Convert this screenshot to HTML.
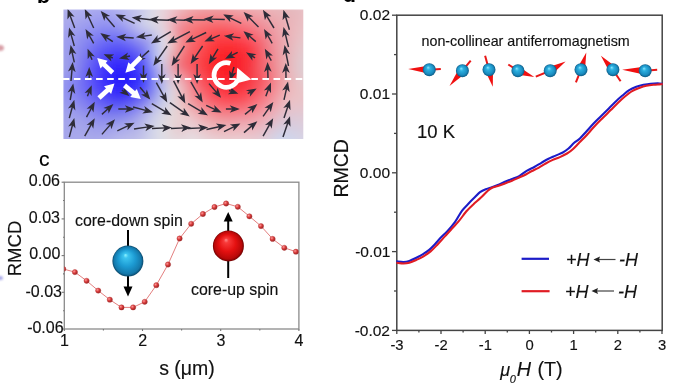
<!DOCTYPE html>
<html><head><meta charset="utf-8"><style>
html,body{margin:0;padding:0;background:#fff;width:675px;height:386px;overflow:hidden}
svg{display:block;filter:blur(0.3px)}
svg text{stroke:#111;stroke-width:0.15px}
</style></head><body>
<svg width="675" height="386" viewBox="0 0 675 386">
<defs>
<clipPath id="clipc"><rect x="64.3" y="182.2" width="234.6" height="146.8"/></clipPath>
<clipPath id="clipb"><rect x="63.4" y="9.6" width="239.9" height="129.4"/></clipPath>
<filter id="blur1" x="-100%" y="-100%" width="300%" height="300%"><feGaussianBlur stdDeviation="1"/></filter>
<filter id="blur2" x="-5%" y="-5%" width="110%" height="110%"><feGaussianBlur stdDeviation="2.2"/></filter>
<radialGradient id="gdot" cx="0.35" cy="0.35" r="0.7"><stop offset="0" stop-color="#ff9a9a"/><stop offset="0.5" stop-color="#d83a3a"/><stop offset="1" stop-color="#902020"/></radialGradient>
<radialGradient id="gcyan" cx="0.5" cy="0.5" r="0.5" fx="0.4" fy="0.32"><stop offset="0" stop-color="#8ae6ff"/><stop offset="0.3" stop-color="#2cb0e0"/><stop offset="0.75" stop-color="#1a8cc0"/><stop offset="1" stop-color="#0c5a84"/></radialGradient>
<radialGradient id="gblue" cx="0.5" cy="0.5" r="0.5" fx="0.42" fy="0.3"><stop offset="0" stop-color="#8ff4ff"/><stop offset="0.15" stop-color="#3cc4f0"/><stop offset="0.55" stop-color="#1c9ad2"/><stop offset="0.88" stop-color="#1478aa"/><stop offset="1" stop-color="#0a4668"/></radialGradient>
<radialGradient id="gred" cx="0.5" cy="0.5" r="0.5" fx="0.42" fy="0.3"><stop offset="0" stop-color="#ff8a8a"/><stop offset="0.15" stop-color="#f83a3a"/><stop offset="0.55" stop-color="#e41010"/><stop offset="0.88" stop-color="#b80808"/><stop offset="1" stop-color="#700000"/></radialGradient>
</defs>
<rect width="675" height="386" fill="#fff"/>
<ellipse cx="0" cy="48" rx="4" ry="3" fill="#d9a0a8" filter="url(#blur1)"/><ellipse cx="0" cy="278" rx="3" ry="2" fill="#a8a8e8" filter="url(#blur1)"/>
<!-- panel b -->
<g clip-path="url(#clipb)"><g filter="url(#blur2)"><rect x="60.4" y="6.6" width="4.5" height="4.5" fill="#afafeb"/><rect x="64.4" y="6.6" width="4.5" height="4.5" fill="#b0b0eb"/><rect x="68.4" y="6.6" width="4.5" height="4.5" fill="#afb0eb"/><rect x="72.4" y="6.6" width="4.5" height="4.5" fill="#afafec"/><rect x="76.4" y="6.6" width="4.5" height="4.5" fill="#aeaeed"/><rect x="80.4" y="6.6" width="4.5" height="4.5" fill="#adaded"/><rect x="84.4" y="6.6" width="4.5" height="4.5" fill="#abacee"/><rect x="88.4" y="6.6" width="4.5" height="4.5" fill="#aaabee"/><rect x="92.4" y="6.6" width="4.5" height="4.5" fill="#a9aaef"/><rect x="96.4" y="6.6" width="4.5" height="4.5" fill="#a8a9ef"/><rect x="100.4" y="6.6" width="4.5" height="4.5" fill="#a9a9f0"/><rect x="104.4" y="6.6" width="4.5" height="4.5" fill="#aaaaf0"/><rect x="108.4" y="6.6" width="4.5" height="4.5" fill="#acacf0"/><rect x="112.4" y="6.6" width="4.5" height="4.5" fill="#aeaff0"/><rect x="116.4" y="6.6" width="4.5" height="4.5" fill="#b1b2ef"/><rect x="120.4" y="6.6" width="4.5" height="4.5" fill="#b5b6ef"/><rect x="124.4" y="6.6" width="4.5" height="4.5" fill="#b9baee"/><rect x="128.4" y="6.6" width="4.5" height="4.5" fill="#bdbeed"/><rect x="132.4" y="6.6" width="4.5" height="4.5" fill="#c2c2ec"/><rect x="136.4" y="6.6" width="4.5" height="4.5" fill="#c6c7ec"/><rect x="140.4" y="6.6" width="4.5" height="4.5" fill="#ccccea"/><rect x="144.4" y="6.6" width="4.5" height="4.5" fill="#d2d1e9"/><rect x="148.4" y="6.6" width="4.5" height="4.5" fill="#d8d5e6"/><rect x="152.4" y="6.6" width="4.5" height="4.5" fill="#ddd7e4"/><rect x="156.4" y="6.6" width="4.5" height="4.5" fill="#e1d6e0"/><rect x="160.4" y="6.6" width="4.5" height="4.5" fill="#e5d3dc"/><rect x="164.4" y="6.6" width="4.5" height="4.5" fill="#e7ced6"/><rect x="168.4" y="6.6" width="4.5" height="4.5" fill="#eac8d0"/><rect x="172.4" y="6.6" width="4.5" height="4.5" fill="#ecc2c8"/><rect x="176.4" y="6.6" width="4.5" height="4.5" fill="#edbbc1"/><rect x="180.4" y="6.6" width="4.5" height="4.5" fill="#eeb5ba"/><rect x="184.4" y="6.6" width="4.5" height="4.5" fill="#efb0b4"/><rect x="188.4" y="6.6" width="4.5" height="4.5" fill="#efabaf"/><rect x="192.4" y="6.6" width="4.5" height="4.5" fill="#efa7ab"/><rect x="196.4" y="6.6" width="4.5" height="4.5" fill="#efa4a8"/><rect x="200.4" y="6.6" width="4.5" height="4.5" fill="#efa2a6"/><rect x="204.4" y="6.6" width="4.5" height="4.5" fill="#eea0a5"/><rect x="208.4" y="6.6" width="4.5" height="4.5" fill="#ee9fa4"/><rect x="212.4" y="6.6" width="4.5" height="4.5" fill="#ee9fa3"/><rect x="216.4" y="6.6" width="4.5" height="4.5" fill="#ee9fa3"/><rect x="220.4" y="6.6" width="4.5" height="4.5" fill="#ef9fa4"/><rect x="224.4" y="6.6" width="4.5" height="4.5" fill="#efa1a5"/><rect x="228.4" y="6.6" width="4.5" height="4.5" fill="#efa3a7"/><rect x="232.4" y="6.6" width="4.5" height="4.5" fill="#eea5a9"/><rect x="236.4" y="6.6" width="4.5" height="4.5" fill="#eea7ac"/><rect x="240.4" y="6.6" width="4.5" height="4.5" fill="#eea9ae"/><rect x="244.4" y="6.6" width="4.5" height="4.5" fill="#edabaf"/><rect x="248.4" y="6.6" width="4.5" height="4.5" fill="#edacb0"/><rect x="252.4" y="6.6" width="4.5" height="4.5" fill="#ecadb2"/><rect x="256.4" y="6.6" width="4.5" height="4.5" fill="#ecafb3"/><rect x="260.4" y="6.6" width="4.5" height="4.5" fill="#ebb0b5"/><rect x="264.4" y="6.6" width="4.5" height="4.5" fill="#eab2b6"/><rect x="268.4" y="6.6" width="4.5" height="4.5" fill="#eab3b8"/><rect x="272.4" y="6.6" width="4.5" height="4.5" fill="#e9b5b9"/><rect x="276.4" y="6.6" width="4.5" height="4.5" fill="#e8b6ba"/><rect x="280.4" y="6.6" width="4.5" height="4.5" fill="#e7b7bb"/><rect x="284.4" y="6.6" width="4.5" height="4.5" fill="#e6b8bc"/><rect x="288.4" y="6.6" width="4.5" height="4.5" fill="#e5b9bd"/><rect x="292.4" y="6.6" width="4.5" height="4.5" fill="#e5babf"/><rect x="296.4" y="6.6" width="4.5" height="4.5" fill="#e6bcc1"/><rect x="300.4" y="6.6" width="4.5" height="4.5" fill="#e7bec3"/><rect x="304.4" y="6.6" width="4.5" height="4.5" fill="#e7c1c6"/><rect x="60.4" y="10.6" width="4.5" height="4.5" fill="#aeaeea"/><rect x="64.4" y="10.6" width="4.5" height="4.5" fill="#aeaeeb"/><rect x="68.4" y="10.6" width="4.5" height="4.5" fill="#aeaeeb"/><rect x="72.4" y="10.6" width="4.5" height="4.5" fill="#adadec"/><rect x="76.4" y="10.6" width="4.5" height="4.5" fill="#ababed"/><rect x="80.4" y="10.6" width="4.5" height="4.5" fill="#aaaaed"/><rect x="84.4" y="10.6" width="4.5" height="4.5" fill="#a8a9ee"/><rect x="88.4" y="10.6" width="4.5" height="4.5" fill="#a7a7ef"/><rect x="92.4" y="10.6" width="4.5" height="4.5" fill="#a5a5ef"/><rect x="96.4" y="10.6" width="4.5" height="4.5" fill="#a4a4ef"/><rect x="100.4" y="10.6" width="4.5" height="4.5" fill="#a4a4f0"/><rect x="104.4" y="10.6" width="4.5" height="4.5" fill="#a5a5f0"/><rect x="108.4" y="10.6" width="4.5" height="4.5" fill="#a7a7f0"/><rect x="112.4" y="10.6" width="4.5" height="4.5" fill="#aaaaf0"/><rect x="116.4" y="10.6" width="4.5" height="4.5" fill="#adadef"/><rect x="120.4" y="10.6" width="4.5" height="4.5" fill="#b1b2ee"/><rect x="124.4" y="10.6" width="4.5" height="4.5" fill="#b6b6ed"/><rect x="128.4" y="10.6" width="4.5" height="4.5" fill="#bbbbec"/><rect x="132.4" y="10.6" width="4.5" height="4.5" fill="#c0c0eb"/><rect x="136.4" y="10.6" width="4.5" height="4.5" fill="#c5c5eb"/><rect x="140.4" y="10.6" width="4.5" height="4.5" fill="#cbcbea"/><rect x="144.4" y="10.6" width="4.5" height="4.5" fill="#d2d2e8"/><rect x="148.4" y="10.6" width="4.5" height="4.5" fill="#d8d6e6"/><rect x="152.4" y="10.6" width="4.5" height="4.5" fill="#ddd7e3"/><rect x="156.4" y="10.6" width="4.5" height="4.5" fill="#e2d6df"/><rect x="160.4" y="10.6" width="4.5" height="4.5" fill="#e5d2da"/><rect x="164.4" y="10.6" width="4.5" height="4.5" fill="#e8ccd4"/><rect x="168.4" y="10.6" width="4.5" height="4.5" fill="#eac4cc"/><rect x="172.4" y="10.6" width="4.5" height="4.5" fill="#ecbbc3"/><rect x="176.4" y="10.6" width="4.5" height="4.5" fill="#eeb3ba"/><rect x="180.4" y="10.6" width="4.5" height="4.5" fill="#efacb2"/><rect x="184.4" y="10.6" width="4.5" height="4.5" fill="#f0a6ab"/><rect x="188.4" y="10.6" width="4.5" height="4.5" fill="#f0a0a5"/><rect x="192.4" y="10.6" width="4.5" height="4.5" fill="#f19ca0"/><rect x="196.4" y="10.6" width="4.5" height="4.5" fill="#f0999d"/><rect x="200.4" y="10.6" width="4.5" height="4.5" fill="#f0969b"/><rect x="204.4" y="10.6" width="4.5" height="4.5" fill="#f09599"/><rect x="208.4" y="10.6" width="4.5" height="4.5" fill="#f09499"/><rect x="212.4" y="10.6" width="4.5" height="4.5" fill="#f09398"/><rect x="216.4" y="10.6" width="4.5" height="4.5" fill="#f09298"/><rect x="220.4" y="10.6" width="4.5" height="4.5" fill="#f19398"/><rect x="224.4" y="10.6" width="4.5" height="4.5" fill="#f1959a"/><rect x="228.4" y="10.6" width="4.5" height="4.5" fill="#f1979c"/><rect x="232.4" y="10.6" width="4.5" height="4.5" fill="#f09a9f"/><rect x="236.4" y="10.6" width="4.5" height="4.5" fill="#f09da2"/><rect x="240.4" y="10.6" width="4.5" height="4.5" fill="#f09fa4"/><rect x="244.4" y="10.6" width="4.5" height="4.5" fill="#efa1a6"/><rect x="248.4" y="10.6" width="4.5" height="4.5" fill="#efa3a8"/><rect x="252.4" y="10.6" width="4.5" height="4.5" fill="#eea5aa"/><rect x="256.4" y="10.6" width="4.5" height="4.5" fill="#eda7ad"/><rect x="260.4" y="10.6" width="4.5" height="4.5" fill="#eca9af"/><rect x="264.4" y="10.6" width="4.5" height="4.5" fill="#ebacb1"/><rect x="268.4" y="10.6" width="4.5" height="4.5" fill="#ebaeb3"/><rect x="272.4" y="10.6" width="4.5" height="4.5" fill="#eab0b5"/><rect x="276.4" y="10.6" width="4.5" height="4.5" fill="#e9b2b7"/><rect x="280.4" y="10.6" width="4.5" height="4.5" fill="#e8b3b8"/><rect x="284.4" y="10.6" width="4.5" height="4.5" fill="#e7b5ba"/><rect x="288.4" y="10.6" width="4.5" height="4.5" fill="#e6b6bb"/><rect x="292.4" y="10.6" width="4.5" height="4.5" fill="#e6b8bd"/><rect x="296.4" y="10.6" width="4.5" height="4.5" fill="#e6babf"/><rect x="300.4" y="10.6" width="4.5" height="4.5" fill="#e7bdc2"/><rect x="304.4" y="10.6" width="4.5" height="4.5" fill="#e8c0c5"/><rect x="60.4" y="14.6" width="4.5" height="4.5" fill="#acaceb"/><rect x="64.4" y="14.6" width="4.5" height="4.5" fill="#acaceb"/><rect x="68.4" y="14.6" width="4.5" height="4.5" fill="#ababeb"/><rect x="72.4" y="14.6" width="4.5" height="4.5" fill="#aaaaec"/><rect x="76.4" y="14.6" width="4.5" height="4.5" fill="#a8a8ed"/><rect x="80.4" y="14.6" width="4.5" height="4.5" fill="#a7a7ee"/><rect x="84.4" y="14.6" width="4.5" height="4.5" fill="#a5a5ef"/><rect x="88.4" y="14.6" width="4.5" height="4.5" fill="#a3a3ef"/><rect x="92.4" y="14.6" width="4.5" height="4.5" fill="#a1a1f0"/><rect x="96.4" y="14.6" width="4.5" height="4.5" fill="#9f9ff0"/><rect x="100.4" y="14.6" width="4.5" height="4.5" fill="#9f9ff0"/><rect x="104.4" y="14.6" width="4.5" height="4.5" fill="#9f9ff0"/><rect x="108.4" y="14.6" width="4.5" height="4.5" fill="#a1a1f0"/><rect x="112.4" y="14.6" width="4.5" height="4.5" fill="#a4a4f0"/><rect x="116.4" y="14.6" width="4.5" height="4.5" fill="#a8a8ef"/><rect x="120.4" y="14.6" width="4.5" height="4.5" fill="#adadee"/><rect x="124.4" y="14.6" width="4.5" height="4.5" fill="#b2b2ed"/><rect x="128.4" y="14.6" width="4.5" height="4.5" fill="#b8b8ec"/><rect x="132.4" y="14.6" width="4.5" height="4.5" fill="#bfbeeb"/><rect x="136.4" y="14.6" width="4.5" height="4.5" fill="#c5c5ea"/><rect x="140.4" y="14.6" width="4.5" height="4.5" fill="#cbcce9"/><rect x="144.4" y="14.6" width="4.5" height="4.5" fill="#d2d3e7"/><rect x="148.4" y="14.6" width="4.5" height="4.5" fill="#d8d7e5"/><rect x="152.4" y="14.6" width="4.5" height="4.5" fill="#ddd8e2"/><rect x="156.4" y="14.6" width="4.5" height="4.5" fill="#e1d5de"/><rect x="160.4" y="14.6" width="4.5" height="4.5" fill="#e5d1d9"/><rect x="164.4" y="14.6" width="4.5" height="4.5" fill="#e8c9d2"/><rect x="168.4" y="14.6" width="4.5" height="4.5" fill="#ebc0c9"/><rect x="172.4" y="14.6" width="4.5" height="4.5" fill="#edb5be"/><rect x="176.4" y="14.6" width="4.5" height="4.5" fill="#eeabb3"/><rect x="180.4" y="14.6" width="4.5" height="4.5" fill="#f0a2a9"/><rect x="184.4" y="14.6" width="4.5" height="4.5" fill="#f19ba1"/><rect x="188.4" y="14.6" width="4.5" height="4.5" fill="#f1959a"/><rect x="192.4" y="14.6" width="4.5" height="4.5" fill="#f29195"/><rect x="196.4" y="14.6" width="4.5" height="4.5" fill="#f28d92"/><rect x="200.4" y="14.6" width="4.5" height="4.5" fill="#f28b8f"/><rect x="204.4" y="14.6" width="4.5" height="4.5" fill="#f2888d"/><rect x="208.4" y="14.6" width="4.5" height="4.5" fill="#f2878c"/><rect x="212.4" y="14.6" width="4.5" height="4.5" fill="#f2868b"/><rect x="216.4" y="14.6" width="4.5" height="4.5" fill="#f3858b"/><rect x="220.4" y="14.6" width="4.5" height="4.5" fill="#f3868c"/><rect x="224.4" y="14.6" width="4.5" height="4.5" fill="#f3888d"/><rect x="228.4" y="14.6" width="4.5" height="4.5" fill="#f38a90"/><rect x="232.4" y="14.6" width="4.5" height="4.5" fill="#f38d93"/><rect x="236.4" y="14.6" width="4.5" height="4.5" fill="#f29096"/><rect x="240.4" y="14.6" width="4.5" height="4.5" fill="#f2939a"/><rect x="244.4" y="14.6" width="4.5" height="4.5" fill="#f1969c"/><rect x="248.4" y="14.6" width="4.5" height="4.5" fill="#f0989f"/><rect x="252.4" y="14.6" width="4.5" height="4.5" fill="#ef9ba2"/><rect x="256.4" y="14.6" width="4.5" height="4.5" fill="#ee9ea5"/><rect x="260.4" y="14.6" width="4.5" height="4.5" fill="#eda2a8"/><rect x="264.4" y="14.6" width="4.5" height="4.5" fill="#eca5ab"/><rect x="268.4" y="14.6" width="4.5" height="4.5" fill="#eba8ae"/><rect x="272.4" y="14.6" width="4.5" height="4.5" fill="#eaabb1"/><rect x="276.4" y="14.6" width="4.5" height="4.5" fill="#e9aeb4"/><rect x="280.4" y="14.6" width="4.5" height="4.5" fill="#e9b1b6"/><rect x="284.4" y="14.6" width="4.5" height="4.5" fill="#e8b3b8"/><rect x="288.4" y="14.6" width="4.5" height="4.5" fill="#e7b5ba"/><rect x="292.4" y="14.6" width="4.5" height="4.5" fill="#e7b7bc"/><rect x="296.4" y="14.6" width="4.5" height="4.5" fill="#e7babf"/><rect x="300.4" y="14.6" width="4.5" height="4.5" fill="#e8bdc2"/><rect x="304.4" y="14.6" width="4.5" height="4.5" fill="#e8c0c5"/><rect x="60.4" y="18.6" width="4.5" height="4.5" fill="#aaaaeb"/><rect x="64.4" y="18.6" width="4.5" height="4.5" fill="#a9a9ec"/><rect x="68.4" y="18.6" width="4.5" height="4.5" fill="#a8a8ec"/><rect x="72.4" y="18.6" width="4.5" height="4.5" fill="#a7a6ed"/><rect x="76.4" y="18.6" width="4.5" height="4.5" fill="#a5a5ed"/><rect x="80.4" y="18.6" width="4.5" height="4.5" fill="#a3a3ee"/><rect x="84.4" y="18.6" width="4.5" height="4.5" fill="#a1a1ef"/><rect x="88.4" y="18.6" width="4.5" height="4.5" fill="#9f9ef0"/><rect x="92.4" y="18.6" width="4.5" height="4.5" fill="#9c9cf0"/><rect x="96.4" y="18.6" width="4.5" height="4.5" fill="#9a9af0"/><rect x="100.4" y="18.6" width="4.5" height="4.5" fill="#9999f1"/><rect x="104.4" y="18.6" width="4.5" height="4.5" fill="#9999f1"/><rect x="108.4" y="18.6" width="4.5" height="4.5" fill="#9a9af1"/><rect x="112.4" y="18.6" width="4.5" height="4.5" fill="#9d9df0"/><rect x="116.4" y="18.6" width="4.5" height="4.5" fill="#a1a1f0"/><rect x="120.4" y="18.6" width="4.5" height="4.5" fill="#a7a7ef"/><rect x="124.4" y="18.6" width="4.5" height="4.5" fill="#adadee"/><rect x="128.4" y="18.6" width="4.5" height="4.5" fill="#b4b4ec"/><rect x="132.4" y="18.6" width="4.5" height="4.5" fill="#bcbceb"/><rect x="136.4" y="18.6" width="4.5" height="4.5" fill="#c3c4ea"/><rect x="140.4" y="18.6" width="4.5" height="4.5" fill="#cacbe9"/><rect x="144.4" y="18.6" width="4.5" height="4.5" fill="#d1d2e8"/><rect x="148.4" y="18.6" width="4.5" height="4.5" fill="#d7d6e5"/><rect x="152.4" y="18.6" width="4.5" height="4.5" fill="#dcd7e3"/><rect x="156.4" y="18.6" width="4.5" height="4.5" fill="#e0d5df"/><rect x="160.4" y="18.6" width="4.5" height="4.5" fill="#e4cfd9"/><rect x="164.4" y="18.6" width="4.5" height="4.5" fill="#e8c7d1"/><rect x="168.4" y="18.6" width="4.5" height="4.5" fill="#ebbcc6"/><rect x="172.4" y="18.6" width="4.5" height="4.5" fill="#edafb8"/><rect x="176.4" y="18.6" width="4.5" height="4.5" fill="#efa2ab"/><rect x="180.4" y="18.6" width="4.5" height="4.5" fill="#f098a0"/><rect x="184.4" y="18.6" width="4.5" height="4.5" fill="#f19097"/><rect x="188.4" y="18.6" width="4.5" height="4.5" fill="#f28b90"/><rect x="192.4" y="18.6" width="4.5" height="4.5" fill="#f3868a"/><rect x="196.4" y="18.6" width="4.5" height="4.5" fill="#f48286"/><rect x="200.4" y="18.6" width="4.5" height="4.5" fill="#f47f83"/><rect x="204.4" y="18.6" width="4.5" height="4.5" fill="#f47c80"/><rect x="208.4" y="18.6" width="4.5" height="4.5" fill="#f47a7f"/><rect x="212.4" y="18.6" width="4.5" height="4.5" fill="#f5787d"/><rect x="216.4" y="18.6" width="4.5" height="4.5" fill="#f5787d"/><rect x="220.4" y="18.6" width="4.5" height="4.5" fill="#f5787e"/><rect x="224.4" y="18.6" width="4.5" height="4.5" fill="#f57a80"/><rect x="228.4" y="18.6" width="4.5" height="4.5" fill="#f57c83"/><rect x="232.4" y="18.6" width="4.5" height="4.5" fill="#f57f87"/><rect x="236.4" y="18.6" width="4.5" height="4.5" fill="#f5838a"/><rect x="240.4" y="18.6" width="4.5" height="4.5" fill="#f4868e"/><rect x="244.4" y="18.6" width="4.5" height="4.5" fill="#f38991"/><rect x="248.4" y="18.6" width="4.5" height="4.5" fill="#f28d95"/><rect x="252.4" y="18.6" width="4.5" height="4.5" fill="#f19199"/><rect x="256.4" y="18.6" width="4.5" height="4.5" fill="#f0959d"/><rect x="260.4" y="18.6" width="4.5" height="4.5" fill="#ee9aa2"/><rect x="264.4" y="18.6" width="4.5" height="4.5" fill="#ed9ea6"/><rect x="268.4" y="18.6" width="4.5" height="4.5" fill="#eca3aa"/><rect x="272.4" y="18.6" width="4.5" height="4.5" fill="#eba7ad"/><rect x="276.4" y="18.6" width="4.5" height="4.5" fill="#eaabb1"/><rect x="280.4" y="18.6" width="4.5" height="4.5" fill="#eaaeb4"/><rect x="284.4" y="18.6" width="4.5" height="4.5" fill="#e9b1b7"/><rect x="288.4" y="18.6" width="4.5" height="4.5" fill="#e8b4b9"/><rect x="292.4" y="18.6" width="4.5" height="4.5" fill="#e8b7bc"/><rect x="296.4" y="18.6" width="4.5" height="4.5" fill="#e8babf"/><rect x="300.4" y="18.6" width="4.5" height="4.5" fill="#e8bdc2"/><rect x="304.4" y="18.6" width="4.5" height="4.5" fill="#e8c0c5"/><rect x="60.4" y="22.6" width="4.5" height="4.5" fill="#a8a8ec"/><rect x="64.4" y="22.6" width="4.5" height="4.5" fill="#a7a6ec"/><rect x="68.4" y="22.6" width="4.5" height="4.5" fill="#a5a5ed"/><rect x="72.4" y="22.6" width="4.5" height="4.5" fill="#a3a3ed"/><rect x="76.4" y="22.6" width="4.5" height="4.5" fill="#a1a1ee"/><rect x="80.4" y="22.6" width="4.5" height="4.5" fill="#9e9eef"/><rect x="84.4" y="22.6" width="4.5" height="4.5" fill="#9c9cef"/><rect x="88.4" y="22.6" width="4.5" height="4.5" fill="#9999f0"/><rect x="92.4" y="22.6" width="4.5" height="4.5" fill="#9696f1"/><rect x="96.4" y="22.6" width="4.5" height="4.5" fill="#9494f1"/><rect x="100.4" y="22.6" width="4.5" height="4.5" fill="#9292f1"/><rect x="104.4" y="22.6" width="4.5" height="4.5" fill="#9292f1"/><rect x="108.4" y="22.6" width="4.5" height="4.5" fill="#9393f1"/><rect x="112.4" y="22.6" width="4.5" height="4.5" fill="#9595f1"/><rect x="116.4" y="22.6" width="4.5" height="4.5" fill="#9999f1"/><rect x="120.4" y="22.6" width="4.5" height="4.5" fill="#9f9ff0"/><rect x="124.4" y="22.6" width="4.5" height="4.5" fill="#a6a6ef"/><rect x="128.4" y="22.6" width="4.5" height="4.5" fill="#aeaeed"/><rect x="132.4" y="22.6" width="4.5" height="4.5" fill="#b7b7ec"/><rect x="136.4" y="22.6" width="4.5" height="4.5" fill="#bfc0ec"/><rect x="140.4" y="22.6" width="4.5" height="4.5" fill="#c7c7ea"/><rect x="144.4" y="22.6" width="4.5" height="4.5" fill="#cdcee9"/><rect x="148.4" y="22.6" width="4.5" height="4.5" fill="#d2d2e7"/><rect x="152.4" y="22.6" width="4.5" height="4.5" fill="#d8d4e4"/><rect x="156.4" y="22.6" width="4.5" height="4.5" fill="#ddd3e0"/><rect x="160.4" y="22.6" width="4.5" height="4.5" fill="#e3cfd9"/><rect x="164.4" y="22.6" width="4.5" height="4.5" fill="#e7c6d0"/><rect x="168.4" y="22.6" width="4.5" height="4.5" fill="#ebb9c3"/><rect x="172.4" y="22.6" width="4.5" height="4.5" fill="#eda9b3"/><rect x="176.4" y="22.6" width="4.5" height="4.5" fill="#ef9aa4"/><rect x="180.4" y="22.6" width="4.5" height="4.5" fill="#f08e97"/><rect x="184.4" y="22.6" width="4.5" height="4.5" fill="#f2868d"/><rect x="188.4" y="22.6" width="4.5" height="4.5" fill="#f38186"/><rect x="192.4" y="22.6" width="4.5" height="4.5" fill="#f47c80"/><rect x="196.4" y="22.6" width="4.5" height="4.5" fill="#f5787c"/><rect x="200.4" y="22.6" width="4.5" height="4.5" fill="#f67478"/><rect x="204.4" y="22.6" width="4.5" height="4.5" fill="#f67074"/><rect x="208.4" y="22.6" width="4.5" height="4.5" fill="#f76d72"/><rect x="212.4" y="22.6" width="4.5" height="4.5" fill="#f76b70"/><rect x="216.4" y="22.6" width="4.5" height="4.5" fill="#f76a6f"/><rect x="220.4" y="22.6" width="4.5" height="4.5" fill="#f76a70"/><rect x="224.4" y="22.6" width="4.5" height="4.5" fill="#f76c73"/><rect x="228.4" y="22.6" width="4.5" height="4.5" fill="#f76e76"/><rect x="232.4" y="22.6" width="4.5" height="4.5" fill="#f77179"/><rect x="236.4" y="22.6" width="4.5" height="4.5" fill="#f7757d"/><rect x="240.4" y="22.6" width="4.5" height="4.5" fill="#f67982"/><rect x="244.4" y="22.6" width="4.5" height="4.5" fill="#f57d86"/><rect x="248.4" y="22.6" width="4.5" height="4.5" fill="#f4818a"/><rect x="252.4" y="22.6" width="4.5" height="4.5" fill="#f2868f"/><rect x="256.4" y="22.6" width="4.5" height="4.5" fill="#f18c95"/><rect x="260.4" y="22.6" width="4.5" height="4.5" fill="#ef919b"/><rect x="264.4" y="22.6" width="4.5" height="4.5" fill="#ee97a0"/><rect x="268.4" y="22.6" width="4.5" height="4.5" fill="#ed9da5"/><rect x="272.4" y="22.6" width="4.5" height="4.5" fill="#eca2aa"/><rect x="276.4" y="22.6" width="4.5" height="4.5" fill="#eba7ae"/><rect x="280.4" y="22.6" width="4.5" height="4.5" fill="#ebacb2"/><rect x="284.4" y="22.6" width="4.5" height="4.5" fill="#eab0b6"/><rect x="288.4" y="22.6" width="4.5" height="4.5" fill="#e9b4b9"/><rect x="292.4" y="22.6" width="4.5" height="4.5" fill="#e9b7bc"/><rect x="296.4" y="22.6" width="4.5" height="4.5" fill="#e8bbc0"/><rect x="300.4" y="22.6" width="4.5" height="4.5" fill="#e8bec3"/><rect x="304.4" y="22.6" width="4.5" height="4.5" fill="#e8c1c6"/><rect x="60.4" y="26.6" width="4.5" height="4.5" fill="#a6a6ec"/><rect x="64.4" y="26.6" width="4.5" height="4.5" fill="#a4a4ed"/><rect x="68.4" y="26.6" width="4.5" height="4.5" fill="#a2a2ed"/><rect x="72.4" y="26.6" width="4.5" height="4.5" fill="#9f9fee"/><rect x="76.4" y="26.6" width="4.5" height="4.5" fill="#9d9def"/><rect x="80.4" y="26.6" width="4.5" height="4.5" fill="#9a9aef"/><rect x="84.4" y="26.6" width="4.5" height="4.5" fill="#9696f0"/><rect x="88.4" y="26.6" width="4.5" height="4.5" fill="#9393f1"/><rect x="92.4" y="26.6" width="4.5" height="4.5" fill="#9090f1"/><rect x="96.4" y="26.6" width="4.5" height="4.5" fill="#8d8df2"/><rect x="100.4" y="26.6" width="4.5" height="4.5" fill="#8a8af2"/><rect x="104.4" y="26.6" width="4.5" height="4.5" fill="#8989f2"/><rect x="108.4" y="26.6" width="4.5" height="4.5" fill="#898af2"/><rect x="112.4" y="26.6" width="4.5" height="4.5" fill="#8b8cf2"/><rect x="116.4" y="26.6" width="4.5" height="4.5" fill="#8f8ff2"/><rect x="120.4" y="26.6" width="4.5" height="4.5" fill="#9595f1"/><rect x="124.4" y="26.6" width="4.5" height="4.5" fill="#9c9cf0"/><rect x="128.4" y="26.6" width="4.5" height="4.5" fill="#a5a5ef"/><rect x="132.4" y="26.6" width="4.5" height="4.5" fill="#afafee"/><rect x="136.4" y="26.6" width="4.5" height="4.5" fill="#b8b9ed"/><rect x="140.4" y="26.6" width="4.5" height="4.5" fill="#c0c0ec"/><rect x="144.4" y="26.6" width="4.5" height="4.5" fill="#c5c5ea"/><rect x="148.4" y="26.6" width="4.5" height="4.5" fill="#cbcbe8"/><rect x="152.4" y="26.6" width="4.5" height="4.5" fill="#d2cfe6"/><rect x="156.4" y="26.6" width="4.5" height="4.5" fill="#d9d1e2"/><rect x="160.4" y="26.6" width="4.5" height="4.5" fill="#e0cfdb"/><rect x="164.4" y="26.6" width="4.5" height="4.5" fill="#e6c7d1"/><rect x="168.4" y="26.6" width="4.5" height="4.5" fill="#eab9c2"/><rect x="172.4" y="26.6" width="4.5" height="4.5" fill="#eda6b0"/><rect x="176.4" y="26.6" width="4.5" height="4.5" fill="#ef939e"/><rect x="180.4" y="26.6" width="4.5" height="4.5" fill="#f1868f"/><rect x="184.4" y="26.6" width="4.5" height="4.5" fill="#f37f86"/><rect x="188.4" y="26.6" width="4.5" height="4.5" fill="#f4797e"/><rect x="192.4" y="26.6" width="4.5" height="4.5" fill="#f67478"/><rect x="196.4" y="26.6" width="4.5" height="4.5" fill="#f76e72"/><rect x="200.4" y="26.6" width="4.5" height="4.5" fill="#f76a6d"/><rect x="204.4" y="26.6" width="4.5" height="4.5" fill="#f86569"/><rect x="208.4" y="26.6" width="4.5" height="4.5" fill="#f86166"/><rect x="212.4" y="26.6" width="4.5" height="4.5" fill="#f95e63"/><rect x="216.4" y="26.6" width="4.5" height="4.5" fill="#f95d62"/><rect x="220.4" y="26.6" width="4.5" height="4.5" fill="#f95d63"/><rect x="224.4" y="26.6" width="4.5" height="4.5" fill="#f95e65"/><rect x="228.4" y="26.6" width="4.5" height="4.5" fill="#f96068"/><rect x="232.4" y="26.6" width="4.5" height="4.5" fill="#f9636c"/><rect x="236.4" y="26.6" width="4.5" height="4.5" fill="#f96770"/><rect x="240.4" y="26.6" width="4.5" height="4.5" fill="#f86b75"/><rect x="244.4" y="26.6" width="4.5" height="4.5" fill="#f76f7a"/><rect x="248.4" y="26.6" width="4.5" height="4.5" fill="#f6757f"/><rect x="252.4" y="26.6" width="4.5" height="4.5" fill="#f47b85"/><rect x="256.4" y="26.6" width="4.5" height="4.5" fill="#f2828c"/><rect x="260.4" y="26.6" width="4.5" height="4.5" fill="#f08993"/><rect x="264.4" y="26.6" width="4.5" height="4.5" fill="#ef919a"/><rect x="268.4" y="26.6" width="4.5" height="4.5" fill="#ee98a0"/><rect x="272.4" y="26.6" width="4.5" height="4.5" fill="#ed9ea6"/><rect x="276.4" y="26.6" width="4.5" height="4.5" fill="#eca4ac"/><rect x="280.4" y="26.6" width="4.5" height="4.5" fill="#ebaab0"/><rect x="284.4" y="26.6" width="4.5" height="4.5" fill="#ebafb5"/><rect x="288.4" y="26.6" width="4.5" height="4.5" fill="#eab4b9"/><rect x="292.4" y="26.6" width="4.5" height="4.5" fill="#e9b8bd"/><rect x="296.4" y="26.6" width="4.5" height="4.5" fill="#e9bcc0"/><rect x="300.4" y="26.6" width="4.5" height="4.5" fill="#e8bfc4"/><rect x="304.4" y="26.6" width="4.5" height="4.5" fill="#e7c3c7"/><rect x="60.4" y="30.6" width="4.5" height="4.5" fill="#a4a4ed"/><rect x="64.4" y="30.6" width="4.5" height="4.5" fill="#a1a1ed"/><rect x="68.4" y="30.6" width="4.5" height="4.5" fill="#9f9fee"/><rect x="72.4" y="30.6" width="4.5" height="4.5" fill="#9c9cee"/><rect x="76.4" y="30.6" width="4.5" height="4.5" fill="#9999ef"/><rect x="80.4" y="30.6" width="4.5" height="4.5" fill="#9595f0"/><rect x="84.4" y="30.6" width="4.5" height="4.5" fill="#9191f0"/><rect x="88.4" y="30.6" width="4.5" height="4.5" fill="#8d8df1"/><rect x="92.4" y="30.6" width="4.5" height="4.5" fill="#8989f2"/><rect x="96.4" y="30.6" width="4.5" height="4.5" fill="#8585f2"/><rect x="100.4" y="30.6" width="4.5" height="4.5" fill="#8282f3"/><rect x="104.4" y="30.6" width="4.5" height="4.5" fill="#8080f3"/><rect x="108.4" y="30.6" width="4.5" height="4.5" fill="#8080f3"/><rect x="112.4" y="30.6" width="4.5" height="4.5" fill="#8081f3"/><rect x="116.4" y="30.6" width="4.5" height="4.5" fill="#8384f3"/><rect x="120.4" y="30.6" width="4.5" height="4.5" fill="#8989f2"/><rect x="124.4" y="30.6" width="4.5" height="4.5" fill="#9090f1"/><rect x="128.4" y="30.6" width="4.5" height="4.5" fill="#9999f0"/><rect x="132.4" y="30.6" width="4.5" height="4.5" fill="#a3a3ef"/><rect x="136.4" y="30.6" width="4.5" height="4.5" fill="#acacef"/><rect x="140.4" y="30.6" width="4.5" height="4.5" fill="#b4b4ed"/><rect x="144.4" y="30.6" width="4.5" height="4.5" fill="#babaeb"/><rect x="148.4" y="30.6" width="4.5" height="4.5" fill="#c1c1e9"/><rect x="152.4" y="30.6" width="4.5" height="4.5" fill="#cac9e7"/><rect x="156.4" y="30.6" width="4.5" height="4.5" fill="#d4cfe5"/><rect x="160.4" y="30.6" width="4.5" height="4.5" fill="#ded1df"/><rect x="164.4" y="30.6" width="4.5" height="4.5" fill="#e5cad4"/><rect x="168.4" y="30.6" width="4.5" height="4.5" fill="#eabcc3"/><rect x="172.4" y="30.6" width="4.5" height="4.5" fill="#eda8b0"/><rect x="176.4" y="30.6" width="4.5" height="4.5" fill="#ef949c"/><rect x="180.4" y="30.6" width="4.5" height="4.5" fill="#f1848d"/><rect x="184.4" y="30.6" width="4.5" height="4.5" fill="#f37b81"/><rect x="188.4" y="30.6" width="4.5" height="4.5" fill="#f57478"/><rect x="192.4" y="30.6" width="4.5" height="4.5" fill="#f66d71"/><rect x="196.4" y="30.6" width="4.5" height="4.5" fill="#f8676b"/><rect x="200.4" y="30.6" width="4.5" height="4.5" fill="#f86165"/><rect x="204.4" y="30.6" width="4.5" height="4.5" fill="#f95c60"/><rect x="208.4" y="30.6" width="4.5" height="4.5" fill="#fa575b"/><rect x="212.4" y="30.6" width="4.5" height="4.5" fill="#fa5358"/><rect x="216.4" y="30.6" width="4.5" height="4.5" fill="#fa5156"/><rect x="220.4" y="30.6" width="4.5" height="4.5" fill="#fa5056"/><rect x="224.4" y="30.6" width="4.5" height="4.5" fill="#fa5158"/><rect x="228.4" y="30.6" width="4.5" height="4.5" fill="#fa535b"/><rect x="232.4" y="30.6" width="4.5" height="4.5" fill="#fa555e"/><rect x="236.4" y="30.6" width="4.5" height="4.5" fill="#fa5963"/><rect x="240.4" y="30.6" width="4.5" height="4.5" fill="#fa5d68"/><rect x="244.4" y="30.6" width="4.5" height="4.5" fill="#f8626d"/><rect x="248.4" y="30.6" width="4.5" height="4.5" fill="#f76973"/><rect x="252.4" y="30.6" width="4.5" height="4.5" fill="#f5707b"/><rect x="256.4" y="30.6" width="4.5" height="4.5" fill="#f37883"/><rect x="260.4" y="30.6" width="4.5" height="4.5" fill="#f1818c"/><rect x="264.4" y="30.6" width="4.5" height="4.5" fill="#f08a94"/><rect x="268.4" y="30.6" width="4.5" height="4.5" fill="#ee929c"/><rect x="272.4" y="30.6" width="4.5" height="4.5" fill="#ed9aa3"/><rect x="276.4" y="30.6" width="4.5" height="4.5" fill="#eca2a9"/><rect x="280.4" y="30.6" width="4.5" height="4.5" fill="#eca8af"/><rect x="284.4" y="30.6" width="4.5" height="4.5" fill="#ebafb4"/><rect x="288.4" y="30.6" width="4.5" height="4.5" fill="#eab4b9"/><rect x="292.4" y="30.6" width="4.5" height="4.5" fill="#e9b9bd"/><rect x="296.4" y="30.6" width="4.5" height="4.5" fill="#e8bdc1"/><rect x="300.4" y="30.6" width="4.5" height="4.5" fill="#e8c1c5"/><rect x="304.4" y="30.6" width="4.5" height="4.5" fill="#e7c4c9"/><rect x="60.4" y="34.6" width="4.5" height="4.5" fill="#a2a2ed"/><rect x="64.4" y="34.6" width="4.5" height="4.5" fill="#9f9fee"/><rect x="68.4" y="34.6" width="4.5" height="4.5" fill="#9c9cee"/><rect x="72.4" y="34.6" width="4.5" height="4.5" fill="#9999ef"/><rect x="76.4" y="34.6" width="4.5" height="4.5" fill="#9595ef"/><rect x="80.4" y="34.6" width="4.5" height="4.5" fill="#9090f0"/><rect x="84.4" y="34.6" width="4.5" height="4.5" fill="#8c8cf1"/><rect x="88.4" y="34.6" width="4.5" height="4.5" fill="#8786f1"/><rect x="92.4" y="34.6" width="4.5" height="4.5" fill="#8281f2"/><rect x="96.4" y="34.6" width="4.5" height="4.5" fill="#7e7df3"/><rect x="100.4" y="34.6" width="4.5" height="4.5" fill="#7a79f3"/><rect x="104.4" y="34.6" width="4.5" height="4.5" fill="#7776f4"/><rect x="108.4" y="34.6" width="4.5" height="4.5" fill="#7575f4"/><rect x="112.4" y="34.6" width="4.5" height="4.5" fill="#7575f4"/><rect x="116.4" y="34.6" width="4.5" height="4.5" fill="#7777f4"/><rect x="120.4" y="34.6" width="4.5" height="4.5" fill="#7c7cf3"/><rect x="124.4" y="34.6" width="4.5" height="4.5" fill="#8383f2"/><rect x="128.4" y="34.6" width="4.5" height="4.5" fill="#8b8bf2"/><rect x="132.4" y="34.6" width="4.5" height="4.5" fill="#9494f0"/><rect x="136.4" y="34.6" width="4.5" height="4.5" fill="#9d9cef"/><rect x="140.4" y="34.6" width="4.5" height="4.5" fill="#a5a4ed"/><rect x="144.4" y="34.6" width="4.5" height="4.5" fill="#acabeb"/><rect x="148.4" y="34.6" width="4.5" height="4.5" fill="#b5b5ea"/><rect x="152.4" y="34.6" width="4.5" height="4.5" fill="#c1c1e9"/><rect x="156.4" y="34.6" width="4.5" height="4.5" fill="#cfcde8"/><rect x="160.4" y="34.6" width="4.5" height="4.5" fill="#dbd4e3"/><rect x="164.4" y="34.6" width="4.5" height="4.5" fill="#e4d0d8"/><rect x="168.4" y="34.6" width="4.5" height="4.5" fill="#eac1c7"/><rect x="172.4" y="34.6" width="4.5" height="4.5" fill="#edadb3"/><rect x="176.4" y="34.6" width="4.5" height="4.5" fill="#ef989e"/><rect x="180.4" y="34.6" width="4.5" height="4.5" fill="#f2868d"/><rect x="184.4" y="34.6" width="4.5" height="4.5" fill="#f47a7f"/><rect x="188.4" y="34.6" width="4.5" height="4.5" fill="#f67075"/><rect x="192.4" y="34.6" width="4.5" height="4.5" fill="#f7686c"/><rect x="196.4" y="34.6" width="4.5" height="4.5" fill="#f86165"/><rect x="200.4" y="34.6" width="4.5" height="4.5" fill="#f95a5e"/><rect x="204.4" y="34.6" width="4.5" height="4.5" fill="#fa5458"/><rect x="208.4" y="34.6" width="4.5" height="4.5" fill="#fa4e52"/><rect x="212.4" y="34.6" width="4.5" height="4.5" fill="#fb4a4e"/><rect x="216.4" y="34.6" width="4.5" height="4.5" fill="#fb474c"/><rect x="220.4" y="34.6" width="4.5" height="4.5" fill="#fb454b"/><rect x="224.4" y="34.6" width="4.5" height="4.5" fill="#fb454c"/><rect x="228.4" y="34.6" width="4.5" height="4.5" fill="#fb464e"/><rect x="232.4" y="34.6" width="4.5" height="4.5" fill="#fb4851"/><rect x="236.4" y="34.6" width="4.5" height="4.5" fill="#fb4c55"/><rect x="240.4" y="34.6" width="4.5" height="4.5" fill="#fa505a"/><rect x="244.4" y="34.6" width="4.5" height="4.5" fill="#f95660"/><rect x="248.4" y="34.6" width="4.5" height="4.5" fill="#f85d68"/><rect x="252.4" y="34.6" width="4.5" height="4.5" fill="#f66570"/><rect x="256.4" y="34.6" width="4.5" height="4.5" fill="#f46f7a"/><rect x="260.4" y="34.6" width="4.5" height="4.5" fill="#f27984"/><rect x="264.4" y="34.6" width="4.5" height="4.5" fill="#f0848e"/><rect x="268.4" y="34.6" width="4.5" height="4.5" fill="#ef8e97"/><rect x="272.4" y="34.6" width="4.5" height="4.5" fill="#ee97a0"/><rect x="276.4" y="34.6" width="4.5" height="4.5" fill="#ed9fa7"/><rect x="280.4" y="34.6" width="4.5" height="4.5" fill="#eca7ae"/><rect x="284.4" y="34.6" width="4.5" height="4.5" fill="#ebaeb4"/><rect x="288.4" y="34.6" width="4.5" height="4.5" fill="#eab4b9"/><rect x="292.4" y="34.6" width="4.5" height="4.5" fill="#e9b9be"/><rect x="296.4" y="34.6" width="4.5" height="4.5" fill="#e8bec3"/><rect x="300.4" y="34.6" width="4.5" height="4.5" fill="#e7c2c7"/><rect x="304.4" y="34.6" width="4.5" height="4.5" fill="#e6c6ca"/><rect x="60.4" y="38.6" width="4.5" height="4.5" fill="#a1a1ed"/><rect x="64.4" y="38.6" width="4.5" height="4.5" fill="#9d9dee"/><rect x="68.4" y="38.6" width="4.5" height="4.5" fill="#9a9aee"/><rect x="72.4" y="38.6" width="4.5" height="4.5" fill="#9696ef"/><rect x="76.4" y="38.6" width="4.5" height="4.5" fill="#9191ef"/><rect x="80.4" y="38.6" width="4.5" height="4.5" fill="#8c8cf0"/><rect x="84.4" y="38.6" width="4.5" height="4.5" fill="#8786f1"/><rect x="88.4" y="38.6" width="4.5" height="4.5" fill="#8180f2"/><rect x="92.4" y="38.6" width="4.5" height="4.5" fill="#7b7af3"/><rect x="96.4" y="38.6" width="4.5" height="4.5" fill="#7675f4"/><rect x="100.4" y="38.6" width="4.5" height="4.5" fill="#7170f4"/><rect x="104.4" y="38.6" width="4.5" height="4.5" fill="#6d6cf5"/><rect x="108.4" y="38.6" width="4.5" height="4.5" fill="#6b6af5"/><rect x="112.4" y="38.6" width="4.5" height="4.5" fill="#6a69f5"/><rect x="116.4" y="38.6" width="4.5" height="4.5" fill="#6b6af5"/><rect x="120.4" y="38.6" width="4.5" height="4.5" fill="#6e6ef4"/><rect x="124.4" y="38.6" width="4.5" height="4.5" fill="#7574f4"/><rect x="128.4" y="38.6" width="4.5" height="4.5" fill="#7c7bf3"/><rect x="132.4" y="38.6" width="4.5" height="4.5" fill="#8584f1"/><rect x="136.4" y="38.6" width="4.5" height="4.5" fill="#8e8df0"/><rect x="140.4" y="38.6" width="4.5" height="4.5" fill="#9695ee"/><rect x="144.4" y="38.6" width="4.5" height="4.5" fill="#9f9eec"/><rect x="148.4" y="38.6" width="4.5" height="4.5" fill="#aaaaeb"/><rect x="152.4" y="38.6" width="4.5" height="4.5" fill="#b9bbeb"/><rect x="156.4" y="38.6" width="4.5" height="4.5" fill="#cacbea"/><rect x="160.4" y="38.6" width="4.5" height="4.5" fill="#d8d5e6"/><rect x="164.4" y="38.6" width="4.5" height="4.5" fill="#e3d4dc"/><rect x="168.4" y="38.6" width="4.5" height="4.5" fill="#e9c5ca"/><rect x="172.4" y="38.6" width="4.5" height="4.5" fill="#edb0b5"/><rect x="176.4" y="38.6" width="4.5" height="4.5" fill="#ef9ba0"/><rect x="180.4" y="38.6" width="4.5" height="4.5" fill="#f2888e"/><rect x="184.4" y="38.6" width="4.5" height="4.5" fill="#f4797e"/><rect x="188.4" y="38.6" width="4.5" height="4.5" fill="#f66e72"/><rect x="192.4" y="38.6" width="4.5" height="4.5" fill="#f86468"/><rect x="196.4" y="38.6" width="4.5" height="4.5" fill="#f95c60"/><rect x="200.4" y="38.6" width="4.5" height="4.5" fill="#fa5458"/><rect x="204.4" y="38.6" width="4.5" height="4.5" fill="#fa4d51"/><rect x="208.4" y="38.6" width="4.5" height="4.5" fill="#fb474b"/><rect x="212.4" y="38.6" width="4.5" height="4.5" fill="#fb4246"/><rect x="216.4" y="38.6" width="4.5" height="4.5" fill="#fb3e42"/><rect x="220.4" y="38.6" width="4.5" height="4.5" fill="#fb3b41"/><rect x="224.4" y="38.6" width="4.5" height="4.5" fill="#fb3a41"/><rect x="228.4" y="38.6" width="4.5" height="4.5" fill="#fb3b42"/><rect x="232.4" y="38.6" width="4.5" height="4.5" fill="#fb3d45"/><rect x="236.4" y="38.6" width="4.5" height="4.5" fill="#fb3f49"/><rect x="240.4" y="38.6" width="4.5" height="4.5" fill="#fb444e"/><rect x="244.4" y="38.6" width="4.5" height="4.5" fill="#fa4a54"/><rect x="248.4" y="38.6" width="4.5" height="4.5" fill="#f9515c"/><rect x="252.4" y="38.6" width="4.5" height="4.5" fill="#f75b66"/><rect x="256.4" y="38.6" width="4.5" height="4.5" fill="#f56671"/><rect x="260.4" y="38.6" width="4.5" height="4.5" fill="#f3727d"/><rect x="264.4" y="38.6" width="4.5" height="4.5" fill="#f17e89"/><rect x="268.4" y="38.6" width="4.5" height="4.5" fill="#ef8993"/><rect x="272.4" y="38.6" width="4.5" height="4.5" fill="#ee949d"/><rect x="276.4" y="38.6" width="4.5" height="4.5" fill="#ec9da6"/><rect x="280.4" y="38.6" width="4.5" height="4.5" fill="#eba6ad"/><rect x="284.4" y="38.6" width="4.5" height="4.5" fill="#eaaeb4"/><rect x="288.4" y="38.6" width="4.5" height="4.5" fill="#e9b4ba"/><rect x="292.4" y="38.6" width="4.5" height="4.5" fill="#e8babf"/><rect x="296.4" y="38.6" width="4.5" height="4.5" fill="#e7bfc4"/><rect x="300.4" y="38.6" width="4.5" height="4.5" fill="#e6c4c8"/><rect x="304.4" y="38.6" width="4.5" height="4.5" fill="#e5c8cc"/><rect x="60.4" y="42.6" width="4.5" height="4.5" fill="#a0a0ed"/><rect x="64.4" y="42.6" width="4.5" height="4.5" fill="#9c9ded"/><rect x="68.4" y="42.6" width="4.5" height="4.5" fill="#9898ee"/><rect x="72.4" y="42.6" width="4.5" height="4.5" fill="#9394ee"/><rect x="76.4" y="42.6" width="4.5" height="4.5" fill="#8e8eef"/><rect x="80.4" y="42.6" width="4.5" height="4.5" fill="#8888f0"/><rect x="84.4" y="42.6" width="4.5" height="4.5" fill="#8281f1"/><rect x="88.4" y="42.6" width="4.5" height="4.5" fill="#7b7af2"/><rect x="92.4" y="42.6" width="4.5" height="4.5" fill="#7573f3"/><rect x="96.4" y="42.6" width="4.5" height="4.5" fill="#6f6cf4"/><rect x="100.4" y="42.6" width="4.5" height="4.5" fill="#6967f5"/><rect x="104.4" y="42.6" width="4.5" height="4.5" fill="#6462f5"/><rect x="108.4" y="42.6" width="4.5" height="4.5" fill="#615ff6"/><rect x="112.4" y="42.6" width="4.5" height="4.5" fill="#5f5df6"/><rect x="116.4" y="42.6" width="4.5" height="4.5" fill="#605df6"/><rect x="120.4" y="42.6" width="4.5" height="4.5" fill="#6260f5"/><rect x="124.4" y="42.6" width="4.5" height="4.5" fill="#6765f5"/><rect x="128.4" y="42.6" width="4.5" height="4.5" fill="#6e6cf4"/><rect x="132.4" y="42.6" width="4.5" height="4.5" fill="#7674f2"/><rect x="136.4" y="42.6" width="4.5" height="4.5" fill="#7f7ef1"/><rect x="140.4" y="42.6" width="4.5" height="4.5" fill="#8989f0"/><rect x="144.4" y="42.6" width="4.5" height="4.5" fill="#9596ee"/><rect x="148.4" y="42.6" width="4.5" height="4.5" fill="#a3a5ee"/><rect x="152.4" y="42.6" width="4.5" height="4.5" fill="#b4b8ed"/><rect x="156.4" y="42.6" width="4.5" height="4.5" fill="#c6c9ec"/><rect x="160.4" y="42.6" width="4.5" height="4.5" fill="#d5d3e6"/><rect x="164.4" y="42.6" width="4.5" height="4.5" fill="#e1d1db"/><rect x="168.4" y="42.6" width="4.5" height="4.5" fill="#e7c4ca"/><rect x="172.4" y="42.6" width="4.5" height="4.5" fill="#ecb1b5"/><rect x="176.4" y="42.6" width="4.5" height="4.5" fill="#ef9ca0"/><rect x="180.4" y="42.6" width="4.5" height="4.5" fill="#f2888d"/><rect x="184.4" y="42.6" width="4.5" height="4.5" fill="#f4787d"/><rect x="188.4" y="42.6" width="4.5" height="4.5" fill="#f66b70"/><rect x="192.4" y="42.6" width="4.5" height="4.5" fill="#f86165"/><rect x="196.4" y="42.6" width="4.5" height="4.5" fill="#f9585c"/><rect x="200.4" y="42.6" width="4.5" height="4.5" fill="#fa5054"/><rect x="204.4" y="42.6" width="4.5" height="4.5" fill="#fa484c"/><rect x="208.4" y="42.6" width="4.5" height="4.5" fill="#fb4145"/><rect x="212.4" y="42.6" width="4.5" height="4.5" fill="#fb3b3f"/><rect x="216.4" y="42.6" width="4.5" height="4.5" fill="#fa363a"/><rect x="220.4" y="42.6" width="4.5" height="4.5" fill="#fa3338"/><rect x="224.4" y="42.6" width="4.5" height="4.5" fill="#fa3137"/><rect x="228.4" y="42.6" width="4.5" height="4.5" fill="#fb3138"/><rect x="232.4" y="42.6" width="4.5" height="4.5" fill="#fb323a"/><rect x="236.4" y="42.6" width="4.5" height="4.5" fill="#fb353e"/><rect x="240.4" y="42.6" width="4.5" height="4.5" fill="#fb3943"/><rect x="244.4" y="42.6" width="4.5" height="4.5" fill="#fa3f49"/><rect x="248.4" y="42.6" width="4.5" height="4.5" fill="#f94752"/><rect x="252.4" y="42.6" width="4.5" height="4.5" fill="#f7525d"/><rect x="256.4" y="42.6" width="4.5" height="4.5" fill="#f55f6a"/><rect x="260.4" y="42.6" width="4.5" height="4.5" fill="#f36c77"/><rect x="264.4" y="42.6" width="4.5" height="4.5" fill="#f17a84"/><rect x="268.4" y="42.6" width="4.5" height="4.5" fill="#ef8690"/><rect x="272.4" y="42.6" width="4.5" height="4.5" fill="#ee929b"/><rect x="276.4" y="42.6" width="4.5" height="4.5" fill="#ec9ca4"/><rect x="280.4" y="42.6" width="4.5" height="4.5" fill="#eba5ac"/><rect x="284.4" y="42.6" width="4.5" height="4.5" fill="#eaaeb4"/><rect x="288.4" y="42.6" width="4.5" height="4.5" fill="#e8b5ba"/><rect x="292.4" y="42.6" width="4.5" height="4.5" fill="#e7bbc0"/><rect x="296.4" y="42.6" width="4.5" height="4.5" fill="#e6c1c5"/><rect x="300.4" y="42.6" width="4.5" height="4.5" fill="#e5c5ca"/><rect x="304.4" y="42.6" width="4.5" height="4.5" fill="#e4c9cd"/><rect x="60.4" y="46.6" width="4.5" height="4.5" fill="#a0a1ec"/><rect x="64.4" y="46.6" width="4.5" height="4.5" fill="#9c9cec"/><rect x="68.4" y="46.6" width="4.5" height="4.5" fill="#9798ed"/><rect x="72.4" y="46.6" width="4.5" height="4.5" fill="#9292ee"/><rect x="76.4" y="46.6" width="4.5" height="4.5" fill="#8c8bef"/><rect x="80.4" y="46.6" width="4.5" height="4.5" fill="#8584f0"/><rect x="84.4" y="46.6" width="4.5" height="4.5" fill="#7d7cf1"/><rect x="88.4" y="46.6" width="4.5" height="4.5" fill="#7674f2"/><rect x="92.4" y="46.6" width="4.5" height="4.5" fill="#6f6cf4"/><rect x="96.4" y="46.6" width="4.5" height="4.5" fill="#6864f5"/><rect x="100.4" y="46.6" width="4.5" height="4.5" fill="#615ef6"/><rect x="104.4" y="46.6" width="4.5" height="4.5" fill="#5c58f6"/><rect x="108.4" y="46.6" width="4.5" height="4.5" fill="#5854f7"/><rect x="112.4" y="46.6" width="4.5" height="4.5" fill="#5651f7"/><rect x="116.4" y="46.6" width="4.5" height="4.5" fill="#5551f7"/><rect x="120.4" y="46.6" width="4.5" height="4.5" fill="#5753f7"/><rect x="124.4" y="46.6" width="4.5" height="4.5" fill="#5b57f6"/><rect x="128.4" y="46.6" width="4.5" height="4.5" fill="#615ef5"/><rect x="132.4" y="46.6" width="4.5" height="4.5" fill="#6966f4"/><rect x="136.4" y="46.6" width="4.5" height="4.5" fill="#7371f2"/><rect x="140.4" y="46.6" width="4.5" height="4.5" fill="#7e7ef1"/><rect x="144.4" y="46.6" width="4.5" height="4.5" fill="#8c8ef1"/><rect x="148.4" y="46.6" width="4.5" height="4.5" fill="#9ea2f0"/><rect x="152.4" y="46.6" width="4.5" height="4.5" fill="#b1b6ef"/><rect x="156.4" y="46.6" width="4.5" height="4.5" fill="#c3c7ec"/><rect x="160.4" y="46.6" width="4.5" height="4.5" fill="#d3cfe5"/><rect x="164.4" y="46.6" width="4.5" height="4.5" fill="#dfcdd9"/><rect x="168.4" y="46.6" width="4.5" height="4.5" fill="#e6c1c7"/><rect x="172.4" y="46.6" width="4.5" height="4.5" fill="#eaaeb3"/><rect x="176.4" y="46.6" width="4.5" height="4.5" fill="#ee999e"/><rect x="180.4" y="46.6" width="4.5" height="4.5" fill="#f1858a"/><rect x="184.4" y="46.6" width="4.5" height="4.5" fill="#f47479"/><rect x="188.4" y="46.6" width="4.5" height="4.5" fill="#f6676c"/><rect x="192.4" y="46.6" width="4.5" height="4.5" fill="#f85d62"/><rect x="196.4" y="46.6" width="4.5" height="4.5" fill="#f95459"/><rect x="200.4" y="46.6" width="4.5" height="4.5" fill="#fa4c50"/><rect x="204.4" y="46.6" width="4.5" height="4.5" fill="#fa4347"/><rect x="208.4" y="46.6" width="4.5" height="4.5" fill="#fa3b3f"/><rect x="212.4" y="46.6" width="4.5" height="4.5" fill="#fa3539"/><rect x="216.4" y="46.6" width="4.5" height="4.5" fill="#fa2f33"/><rect x="220.4" y="46.6" width="4.5" height="4.5" fill="#fa2b30"/><rect x="224.4" y="46.6" width="4.5" height="4.5" fill="#fa292f"/><rect x="228.4" y="46.6" width="4.5" height="4.5" fill="#fa292f"/><rect x="232.4" y="46.6" width="4.5" height="4.5" fill="#fb2a32"/><rect x="236.4" y="46.6" width="4.5" height="4.5" fill="#fb2d35"/><rect x="240.4" y="46.6" width="4.5" height="4.5" fill="#fb313a"/><rect x="244.4" y="46.6" width="4.5" height="4.5" fill="#fa3640"/><rect x="248.4" y="46.6" width="4.5" height="4.5" fill="#f93f49"/><rect x="252.4" y="46.6" width="4.5" height="4.5" fill="#f84b55"/><rect x="256.4" y="46.6" width="4.5" height="4.5" fill="#f65964"/><rect x="260.4" y="46.6" width="4.5" height="4.5" fill="#f36872"/><rect x="264.4" y="46.6" width="4.5" height="4.5" fill="#f17680"/><rect x="268.4" y="46.6" width="4.5" height="4.5" fill="#ef848e"/><rect x="272.4" y="46.6" width="4.5" height="4.5" fill="#ee9099"/><rect x="276.4" y="46.6" width="4.5" height="4.5" fill="#ec9ba3"/><rect x="280.4" y="46.6" width="4.5" height="4.5" fill="#eba5ac"/><rect x="284.4" y="46.6" width="4.5" height="4.5" fill="#e9aeb4"/><rect x="288.4" y="46.6" width="4.5" height="4.5" fill="#e8b5bb"/><rect x="292.4" y="46.6" width="4.5" height="4.5" fill="#e6bcc1"/><rect x="296.4" y="46.6" width="4.5" height="4.5" fill="#e5c2c7"/><rect x="300.4" y="46.6" width="4.5" height="4.5" fill="#e3c7cb"/><rect x="304.4" y="46.6" width="4.5" height="4.5" fill="#e3cbcf"/><rect x="60.4" y="50.6" width="4.5" height="4.5" fill="#a0a1eb"/><rect x="64.4" y="50.6" width="4.5" height="4.5" fill="#9c9cec"/><rect x="68.4" y="50.6" width="4.5" height="4.5" fill="#9797ec"/><rect x="72.4" y="50.6" width="4.5" height="4.5" fill="#9190ed"/><rect x="76.4" y="50.6" width="4.5" height="4.5" fill="#8a89ee"/><rect x="80.4" y="50.6" width="4.5" height="4.5" fill="#8281f0"/><rect x="84.4" y="50.6" width="4.5" height="4.5" fill="#7a78f1"/><rect x="88.4" y="50.6" width="4.5" height="4.5" fill="#716ef3"/><rect x="92.4" y="50.6" width="4.5" height="4.5" fill="#6965f4"/><rect x="96.4" y="50.6" width="4.5" height="4.5" fill="#615df5"/><rect x="100.4" y="50.6" width="4.5" height="4.5" fill="#5a55f6"/><rect x="104.4" y="50.6" width="4.5" height="4.5" fill="#544ff7"/><rect x="108.4" y="50.6" width="4.5" height="4.5" fill="#5049f8"/><rect x="112.4" y="50.6" width="4.5" height="4.5" fill="#4d46f8"/><rect x="116.4" y="50.6" width="4.5" height="4.5" fill="#4c45f8"/><rect x="120.4" y="50.6" width="4.5" height="4.5" fill="#4d46f8"/><rect x="124.4" y="50.6" width="4.5" height="4.5" fill="#504af7"/><rect x="128.4" y="50.6" width="4.5" height="4.5" fill="#5550f6"/><rect x="132.4" y="50.6" width="4.5" height="4.5" fill="#5d59f5"/><rect x="136.4" y="50.6" width="4.5" height="4.5" fill="#6764f4"/><rect x="140.4" y="50.6" width="4.5" height="4.5" fill="#7473f3"/><rect x="144.4" y="50.6" width="4.5" height="4.5" fill="#8487f3"/><rect x="148.4" y="50.6" width="4.5" height="4.5" fill="#989df2"/><rect x="152.4" y="50.6" width="4.5" height="4.5" fill="#aeb4f1"/><rect x="156.4" y="50.6" width="4.5" height="4.5" fill="#c2c5ed"/><rect x="160.4" y="50.6" width="4.5" height="4.5" fill="#d3cde4"/><rect x="164.4" y="50.6" width="4.5" height="4.5" fill="#dec9d6"/><rect x="168.4" y="50.6" width="4.5" height="4.5" fill="#e5bcc3"/><rect x="172.4" y="50.6" width="4.5" height="4.5" fill="#eaa8ae"/><rect x="176.4" y="50.6" width="4.5" height="4.5" fill="#ee9398"/><rect x="180.4" y="50.6" width="4.5" height="4.5" fill="#f17f85"/><rect x="184.4" y="50.6" width="4.5" height="4.5" fill="#f46f75"/><rect x="188.4" y="50.6" width="4.5" height="4.5" fill="#f66268"/><rect x="192.4" y="50.6" width="4.5" height="4.5" fill="#f8585e"/><rect x="196.4" y="50.6" width="4.5" height="4.5" fill="#f95055"/><rect x="200.4" y="50.6" width="4.5" height="4.5" fill="#fa474c"/><rect x="204.4" y="50.6" width="4.5" height="4.5" fill="#fa3f43"/><rect x="208.4" y="50.6" width="4.5" height="4.5" fill="#fa373b"/><rect x="212.4" y="50.6" width="4.5" height="4.5" fill="#fa3034"/><rect x="216.4" y="50.6" width="4.5" height="4.5" fill="#fa2a2e"/><rect x="220.4" y="50.6" width="4.5" height="4.5" fill="#f9262a"/><rect x="224.4" y="50.6" width="4.5" height="4.5" fill="#f92329"/><rect x="228.4" y="50.6" width="4.5" height="4.5" fill="#fa2329"/><rect x="232.4" y="50.6" width="4.5" height="4.5" fill="#fa242b"/><rect x="236.4" y="50.6" width="4.5" height="4.5" fill="#fa262f"/><rect x="240.4" y="50.6" width="4.5" height="4.5" fill="#fa2b34"/><rect x="244.4" y="50.6" width="4.5" height="4.5" fill="#fa313b"/><rect x="248.4" y="50.6" width="4.5" height="4.5" fill="#f93a44"/><rect x="252.4" y="50.6" width="4.5" height="4.5" fill="#f84751"/><rect x="256.4" y="50.6" width="4.5" height="4.5" fill="#f65560"/><rect x="260.4" y="50.6" width="4.5" height="4.5" fill="#f4646f"/><rect x="264.4" y="50.6" width="4.5" height="4.5" fill="#f1737e"/><rect x="268.4" y="50.6" width="4.5" height="4.5" fill="#ef818b"/><rect x="272.4" y="50.6" width="4.5" height="4.5" fill="#ee8e97"/><rect x="276.4" y="50.6" width="4.5" height="4.5" fill="#ec9aa2"/><rect x="280.4" y="50.6" width="4.5" height="4.5" fill="#eaa4ab"/><rect x="284.4" y="50.6" width="4.5" height="4.5" fill="#e9aeb4"/><rect x="288.4" y="50.6" width="4.5" height="4.5" fill="#e7b6bb"/><rect x="292.4" y="50.6" width="4.5" height="4.5" fill="#e5bdc2"/><rect x="296.4" y="50.6" width="4.5" height="4.5" fill="#e4c3c8"/><rect x="300.4" y="50.6" width="4.5" height="4.5" fill="#e2c8cd"/><rect x="304.4" y="50.6" width="4.5" height="4.5" fill="#e1ccd0"/><rect x="60.4" y="54.6" width="4.5" height="4.5" fill="#a1a1ea"/><rect x="64.4" y="54.6" width="4.5" height="4.5" fill="#9c9deb"/><rect x="68.4" y="54.6" width="4.5" height="4.5" fill="#9797eb"/><rect x="72.4" y="54.6" width="4.5" height="4.5" fill="#908fed"/><rect x="76.4" y="54.6" width="4.5" height="4.5" fill="#8887ee"/><rect x="80.4" y="54.6" width="4.5" height="4.5" fill="#7f7df0"/><rect x="84.4" y="54.6" width="4.5" height="4.5" fill="#7673f1"/><rect x="88.4" y="54.6" width="4.5" height="4.5" fill="#6d69f3"/><rect x="92.4" y="54.6" width="4.5" height="4.5" fill="#645ff4"/><rect x="96.4" y="54.6" width="4.5" height="4.5" fill="#5b56f6"/><rect x="100.4" y="54.6" width="4.5" height="4.5" fill="#544df7"/><rect x="104.4" y="54.6" width="4.5" height="4.5" fill="#4d46f8"/><rect x="108.4" y="54.6" width="4.5" height="4.5" fill="#4840f8"/><rect x="112.4" y="54.6" width="4.5" height="4.5" fill="#443cf9"/><rect x="116.4" y="54.6" width="4.5" height="4.5" fill="#433af9"/><rect x="120.4" y="54.6" width="4.5" height="4.5" fill="#433bf9"/><rect x="124.4" y="54.6" width="4.5" height="4.5" fill="#453ef8"/><rect x="128.4" y="54.6" width="4.5" height="4.5" fill="#4a44f7"/><rect x="132.4" y="54.6" width="4.5" height="4.5" fill="#524df6"/><rect x="136.4" y="54.6" width="4.5" height="4.5" fill="#5c59f5"/><rect x="140.4" y="54.6" width="4.5" height="4.5" fill="#6a69f4"/><rect x="144.4" y="54.6" width="4.5" height="4.5" fill="#7c7ef4"/><rect x="148.4" y="54.6" width="4.5" height="4.5" fill="#9297f4"/><rect x="152.4" y="54.6" width="4.5" height="4.5" fill="#aab1f2"/><rect x="156.4" y="54.6" width="4.5" height="4.5" fill="#c1c5ee"/><rect x="160.4" y="54.6" width="4.5" height="4.5" fill="#d2cce3"/><rect x="164.4" y="54.6" width="4.5" height="4.5" fill="#dec5d3"/><rect x="168.4" y="54.6" width="4.5" height="4.5" fill="#e5b6be"/><rect x="172.4" y="54.6" width="4.5" height="4.5" fill="#eaa1a8"/><rect x="176.4" y="54.6" width="4.5" height="4.5" fill="#ee8b91"/><rect x="180.4" y="54.6" width="4.5" height="4.5" fill="#f2787e"/><rect x="184.4" y="54.6" width="4.5" height="4.5" fill="#f4696f"/><rect x="188.4" y="54.6" width="4.5" height="4.5" fill="#f65d64"/><rect x="192.4" y="54.6" width="4.5" height="4.5" fill="#f8545a"/><rect x="196.4" y="54.6" width="4.5" height="4.5" fill="#f94b51"/><rect x="200.4" y="54.6" width="4.5" height="4.5" fill="#fa4348"/><rect x="204.4" y="54.6" width="4.5" height="4.5" fill="#fa3b3f"/><rect x="208.4" y="54.6" width="4.5" height="4.5" fill="#fa3337"/><rect x="212.4" y="54.6" width="4.5" height="4.5" fill="#fa2c30"/><rect x="216.4" y="54.6" width="4.5" height="4.5" fill="#fa262a"/><rect x="220.4" y="54.6" width="4.5" height="4.5" fill="#fa2227"/><rect x="224.4" y="54.6" width="4.5" height="4.5" fill="#f91f25"/><rect x="228.4" y="54.6" width="4.5" height="4.5" fill="#fa1f26"/><rect x="232.4" y="54.6" width="4.5" height="4.5" fill="#fa2028"/><rect x="236.4" y="54.6" width="4.5" height="4.5" fill="#fa232b"/><rect x="240.4" y="54.6" width="4.5" height="4.5" fill="#fa2831"/><rect x="244.4" y="54.6" width="4.5" height="4.5" fill="#fa2f39"/><rect x="248.4" y="54.6" width="4.5" height="4.5" fill="#f93943"/><rect x="252.4" y="54.6" width="4.5" height="4.5" fill="#f74550"/><rect x="256.4" y="54.6" width="4.5" height="4.5" fill="#f5545e"/><rect x="260.4" y="54.6" width="4.5" height="4.5" fill="#f4636d"/><rect x="264.4" y="54.6" width="4.5" height="4.5" fill="#f2717b"/><rect x="268.4" y="54.6" width="4.5" height="4.5" fill="#f07f89"/><rect x="272.4" y="54.6" width="4.5" height="4.5" fill="#ee8d95"/><rect x="276.4" y="54.6" width="4.5" height="4.5" fill="#ec99a0"/><rect x="280.4" y="54.6" width="4.5" height="4.5" fill="#eaa4aa"/><rect x="284.4" y="54.6" width="4.5" height="4.5" fill="#e8aeb4"/><rect x="288.4" y="54.6" width="4.5" height="4.5" fill="#e6b6bc"/><rect x="292.4" y="54.6" width="4.5" height="4.5" fill="#e4bec3"/><rect x="296.4" y="54.6" width="4.5" height="4.5" fill="#e3c4c9"/><rect x="300.4" y="54.6" width="4.5" height="4.5" fill="#e1c9ce"/><rect x="304.4" y="54.6" width="4.5" height="4.5" fill="#e0cdd2"/><rect x="60.4" y="58.6" width="4.5" height="4.5" fill="#a1a2e9"/><rect x="64.4" y="58.6" width="4.5" height="4.5" fill="#9c9dea"/><rect x="68.4" y="58.6" width="4.5" height="4.5" fill="#9696eb"/><rect x="72.4" y="58.6" width="4.5" height="4.5" fill="#8f8eec"/><rect x="76.4" y="58.6" width="4.5" height="4.5" fill="#8685ee"/><rect x="80.4" y="58.6" width="4.5" height="4.5" fill="#7d7af0"/><rect x="84.4" y="58.6" width="4.5" height="4.5" fill="#736ff2"/><rect x="88.4" y="58.6" width="4.5" height="4.5" fill="#6964f3"/><rect x="92.4" y="58.6" width="4.5" height="4.5" fill="#5f5af5"/><rect x="96.4" y="58.6" width="4.5" height="4.5" fill="#564ff6"/><rect x="100.4" y="58.6" width="4.5" height="4.5" fill="#4e46f8"/><rect x="104.4" y="58.6" width="4.5" height="4.5" fill="#473ef8"/><rect x="108.4" y="58.6" width="4.5" height="4.5" fill="#4138f9"/><rect x="112.4" y="58.6" width="4.5" height="4.5" fill="#3d33f9"/><rect x="116.4" y="58.6" width="4.5" height="4.5" fill="#3b30fa"/><rect x="120.4" y="58.6" width="4.5" height="4.5" fill="#3a31f9"/><rect x="124.4" y="58.6" width="4.5" height="4.5" fill="#3c34f9"/><rect x="128.4" y="58.6" width="4.5" height="4.5" fill="#4139f8"/><rect x="132.4" y="58.6" width="4.5" height="4.5" fill="#4842f7"/><rect x="136.4" y="58.6" width="4.5" height="4.5" fill="#524ff6"/><rect x="140.4" y="58.6" width="4.5" height="4.5" fill="#615ff5"/><rect x="144.4" y="58.6" width="4.5" height="4.5" fill="#7475f5"/><rect x="148.4" y="58.6" width="4.5" height="4.5" fill="#8c90f5"/><rect x="152.4" y="58.6" width="4.5" height="4.5" fill="#a6abf3"/><rect x="156.4" y="58.6" width="4.5" height="4.5" fill="#bec1ee"/><rect x="160.4" y="58.6" width="4.5" height="4.5" fill="#d0c8e2"/><rect x="164.4" y="58.6" width="4.5" height="4.5" fill="#dcc1d1"/><rect x="168.4" y="58.6" width="4.5" height="4.5" fill="#e5b0bb"/><rect x="172.4" y="58.6" width="4.5" height="4.5" fill="#ea9aa3"/><rect x="176.4" y="58.6" width="4.5" height="4.5" fill="#ef838b"/><rect x="180.4" y="58.6" width="4.5" height="4.5" fill="#f27179"/><rect x="184.4" y="58.6" width="4.5" height="4.5" fill="#f4646c"/><rect x="188.4" y="58.6" width="4.5" height="4.5" fill="#f65a61"/><rect x="192.4" y="58.6" width="4.5" height="4.5" fill="#f85158"/><rect x="196.4" y="58.6" width="4.5" height="4.5" fill="#f9494f"/><rect x="200.4" y="58.6" width="4.5" height="4.5" fill="#f94045"/><rect x="204.4" y="58.6" width="4.5" height="4.5" fill="#fa383c"/><rect x="208.4" y="58.6" width="4.5" height="4.5" fill="#fa3034"/><rect x="212.4" y="58.6" width="4.5" height="4.5" fill="#fa292d"/><rect x="216.4" y="58.6" width="4.5" height="4.5" fill="#fa2428"/><rect x="220.4" y="58.6" width="4.5" height="4.5" fill="#fa1f25"/><rect x="224.4" y="58.6" width="4.5" height="4.5" fill="#fa1d23"/><rect x="228.4" y="58.6" width="4.5" height="4.5" fill="#fa1c24"/><rect x="232.4" y="58.6" width="4.5" height="4.5" fill="#fa1d26"/><rect x="236.4" y="58.6" width="4.5" height="4.5" fill="#fa212a"/><rect x="240.4" y="58.6" width="4.5" height="4.5" fill="#f92630"/><rect x="244.4" y="58.6" width="4.5" height="4.5" fill="#f92e38"/><rect x="248.4" y="58.6" width="4.5" height="4.5" fill="#f83943"/><rect x="252.4" y="58.6" width="4.5" height="4.5" fill="#f74550"/><rect x="256.4" y="58.6" width="4.5" height="4.5" fill="#f5545e"/><rect x="260.4" y="58.6" width="4.5" height="4.5" fill="#f3626c"/><rect x="264.4" y="58.6" width="4.5" height="4.5" fill="#f2707a"/><rect x="268.4" y="58.6" width="4.5" height="4.5" fill="#f07e87"/><rect x="272.4" y="58.6" width="4.5" height="4.5" fill="#ee8b93"/><rect x="276.4" y="58.6" width="4.5" height="4.5" fill="#ec989f"/><rect x="280.4" y="58.6" width="4.5" height="4.5" fill="#eaa3aa"/><rect x="284.4" y="58.6" width="4.5" height="4.5" fill="#e8aeb3"/><rect x="288.4" y="58.6" width="4.5" height="4.5" fill="#e6b7bc"/><rect x="292.4" y="58.6" width="4.5" height="4.5" fill="#e4bfc3"/><rect x="296.4" y="58.6" width="4.5" height="4.5" fill="#e2c5ca"/><rect x="300.4" y="58.6" width="4.5" height="4.5" fill="#e0cacf"/><rect x="304.4" y="58.6" width="4.5" height="4.5" fill="#dfced3"/><rect x="60.4" y="62.6" width="4.5" height="4.5" fill="#a1a2e9"/><rect x="64.4" y="62.6" width="4.5" height="4.5" fill="#9c9de9"/><rect x="68.4" y="62.6" width="4.5" height="4.5" fill="#9696ea"/><rect x="72.4" y="62.6" width="4.5" height="4.5" fill="#8e8dec"/><rect x="76.4" y="62.6" width="4.5" height="4.5" fill="#8583ee"/><rect x="80.4" y="62.6" width="4.5" height="4.5" fill="#7a78f0"/><rect x="84.4" y="62.6" width="4.5" height="4.5" fill="#706cf2"/><rect x="88.4" y="62.6" width="4.5" height="4.5" fill="#6560f4"/><rect x="92.4" y="62.6" width="4.5" height="4.5" fill="#5b55f6"/><rect x="96.4" y="62.6" width="4.5" height="4.5" fill="#524af7"/><rect x="100.4" y="62.6" width="4.5" height="4.5" fill="#4940f8"/><rect x="104.4" y="62.6" width="4.5" height="4.5" fill="#4138f9"/><rect x="108.4" y="62.6" width="4.5" height="4.5" fill="#3b31f9"/><rect x="112.4" y="62.6" width="4.5" height="4.5" fill="#372cfa"/><rect x="116.4" y="62.6" width="4.5" height="4.5" fill="#3429fa"/><rect x="120.4" y="62.6" width="4.5" height="4.5" fill="#3329fa"/><rect x="124.4" y="62.6" width="4.5" height="4.5" fill="#342bf9"/><rect x="128.4" y="62.6" width="4.5" height="4.5" fill="#3831f9"/><rect x="132.4" y="62.6" width="4.5" height="4.5" fill="#3f3af8"/><rect x="136.4" y="62.6" width="4.5" height="4.5" fill="#4a46f8"/><rect x="140.4" y="62.6" width="4.5" height="4.5" fill="#5957f7"/><rect x="144.4" y="62.6" width="4.5" height="4.5" fill="#6c6ef6"/><rect x="148.4" y="62.6" width="4.5" height="4.5" fill="#8589f5"/><rect x="152.4" y="62.6" width="4.5" height="4.5" fill="#9ea3f3"/><rect x="156.4" y="62.6" width="4.5" height="4.5" fill="#b7b7ec"/><rect x="160.4" y="62.6" width="4.5" height="4.5" fill="#cbc0e1"/><rect x="164.4" y="62.6" width="4.5" height="4.5" fill="#d9bbd0"/><rect x="168.4" y="62.6" width="4.5" height="4.5" fill="#e3adba"/><rect x="172.4" y="62.6" width="4.5" height="4.5" fill="#e998a2"/><rect x="176.4" y="62.6" width="4.5" height="4.5" fill="#ee808a"/><rect x="180.4" y="62.6" width="4.5" height="4.5" fill="#f16f78"/><rect x="184.4" y="62.6" width="4.5" height="4.5" fill="#f4646d"/><rect x="188.4" y="62.6" width="4.5" height="4.5" fill="#f65a63"/><rect x="192.4" y="62.6" width="4.5" height="4.5" fill="#f75159"/><rect x="196.4" y="62.6" width="4.5" height="4.5" fill="#f8484f"/><rect x="200.4" y="62.6" width="4.5" height="4.5" fill="#f94045"/><rect x="204.4" y="62.6" width="4.5" height="4.5" fill="#f9373c"/><rect x="208.4" y="62.6" width="4.5" height="4.5" fill="#fa2f33"/><rect x="212.4" y="62.6" width="4.5" height="4.5" fill="#fa282d"/><rect x="216.4" y="62.6" width="4.5" height="4.5" fill="#fa2328"/><rect x="220.4" y="62.6" width="4.5" height="4.5" fill="#fa1e24"/><rect x="224.4" y="62.6" width="4.5" height="4.5" fill="#fa1c23"/><rect x="228.4" y="62.6" width="4.5" height="4.5" fill="#fa1b23"/><rect x="232.4" y="62.6" width="4.5" height="4.5" fill="#fa1d26"/><rect x="236.4" y="62.6" width="4.5" height="4.5" fill="#f9202a"/><rect x="240.4" y="62.6" width="4.5" height="4.5" fill="#f92630"/><rect x="244.4" y="62.6" width="4.5" height="4.5" fill="#f92e39"/><rect x="248.4" y="62.6" width="4.5" height="4.5" fill="#f83943"/><rect x="252.4" y="62.6" width="4.5" height="4.5" fill="#f64650"/><rect x="256.4" y="62.6" width="4.5" height="4.5" fill="#f5545e"/><rect x="260.4" y="62.6" width="4.5" height="4.5" fill="#f4626c"/><rect x="264.4" y="62.6" width="4.5" height="4.5" fill="#f26f79"/><rect x="268.4" y="62.6" width="4.5" height="4.5" fill="#f07d85"/><rect x="272.4" y="62.6" width="4.5" height="4.5" fill="#ef8a92"/><rect x="276.4" y="62.6" width="4.5" height="4.5" fill="#ed979e"/><rect x="280.4" y="62.6" width="4.5" height="4.5" fill="#eba3a9"/><rect x="284.4" y="62.6" width="4.5" height="4.5" fill="#e9aeb3"/><rect x="288.4" y="62.6" width="4.5" height="4.5" fill="#e6b7bc"/><rect x="292.4" y="62.6" width="4.5" height="4.5" fill="#e3bfc4"/><rect x="296.4" y="62.6" width="4.5" height="4.5" fill="#e1c5ca"/><rect x="300.4" y="62.6" width="4.5" height="4.5" fill="#e0cacf"/><rect x="304.4" y="62.6" width="4.5" height="4.5" fill="#dfced3"/><rect x="60.4" y="66.6" width="4.5" height="4.5" fill="#a0a1e9"/><rect x="64.4" y="66.6" width="4.5" height="4.5" fill="#9b9cea"/><rect x="68.4" y="66.6" width="4.5" height="4.5" fill="#9595ea"/><rect x="72.4" y="66.6" width="4.5" height="4.5" fill="#8d8cec"/><rect x="76.4" y="66.6" width="4.5" height="4.5" fill="#8381ee"/><rect x="80.4" y="66.6" width="4.5" height="4.5" fill="#7875f1"/><rect x="84.4" y="66.6" width="4.5" height="4.5" fill="#6d68f3"/><rect x="88.4" y="66.6" width="4.5" height="4.5" fill="#625cf5"/><rect x="92.4" y="66.6" width="4.5" height="4.5" fill="#5850f6"/><rect x="96.4" y="66.6" width="4.5" height="4.5" fill="#4e45f8"/><rect x="100.4" y="66.6" width="4.5" height="4.5" fill="#453bf9"/><rect x="104.4" y="66.6" width="4.5" height="4.5" fill="#3d33f9"/><rect x="108.4" y="66.6" width="4.5" height="4.5" fill="#362cfa"/><rect x="112.4" y="66.6" width="4.5" height="4.5" fill="#3126fa"/><rect x="116.4" y="66.6" width="4.5" height="4.5" fill="#2e23fa"/><rect x="120.4" y="66.6" width="4.5" height="4.5" fill="#2d23fa"/><rect x="124.4" y="66.6" width="4.5" height="4.5" fill="#2e25fa"/><rect x="128.4" y="66.6" width="4.5" height="4.5" fill="#322afa"/><rect x="132.4" y="66.6" width="4.5" height="4.5" fill="#3833fa"/><rect x="136.4" y="66.6" width="4.5" height="4.5" fill="#433ff9"/><rect x="140.4" y="66.6" width="4.5" height="4.5" fill="#5251f9"/><rect x="144.4" y="66.6" width="4.5" height="4.5" fill="#6567f8"/><rect x="148.4" y="66.6" width="4.5" height="4.5" fill="#7d80f6"/><rect x="152.4" y="66.6" width="4.5" height="4.5" fill="#969af2"/><rect x="156.4" y="66.6" width="4.5" height="4.5" fill="#afaeeb"/><rect x="160.4" y="66.6" width="4.5" height="4.5" fill="#c4b8e0"/><rect x="164.4" y="66.6" width="4.5" height="4.5" fill="#d4b8d1"/><rect x="168.4" y="66.6" width="4.5" height="4.5" fill="#e0aebe"/><rect x="172.4" y="66.6" width="4.5" height="4.5" fill="#e89ca8"/><rect x="176.4" y="66.6" width="4.5" height="4.5" fill="#ed8892"/><rect x="180.4" y="66.6" width="4.5" height="4.5" fill="#f17781"/><rect x="184.4" y="66.6" width="4.5" height="4.5" fill="#f36a74"/><rect x="188.4" y="66.6" width="4.5" height="4.5" fill="#f56069"/><rect x="192.4" y="66.6" width="4.5" height="4.5" fill="#f7555e"/><rect x="196.4" y="66.6" width="4.5" height="4.5" fill="#f84b53"/><rect x="200.4" y="66.6" width="4.5" height="4.5" fill="#f94248"/><rect x="204.4" y="66.6" width="4.5" height="4.5" fill="#f9383e"/><rect x="208.4" y="66.6" width="4.5" height="4.5" fill="#fa3035"/><rect x="212.4" y="66.6" width="4.5" height="4.5" fill="#fa292e"/><rect x="216.4" y="66.6" width="4.5" height="4.5" fill="#fa2329"/><rect x="220.4" y="66.6" width="4.5" height="4.5" fill="#fa1f25"/><rect x="224.4" y="66.6" width="4.5" height="4.5" fill="#fa1c24"/><rect x="228.4" y="66.6" width="4.5" height="4.5" fill="#fa1b24"/><rect x="232.4" y="66.6" width="4.5" height="4.5" fill="#fa1d27"/><rect x="236.4" y="66.6" width="4.5" height="4.5" fill="#f9202b"/><rect x="240.4" y="66.6" width="4.5" height="4.5" fill="#f92631"/><rect x="244.4" y="66.6" width="4.5" height="4.5" fill="#f82f39"/><rect x="248.4" y="66.6" width="4.5" height="4.5" fill="#f73a44"/><rect x="252.4" y="66.6" width="4.5" height="4.5" fill="#f64651"/><rect x="256.4" y="66.6" width="4.5" height="4.5" fill="#f5545e"/><rect x="260.4" y="66.6" width="4.5" height="4.5" fill="#f4616b"/><rect x="264.4" y="66.6" width="4.5" height="4.5" fill="#f26e77"/><rect x="268.4" y="66.6" width="4.5" height="4.5" fill="#f17b84"/><rect x="272.4" y="66.6" width="4.5" height="4.5" fill="#ef8890"/><rect x="276.4" y="66.6" width="4.5" height="4.5" fill="#ee969c"/><rect x="280.4" y="66.6" width="4.5" height="4.5" fill="#eca2a8"/><rect x="284.4" y="66.6" width="4.5" height="4.5" fill="#e9adb2"/><rect x="288.4" y="66.6" width="4.5" height="4.5" fill="#e7b7bc"/><rect x="292.4" y="66.6" width="4.5" height="4.5" fill="#e4bfc4"/><rect x="296.4" y="66.6" width="4.5" height="4.5" fill="#e1c5ca"/><rect x="300.4" y="66.6" width="4.5" height="4.5" fill="#e0cacf"/><rect x="304.4" y="66.6" width="4.5" height="4.5" fill="#dfced3"/><rect x="60.4" y="70.6" width="4.5" height="4.5" fill="#9d9fea"/><rect x="64.4" y="70.6" width="4.5" height="4.5" fill="#9999eb"/><rect x="68.4" y="70.6" width="4.5" height="4.5" fill="#9292ec"/><rect x="72.4" y="70.6" width="4.5" height="4.5" fill="#8a89ed"/><rect x="76.4" y="70.6" width="4.5" height="4.5" fill="#807eef"/><rect x="80.4" y="70.6" width="4.5" height="4.5" fill="#7572f1"/><rect x="84.4" y="70.6" width="4.5" height="4.5" fill="#6b66f3"/><rect x="88.4" y="70.6" width="4.5" height="4.5" fill="#6059f5"/><rect x="92.4" y="70.6" width="4.5" height="4.5" fill="#554df7"/><rect x="96.4" y="70.6" width="4.5" height="4.5" fill="#4b42f8"/><rect x="100.4" y="70.6" width="4.5" height="4.5" fill="#4238f9"/><rect x="104.4" y="70.6" width="4.5" height="4.5" fill="#3a2ffa"/><rect x="108.4" y="70.6" width="4.5" height="4.5" fill="#3328fa"/><rect x="112.4" y="70.6" width="4.5" height="4.5" fill="#2e23fa"/><rect x="116.4" y="70.6" width="4.5" height="4.5" fill="#2a20fa"/><rect x="120.4" y="70.6" width="4.5" height="4.5" fill="#291ffa"/><rect x="124.4" y="70.6" width="4.5" height="4.5" fill="#2a21fa"/><rect x="128.4" y="70.6" width="4.5" height="4.5" fill="#2d26fa"/><rect x="132.4" y="70.6" width="4.5" height="4.5" fill="#332efa"/><rect x="136.4" y="70.6" width="4.5" height="4.5" fill="#3d3afa"/><rect x="140.4" y="70.6" width="4.5" height="4.5" fill="#4b4afa"/><rect x="144.4" y="70.6" width="4.5" height="4.5" fill="#5e60f9"/><rect x="148.4" y="70.6" width="4.5" height="4.5" fill="#7679f6"/><rect x="152.4" y="70.6" width="4.5" height="4.5" fill="#8f92f2"/><rect x="156.4" y="70.6" width="4.5" height="4.5" fill="#a8a7eb"/><rect x="160.4" y="70.6" width="4.5" height="4.5" fill="#beb4e2"/><rect x="164.4" y="70.6" width="4.5" height="4.5" fill="#cfb8d5"/><rect x="168.4" y="70.6" width="4.5" height="4.5" fill="#ddb3c5"/><rect x="172.4" y="70.6" width="4.5" height="4.5" fill="#e6a7b3"/><rect x="176.4" y="70.6" width="4.5" height="4.5" fill="#ec97a1"/><rect x="180.4" y="70.6" width="4.5" height="4.5" fill="#f08690"/><rect x="184.4" y="70.6" width="4.5" height="4.5" fill="#f37781"/><rect x="188.4" y="70.6" width="4.5" height="4.5" fill="#f46973"/><rect x="192.4" y="70.6" width="4.5" height="4.5" fill="#f65c66"/><rect x="196.4" y="70.6" width="4.5" height="4.5" fill="#f75059"/><rect x="200.4" y="70.6" width="4.5" height="4.5" fill="#f8454d"/><rect x="204.4" y="70.6" width="4.5" height="4.5" fill="#f93b42"/><rect x="208.4" y="70.6" width="4.5" height="4.5" fill="#fa3239"/><rect x="212.4" y="70.6" width="4.5" height="4.5" fill="#fa2b31"/><rect x="216.4" y="70.6" width="4.5" height="4.5" fill="#fa252c"/><rect x="220.4" y="70.6" width="4.5" height="4.5" fill="#fa2028"/><rect x="224.4" y="70.6" width="4.5" height="4.5" fill="#fa1d26"/><rect x="228.4" y="70.6" width="4.5" height="4.5" fill="#fa1d26"/><rect x="232.4" y="70.6" width="4.5" height="4.5" fill="#fa1e28"/><rect x="236.4" y="70.6" width="4.5" height="4.5" fill="#f9212c"/><rect x="240.4" y="70.6" width="4.5" height="4.5" fill="#f92732"/><rect x="244.4" y="70.6" width="4.5" height="4.5" fill="#f8303a"/><rect x="248.4" y="70.6" width="4.5" height="4.5" fill="#f73a44"/><rect x="252.4" y="70.6" width="4.5" height="4.5" fill="#f64650"/><rect x="256.4" y="70.6" width="4.5" height="4.5" fill="#f5535d"/><rect x="260.4" y="70.6" width="4.5" height="4.5" fill="#f45f69"/><rect x="264.4" y="70.6" width="4.5" height="4.5" fill="#f36c75"/><rect x="268.4" y="70.6" width="4.5" height="4.5" fill="#f27982"/><rect x="272.4" y="70.6" width="4.5" height="4.5" fill="#f0878e"/><rect x="276.4" y="70.6" width="4.5" height="4.5" fill="#ee949b"/><rect x="280.4" y="70.6" width="4.5" height="4.5" fill="#eda1a7"/><rect x="284.4" y="70.6" width="4.5" height="4.5" fill="#eaacb1"/><rect x="288.4" y="70.6" width="4.5" height="4.5" fill="#e8b6bb"/><rect x="292.4" y="70.6" width="4.5" height="4.5" fill="#e5bec3"/><rect x="296.4" y="70.6" width="4.5" height="4.5" fill="#e2c5ca"/><rect x="300.4" y="70.6" width="4.5" height="4.5" fill="#e0cacf"/><rect x="304.4" y="70.6" width="4.5" height="4.5" fill="#dfcdd2"/><rect x="60.4" y="74.6" width="4.5" height="4.5" fill="#9b9cec"/><rect x="64.4" y="74.6" width="4.5" height="4.5" fill="#9595ed"/><rect x="68.4" y="74.6" width="4.5" height="4.5" fill="#8e8eee"/><rect x="72.4" y="74.6" width="4.5" height="4.5" fill="#8685ef"/><rect x="76.4" y="74.6" width="4.5" height="4.5" fill="#7d7bf1"/><rect x="80.4" y="74.6" width="4.5" height="4.5" fill="#736ff2"/><rect x="84.4" y="74.6" width="4.5" height="4.5" fill="#6964f4"/><rect x="88.4" y="74.6" width="4.5" height="4.5" fill="#5e57f6"/><rect x="92.4" y="74.6" width="4.5" height="4.5" fill="#544bf8"/><rect x="96.4" y="74.6" width="4.5" height="4.5" fill="#4940f9"/><rect x="100.4" y="74.6" width="4.5" height="4.5" fill="#4036fa"/><rect x="104.4" y="74.6" width="4.5" height="4.5" fill="#382dfa"/><rect x="108.4" y="74.6" width="4.5" height="4.5" fill="#3126fa"/><rect x="112.4" y="74.6" width="4.5" height="4.5" fill="#2c21fa"/><rect x="116.4" y="74.6" width="4.5" height="4.5" fill="#281efa"/><rect x="120.4" y="74.6" width="4.5" height="4.5" fill="#271dfa"/><rect x="124.4" y="74.6" width="4.5" height="4.5" fill="#271ffa"/><rect x="128.4" y="74.6" width="4.5" height="4.5" fill="#2b23fb"/><rect x="132.4" y="74.6" width="4.5" height="4.5" fill="#302bfb"/><rect x="136.4" y="74.6" width="4.5" height="4.5" fill="#3936fb"/><rect x="140.4" y="74.6" width="4.5" height="4.5" fill="#4645fa"/><rect x="144.4" y="74.6" width="4.5" height="4.5" fill="#595af9"/><rect x="148.4" y="74.6" width="4.5" height="4.5" fill="#7073f6"/><rect x="152.4" y="74.6" width="4.5" height="4.5" fill="#8a8df2"/><rect x="156.4" y="74.6" width="4.5" height="4.5" fill="#a3a3ec"/><rect x="160.4" y="74.6" width="4.5" height="4.5" fill="#b9b2e4"/><rect x="164.4" y="74.6" width="4.5" height="4.5" fill="#ccbbda"/><rect x="168.4" y="74.6" width="4.5" height="4.5" fill="#dabbce"/><rect x="172.4" y="74.6" width="4.5" height="4.5" fill="#e5b4c0"/><rect x="176.4" y="74.6" width="4.5" height="4.5" fill="#eba6b0"/><rect x="180.4" y="74.6" width="4.5" height="4.5" fill="#ef959f"/><rect x="184.4" y="74.6" width="4.5" height="4.5" fill="#f1848f"/><rect x="188.4" y="74.6" width="4.5" height="4.5" fill="#f4747e"/><rect x="192.4" y="74.6" width="4.5" height="4.5" fill="#f5656f"/><rect x="196.4" y="74.6" width="4.5" height="4.5" fill="#f75761"/><rect x="200.4" y="74.6" width="4.5" height="4.5" fill="#f84b54"/><rect x="204.4" y="74.6" width="4.5" height="4.5" fill="#f94049"/><rect x="208.4" y="74.6" width="4.5" height="4.5" fill="#fa363f"/><rect x="212.4" y="74.6" width="4.5" height="4.5" fill="#fa2e37"/><rect x="216.4" y="74.6" width="4.5" height="4.5" fill="#fa2830"/><rect x="220.4" y="74.6" width="4.5" height="4.5" fill="#fa232c"/><rect x="224.4" y="74.6" width="4.5" height="4.5" fill="#fa2029"/><rect x="228.4" y="74.6" width="4.5" height="4.5" fill="#fa1f29"/><rect x="232.4" y="74.6" width="4.5" height="4.5" fill="#fa202a"/><rect x="236.4" y="74.6" width="4.5" height="4.5" fill="#f9232d"/><rect x="240.4" y="74.6" width="4.5" height="4.5" fill="#f92933"/><rect x="244.4" y="74.6" width="4.5" height="4.5" fill="#f8313b"/><rect x="248.4" y="74.6" width="4.5" height="4.5" fill="#f83b45"/><rect x="252.4" y="74.6" width="4.5" height="4.5" fill="#f74650"/><rect x="256.4" y="74.6" width="4.5" height="4.5" fill="#f6515c"/><rect x="260.4" y="74.6" width="4.5" height="4.5" fill="#f55d67"/><rect x="264.4" y="74.6" width="4.5" height="4.5" fill="#f46973"/><rect x="268.4" y="74.6" width="4.5" height="4.5" fill="#f27780"/><rect x="272.4" y="74.6" width="4.5" height="4.5" fill="#f1858d"/><rect x="276.4" y="74.6" width="4.5" height="4.5" fill="#ef939a"/><rect x="280.4" y="74.6" width="4.5" height="4.5" fill="#eea0a6"/><rect x="284.4" y="74.6" width="4.5" height="4.5" fill="#ebabb1"/><rect x="288.4" y="74.6" width="4.5" height="4.5" fill="#e9b5ba"/><rect x="292.4" y="74.6" width="4.5" height="4.5" fill="#e6bdc2"/><rect x="296.4" y="74.6" width="4.5" height="4.5" fill="#e4c3c8"/><rect x="300.4" y="74.6" width="4.5" height="4.5" fill="#e2c8cd"/><rect x="304.4" y="74.6" width="4.5" height="4.5" fill="#e1ccd1"/><rect x="60.4" y="78.6" width="4.5" height="4.5" fill="#9899ed"/><rect x="64.4" y="78.6" width="4.5" height="4.5" fill="#9292ee"/><rect x="68.4" y="78.6" width="4.5" height="4.5" fill="#8a8af0"/><rect x="72.4" y="78.6" width="4.5" height="4.5" fill="#8382f1"/><rect x="76.4" y="78.6" width="4.5" height="4.5" fill="#7b79f2"/><rect x="80.4" y="78.6" width="4.5" height="4.5" fill="#726ef3"/><rect x="84.4" y="78.6" width="4.5" height="4.5" fill="#6863f5"/><rect x="88.4" y="78.6" width="4.5" height="4.5" fill="#5e57f6"/><rect x="92.4" y="78.6" width="4.5" height="4.5" fill="#534bf8"/><rect x="96.4" y="78.6" width="4.5" height="4.5" fill="#4940f9"/><rect x="100.4" y="78.6" width="4.5" height="4.5" fill="#4036fa"/><rect x="104.4" y="78.6" width="4.5" height="4.5" fill="#382dfa"/><rect x="108.4" y="78.6" width="4.5" height="4.5" fill="#3126fa"/><rect x="112.4" y="78.6" width="4.5" height="4.5" fill="#2c21fa"/><rect x="116.4" y="78.6" width="4.5" height="4.5" fill="#291efa"/><rect x="120.4" y="78.6" width="4.5" height="4.5" fill="#271dfa"/><rect x="124.4" y="78.6" width="4.5" height="4.5" fill="#281ffa"/><rect x="128.4" y="78.6" width="4.5" height="4.5" fill="#2b23fa"/><rect x="132.4" y="78.6" width="4.5" height="4.5" fill="#312bfb"/><rect x="136.4" y="78.6" width="4.5" height="4.5" fill="#3936fb"/><rect x="140.4" y="78.6" width="4.5" height="4.5" fill="#4544fa"/><rect x="144.4" y="78.6" width="4.5" height="4.5" fill="#5758f9"/><rect x="148.4" y="78.6" width="4.5" height="4.5" fill="#6e71f6"/><rect x="152.4" y="78.6" width="4.5" height="4.5" fill="#878af2"/><rect x="156.4" y="78.6" width="4.5" height="4.5" fill="#a0a2ed"/><rect x="160.4" y="78.6" width="4.5" height="4.5" fill="#b6b3e7"/><rect x="164.4" y="78.6" width="4.5" height="4.5" fill="#c9bfdf"/><rect x="168.4" y="78.6" width="4.5" height="4.5" fill="#d9c3d6"/><rect x="172.4" y="78.6" width="4.5" height="4.5" fill="#e4c0cb"/><rect x="176.4" y="78.6" width="4.5" height="4.5" fill="#eab4bc"/><rect x="180.4" y="78.6" width="4.5" height="4.5" fill="#eea3ac"/><rect x="184.4" y="78.6" width="4.5" height="4.5" fill="#f0919b"/><rect x="188.4" y="78.6" width="4.5" height="4.5" fill="#f37f89"/><rect x="192.4" y="78.6" width="4.5" height="4.5" fill="#f56e78"/><rect x="196.4" y="78.6" width="4.5" height="4.5" fill="#f65f69"/><rect x="200.4" y="78.6" width="4.5" height="4.5" fill="#f8525c"/><rect x="204.4" y="78.6" width="4.5" height="4.5" fill="#f94650"/><rect x="208.4" y="78.6" width="4.5" height="4.5" fill="#fa3b46"/><rect x="212.4" y="78.6" width="4.5" height="4.5" fill="#fa333d"/><rect x="216.4" y="78.6" width="4.5" height="4.5" fill="#fb2c36"/><rect x="220.4" y="78.6" width="4.5" height="4.5" fill="#fb2731"/><rect x="224.4" y="78.6" width="4.5" height="4.5" fill="#fb242e"/><rect x="228.4" y="78.6" width="4.5" height="4.5" fill="#fb232d"/><rect x="232.4" y="78.6" width="4.5" height="4.5" fill="#fa232d"/><rect x="236.4" y="78.6" width="4.5" height="4.5" fill="#fa2630"/><rect x="240.4" y="78.6" width="4.5" height="4.5" fill="#f92c36"/><rect x="244.4" y="78.6" width="4.5" height="4.5" fill="#f9333d"/><rect x="248.4" y="78.6" width="4.5" height="4.5" fill="#f83c47"/><rect x="252.4" y="78.6" width="4.5" height="4.5" fill="#f74751"/><rect x="256.4" y="78.6" width="4.5" height="4.5" fill="#f6515c"/><rect x="260.4" y="78.6" width="4.5" height="4.5" fill="#f55c66"/><rect x="264.4" y="78.6" width="4.5" height="4.5" fill="#f46872"/><rect x="268.4" y="78.6" width="4.5" height="4.5" fill="#f37780"/><rect x="272.4" y="78.6" width="4.5" height="4.5" fill="#f2858d"/><rect x="276.4" y="78.6" width="4.5" height="4.5" fill="#f0939a"/><rect x="280.4" y="78.6" width="4.5" height="4.5" fill="#eea0a6"/><rect x="284.4" y="78.6" width="4.5" height="4.5" fill="#edabb0"/><rect x="288.4" y="78.6" width="4.5" height="4.5" fill="#eab4b9"/><rect x="292.4" y="78.6" width="4.5" height="4.5" fill="#e8bcc1"/><rect x="296.4" y="78.6" width="4.5" height="4.5" fill="#e6c2c7"/><rect x="300.4" y="78.6" width="4.5" height="4.5" fill="#e4c7cb"/><rect x="304.4" y="78.6" width="4.5" height="4.5" fill="#e2cacf"/><rect x="60.4" y="82.6" width="4.5" height="4.5" fill="#9697ee"/><rect x="64.4" y="82.6" width="4.5" height="4.5" fill="#9091ef"/><rect x="68.4" y="82.6" width="4.5" height="4.5" fill="#8989f0"/><rect x="72.4" y="82.6" width="4.5" height="4.5" fill="#8281f2"/><rect x="76.4" y="82.6" width="4.5" height="4.5" fill="#7a78f3"/><rect x="80.4" y="82.6" width="4.5" height="4.5" fill="#726ef4"/><rect x="84.4" y="82.6" width="4.5" height="4.5" fill="#6963f5"/><rect x="88.4" y="82.6" width="4.5" height="4.5" fill="#5f58f6"/><rect x="92.4" y="82.6" width="4.5" height="4.5" fill="#554df8"/><rect x="96.4" y="82.6" width="4.5" height="4.5" fill="#4b42f9"/><rect x="100.4" y="82.6" width="4.5" height="4.5" fill="#4238fa"/><rect x="104.4" y="82.6" width="4.5" height="4.5" fill="#3a30fa"/><rect x="108.4" y="82.6" width="4.5" height="4.5" fill="#3428fa"/><rect x="112.4" y="82.6" width="4.5" height="4.5" fill="#2e23fa"/><rect x="116.4" y="82.6" width="4.5" height="4.5" fill="#2b20fa"/><rect x="120.4" y="82.6" width="4.5" height="4.5" fill="#2a20fa"/><rect x="124.4" y="82.6" width="4.5" height="4.5" fill="#2b22fa"/><rect x="128.4" y="82.6" width="4.5" height="4.5" fill="#2e27fa"/><rect x="132.4" y="82.6" width="4.5" height="4.5" fill="#342ffa"/><rect x="136.4" y="82.6" width="4.5" height="4.5" fill="#3d39fa"/><rect x="140.4" y="82.6" width="4.5" height="4.5" fill="#4a48f9"/><rect x="144.4" y="82.6" width="4.5" height="4.5" fill="#5a5bf7"/><rect x="148.4" y="82.6" width="4.5" height="4.5" fill="#7072f5"/><rect x="152.4" y="82.6" width="4.5" height="4.5" fill="#888bf2"/><rect x="156.4" y="82.6" width="4.5" height="4.5" fill="#9fa2ee"/><rect x="160.4" y="82.6" width="4.5" height="4.5" fill="#b5b5e9"/><rect x="164.4" y="82.6" width="4.5" height="4.5" fill="#c8c2e3"/><rect x="168.4" y="82.6" width="4.5" height="4.5" fill="#d7c8db"/><rect x="172.4" y="82.6" width="4.5" height="4.5" fill="#e2c6d1"/><rect x="176.4" y="82.6" width="4.5" height="4.5" fill="#e9bcc3"/><rect x="180.4" y="82.6" width="4.5" height="4.5" fill="#edacb3"/><rect x="184.4" y="82.6" width="4.5" height="4.5" fill="#f09aa3"/><rect x="188.4" y="82.6" width="4.5" height="4.5" fill="#f28891"/><rect x="192.4" y="82.6" width="4.5" height="4.5" fill="#f47780"/><rect x="196.4" y="82.6" width="4.5" height="4.5" fill="#f66771"/><rect x="200.4" y="82.6" width="4.5" height="4.5" fill="#f85963"/><rect x="204.4" y="82.6" width="4.5" height="4.5" fill="#f94c57"/><rect x="208.4" y="82.6" width="4.5" height="4.5" fill="#fa424c"/><rect x="212.4" y="82.6" width="4.5" height="4.5" fill="#fa3943"/><rect x="216.4" y="82.6" width="4.5" height="4.5" fill="#fb323c"/><rect x="220.4" y="82.6" width="4.5" height="4.5" fill="#fb2d37"/><rect x="224.4" y="82.6" width="4.5" height="4.5" fill="#fb2934"/><rect x="228.4" y="82.6" width="4.5" height="4.5" fill="#fb2832"/><rect x="232.4" y="82.6" width="4.5" height="4.5" fill="#fb2933"/><rect x="236.4" y="82.6" width="4.5" height="4.5" fill="#fa2b35"/><rect x="240.4" y="82.6" width="4.5" height="4.5" fill="#fa303a"/><rect x="244.4" y="82.6" width="4.5" height="4.5" fill="#f93742"/><rect x="248.4" y="82.6" width="4.5" height="4.5" fill="#f9404a"/><rect x="252.4" y="82.6" width="4.5" height="4.5" fill="#f84a54"/><rect x="256.4" y="82.6" width="4.5" height="4.5" fill="#f7545e"/><rect x="260.4" y="82.6" width="4.5" height="4.5" fill="#f65f69"/><rect x="264.4" y="82.6" width="4.5" height="4.5" fill="#f56b75"/><rect x="268.4" y="82.6" width="4.5" height="4.5" fill="#f37982"/><rect x="272.4" y="82.6" width="4.5" height="4.5" fill="#f2878f"/><rect x="276.4" y="82.6" width="4.5" height="4.5" fill="#f1959c"/><rect x="280.4" y="82.6" width="4.5" height="4.5" fill="#efa1a7"/><rect x="284.4" y="82.6" width="4.5" height="4.5" fill="#edacb1"/><rect x="288.4" y="82.6" width="4.5" height="4.5" fill="#ebb5b9"/><rect x="292.4" y="82.6" width="4.5" height="4.5" fill="#e9bcc0"/><rect x="296.4" y="82.6" width="4.5" height="4.5" fill="#e7c1c5"/><rect x="300.4" y="82.6" width="4.5" height="4.5" fill="#e5c5ca"/><rect x="304.4" y="82.6" width="4.5" height="4.5" fill="#e4c9cd"/><rect x="60.4" y="86.6" width="4.5" height="4.5" fill="#9697ee"/><rect x="64.4" y="86.6" width="4.5" height="4.5" fill="#9090ef"/><rect x="68.4" y="86.6" width="4.5" height="4.5" fill="#8a89f1"/><rect x="72.4" y="86.6" width="4.5" height="4.5" fill="#8382f2"/><rect x="76.4" y="86.6" width="4.5" height="4.5" fill="#7b79f3"/><rect x="80.4" y="86.6" width="4.5" height="4.5" fill="#7370f4"/><rect x="84.4" y="86.6" width="4.5" height="4.5" fill="#6b66f5"/><rect x="88.4" y="86.6" width="4.5" height="4.5" fill="#615bf6"/><rect x="92.4" y="86.6" width="4.5" height="4.5" fill="#5851f7"/><rect x="96.4" y="86.6" width="4.5" height="4.5" fill="#4f46f8"/><rect x="100.4" y="86.6" width="4.5" height="4.5" fill="#463df9"/><rect x="104.4" y="86.6" width="4.5" height="4.5" fill="#3f34fa"/><rect x="108.4" y="86.6" width="4.5" height="4.5" fill="#382dfa"/><rect x="112.4" y="86.6" width="4.5" height="4.5" fill="#3328fa"/><rect x="116.4" y="86.6" width="4.5" height="4.5" fill="#2f25fa"/><rect x="120.4" y="86.6" width="4.5" height="4.5" fill="#2f24fa"/><rect x="124.4" y="86.6" width="4.5" height="4.5" fill="#3128fa"/><rect x="128.4" y="86.6" width="4.5" height="4.5" fill="#352df9"/><rect x="132.4" y="86.6" width="4.5" height="4.5" fill="#3c36f9"/><rect x="136.4" y="86.6" width="4.5" height="4.5" fill="#4541f8"/><rect x="140.4" y="86.6" width="4.5" height="4.5" fill="#524ff7"/><rect x="144.4" y="86.6" width="4.5" height="4.5" fill="#6261f5"/><rect x="148.4" y="86.6" width="4.5" height="4.5" fill="#7577f3"/><rect x="152.4" y="86.6" width="4.5" height="4.5" fill="#8b8ef1"/><rect x="156.4" y="86.6" width="4.5" height="4.5" fill="#a1a5ee"/><rect x="160.4" y="86.6" width="4.5" height="4.5" fill="#b6b8ea"/><rect x="164.4" y="86.6" width="4.5" height="4.5" fill="#c8c6e5"/><rect x="168.4" y="86.6" width="4.5" height="4.5" fill="#d6ccde"/><rect x="172.4" y="86.6" width="4.5" height="4.5" fill="#e1cad4"/><rect x="176.4" y="86.6" width="4.5" height="4.5" fill="#e8c1c7"/><rect x="180.4" y="86.6" width="4.5" height="4.5" fill="#ecb2b8"/><rect x="184.4" y="86.6" width="4.5" height="4.5" fill="#efa1a8"/><rect x="188.4" y="86.6" width="4.5" height="4.5" fill="#f28f97"/><rect x="192.4" y="86.6" width="4.5" height="4.5" fill="#f47e87"/><rect x="196.4" y="86.6" width="4.5" height="4.5" fill="#f66e78"/><rect x="200.4" y="86.6" width="4.5" height="4.5" fill="#f7606a"/><rect x="204.4" y="86.6" width="4.5" height="4.5" fill="#f9545e"/><rect x="208.4" y="86.6" width="4.5" height="4.5" fill="#fa4954"/><rect x="212.4" y="86.6" width="4.5" height="4.5" fill="#fa404b"/><rect x="216.4" y="86.6" width="4.5" height="4.5" fill="#fb3943"/><rect x="220.4" y="86.6" width="4.5" height="4.5" fill="#fb333e"/><rect x="224.4" y="86.6" width="4.5" height="4.5" fill="#fb303b"/><rect x="228.4" y="86.6" width="4.5" height="4.5" fill="#fb2f39"/><rect x="232.4" y="86.6" width="4.5" height="4.5" fill="#fb2f3a"/><rect x="236.4" y="86.6" width="4.5" height="4.5" fill="#fa323c"/><rect x="240.4" y="86.6" width="4.5" height="4.5" fill="#fa3741"/><rect x="244.4" y="86.6" width="4.5" height="4.5" fill="#fa3d48"/><rect x="248.4" y="86.6" width="4.5" height="4.5" fill="#f94550"/><rect x="252.4" y="86.6" width="4.5" height="4.5" fill="#f84f59"/><rect x="256.4" y="86.6" width="4.5" height="4.5" fill="#f75963"/><rect x="260.4" y="86.6" width="4.5" height="4.5" fill="#f6646e"/><rect x="264.4" y="86.6" width="4.5" height="4.5" fill="#f5707a"/><rect x="268.4" y="86.6" width="4.5" height="4.5" fill="#f47d86"/><rect x="272.4" y="86.6" width="4.5" height="4.5" fill="#f28b93"/><rect x="276.4" y="86.6" width="4.5" height="4.5" fill="#f1989f"/><rect x="280.4" y="86.6" width="4.5" height="4.5" fill="#efa4a9"/><rect x="284.4" y="86.6" width="4.5" height="4.5" fill="#eeaeb3"/><rect x="288.4" y="86.6" width="4.5" height="4.5" fill="#ecb6bb"/><rect x="292.4" y="86.6" width="4.5" height="4.5" fill="#eabcc0"/><rect x="296.4" y="86.6" width="4.5" height="4.5" fill="#e8c1c5"/><rect x="300.4" y="86.6" width="4.5" height="4.5" fill="#e7c4c8"/><rect x="304.4" y="86.6" width="4.5" height="4.5" fill="#e5c7cb"/><rect x="60.4" y="90.6" width="4.5" height="4.5" fill="#9697ee"/><rect x="64.4" y="90.6" width="4.5" height="4.5" fill="#9191ef"/><rect x="68.4" y="90.6" width="4.5" height="4.5" fill="#8b8bf0"/><rect x="72.4" y="90.6" width="4.5" height="4.5" fill="#8584f1"/><rect x="76.4" y="90.6" width="4.5" height="4.5" fill="#7e7cf2"/><rect x="80.4" y="90.6" width="4.5" height="4.5" fill="#7673f3"/><rect x="84.4" y="90.6" width="4.5" height="4.5" fill="#6e6af4"/><rect x="88.4" y="90.6" width="4.5" height="4.5" fill="#6660f5"/><rect x="92.4" y="90.6" width="4.5" height="4.5" fill="#5d56f6"/><rect x="96.4" y="90.6" width="4.5" height="4.5" fill="#544df7"/><rect x="100.4" y="90.6" width="4.5" height="4.5" fill="#4c43f8"/><rect x="104.4" y="90.6" width="4.5" height="4.5" fill="#453bf9"/><rect x="108.4" y="90.6" width="4.5" height="4.5" fill="#3e34f9"/><rect x="112.4" y="90.6" width="4.5" height="4.5" fill="#392ffa"/><rect x="116.4" y="90.6" width="4.5" height="4.5" fill="#362cfa"/><rect x="120.4" y="90.6" width="4.5" height="4.5" fill="#362cfa"/><rect x="124.4" y="90.6" width="4.5" height="4.5" fill="#3930f9"/><rect x="128.4" y="90.6" width="4.5" height="4.5" fill="#3e37f8"/><rect x="132.4" y="90.6" width="4.5" height="4.5" fill="#4640f7"/><rect x="136.4" y="90.6" width="4.5" height="4.5" fill="#504cf6"/><rect x="140.4" y="90.6" width="4.5" height="4.5" fill="#5c5af4"/><rect x="144.4" y="90.6" width="4.5" height="4.5" fill="#6b6af3"/><rect x="148.4" y="90.6" width="4.5" height="4.5" fill="#7d7ef1"/><rect x="152.4" y="90.6" width="4.5" height="4.5" fill="#9194ef"/><rect x="156.4" y="90.6" width="4.5" height="4.5" fill="#a6aaed"/><rect x="160.4" y="90.6" width="4.5" height="4.5" fill="#b9bcea"/><rect x="164.4" y="90.6" width="4.5" height="4.5" fill="#c9cae6"/><rect x="168.4" y="90.6" width="4.5" height="4.5" fill="#d7d0df"/><rect x="172.4" y="90.6" width="4.5" height="4.5" fill="#e1cdd6"/><rect x="176.4" y="90.6" width="4.5" height="4.5" fill="#e7c4c9"/><rect x="180.4" y="90.6" width="4.5" height="4.5" fill="#ecb6bb"/><rect x="184.4" y="90.6" width="4.5" height="4.5" fill="#efa6ab"/><rect x="188.4" y="90.6" width="4.5" height="4.5" fill="#f1959b"/><rect x="192.4" y="90.6" width="4.5" height="4.5" fill="#f3848c"/><rect x="196.4" y="90.6" width="4.5" height="4.5" fill="#f5757e"/><rect x="200.4" y="90.6" width="4.5" height="4.5" fill="#f76871"/><rect x="204.4" y="90.6" width="4.5" height="4.5" fill="#f85c66"/><rect x="208.4" y="90.6" width="4.5" height="4.5" fill="#fa515b"/><rect x="212.4" y="90.6" width="4.5" height="4.5" fill="#fa4853"/><rect x="216.4" y="90.6" width="4.5" height="4.5" fill="#fb414c"/><rect x="220.4" y="90.6" width="4.5" height="4.5" fill="#fb3c47"/><rect x="224.4" y="90.6" width="4.5" height="4.5" fill="#fb3943"/><rect x="228.4" y="90.6" width="4.5" height="4.5" fill="#fb3842"/><rect x="232.4" y="90.6" width="4.5" height="4.5" fill="#fb3842"/><rect x="236.4" y="90.6" width="4.5" height="4.5" fill="#fb3a44"/><rect x="240.4" y="90.6" width="4.5" height="4.5" fill="#fa3f49"/><rect x="244.4" y="90.6" width="4.5" height="4.5" fill="#fa454f"/><rect x="248.4" y="90.6" width="4.5" height="4.5" fill="#f94d57"/><rect x="252.4" y="90.6" width="4.5" height="4.5" fill="#f85661"/><rect x="256.4" y="90.6" width="4.5" height="4.5" fill="#f7606a"/><rect x="260.4" y="90.6" width="4.5" height="4.5" fill="#f66b75"/><rect x="264.4" y="90.6" width="4.5" height="4.5" fill="#f57780"/><rect x="268.4" y="90.6" width="4.5" height="4.5" fill="#f4838c"/><rect x="272.4" y="90.6" width="4.5" height="4.5" fill="#f29098"/><rect x="276.4" y="90.6" width="4.5" height="4.5" fill="#f19ca3"/><rect x="280.4" y="90.6" width="4.5" height="4.5" fill="#efa7ad"/><rect x="284.4" y="90.6" width="4.5" height="4.5" fill="#edb1b6"/><rect x="288.4" y="90.6" width="4.5" height="4.5" fill="#ecb8bd"/><rect x="292.4" y="90.6" width="4.5" height="4.5" fill="#eabdc1"/><rect x="296.4" y="90.6" width="4.5" height="4.5" fill="#e9c1c5"/><rect x="300.4" y="90.6" width="4.5" height="4.5" fill="#e8c3c7"/><rect x="304.4" y="90.6" width="4.5" height="4.5" fill="#e6c6ca"/><rect x="60.4" y="94.6" width="4.5" height="4.5" fill="#9898ee"/><rect x="64.4" y="94.6" width="4.5" height="4.5" fill="#9393ef"/><rect x="68.4" y="94.6" width="4.5" height="4.5" fill="#8e8df0"/><rect x="72.4" y="94.6" width="4.5" height="4.5" fill="#8887f0"/><rect x="76.4" y="94.6" width="4.5" height="4.5" fill="#8280f1"/><rect x="80.4" y="94.6" width="4.5" height="4.5" fill="#7b78f2"/><rect x="84.4" y="94.6" width="4.5" height="4.5" fill="#736ff3"/><rect x="88.4" y="94.6" width="4.5" height="4.5" fill="#6b66f4"/><rect x="92.4" y="94.6" width="4.5" height="4.5" fill="#635df5"/><rect x="96.4" y="94.6" width="4.5" height="4.5" fill="#5b54f6"/><rect x="100.4" y="94.6" width="4.5" height="4.5" fill="#534cf7"/><rect x="104.4" y="94.6" width="4.5" height="4.5" fill="#4d45f7"/><rect x="108.4" y="94.6" width="4.5" height="4.5" fill="#473ef8"/><rect x="112.4" y="94.6" width="4.5" height="4.5" fill="#423af8"/><rect x="116.4" y="94.6" width="4.5" height="4.5" fill="#4037f9"/><rect x="120.4" y="94.6" width="4.5" height="4.5" fill="#4138f8"/><rect x="124.4" y="94.6" width="4.5" height="4.5" fill="#443df8"/><rect x="128.4" y="94.6" width="4.5" height="4.5" fill="#4a44f6"/><rect x="132.4" y="94.6" width="4.5" height="4.5" fill="#534df5"/><rect x="136.4" y="94.6" width="4.5" height="4.5" fill="#5d59f4"/><rect x="140.4" y="94.6" width="4.5" height="4.5" fill="#6967f2"/><rect x="144.4" y="94.6" width="4.5" height="4.5" fill="#7876f0"/><rect x="148.4" y="94.6" width="4.5" height="4.5" fill="#8888ef"/><rect x="152.4" y="94.6" width="4.5" height="4.5" fill="#9a9ded"/><rect x="156.4" y="94.6" width="4.5" height="4.5" fill="#acb0ec"/><rect x="160.4" y="94.6" width="4.5" height="4.5" fill="#bdc1ea"/><rect x="164.4" y="94.6" width="4.5" height="4.5" fill="#cccde6"/><rect x="168.4" y="94.6" width="4.5" height="4.5" fill="#d8d2df"/><rect x="172.4" y="94.6" width="4.5" height="4.5" fill="#e1cfd6"/><rect x="176.4" y="94.6" width="4.5" height="4.5" fill="#e7c6ca"/><rect x="180.4" y="94.6" width="4.5" height="4.5" fill="#ebb9bd"/><rect x="184.4" y="94.6" width="4.5" height="4.5" fill="#eea9ae"/><rect x="188.4" y="94.6" width="4.5" height="4.5" fill="#f0999f"/><rect x="192.4" y="94.6" width="4.5" height="4.5" fill="#f38b92"/><rect x="196.4" y="94.6" width="4.5" height="4.5" fill="#f47d85"/><rect x="200.4" y="94.6" width="4.5" height="4.5" fill="#f67079"/><rect x="204.4" y="94.6" width="4.5" height="4.5" fill="#f8656e"/><rect x="208.4" y="94.6" width="4.5" height="4.5" fill="#f95a64"/><rect x="212.4" y="94.6" width="4.5" height="4.5" fill="#fa515c"/><rect x="216.4" y="94.6" width="4.5" height="4.5" fill="#fb4b55"/><rect x="220.4" y="94.6" width="4.5" height="4.5" fill="#fb4651"/><rect x="224.4" y="94.6" width="4.5" height="4.5" fill="#fb434e"/><rect x="228.4" y="94.6" width="4.5" height="4.5" fill="#fb424c"/><rect x="232.4" y="94.6" width="4.5" height="4.5" fill="#fa424c"/><rect x="236.4" y="94.6" width="4.5" height="4.5" fill="#fa444e"/><rect x="240.4" y="94.6" width="4.5" height="4.5" fill="#fa4852"/><rect x="244.4" y="94.6" width="4.5" height="4.5" fill="#f94f59"/><rect x="248.4" y="94.6" width="4.5" height="4.5" fill="#f95661"/><rect x="252.4" y="94.6" width="4.5" height="4.5" fill="#f85f69"/><rect x="256.4" y="94.6" width="4.5" height="4.5" fill="#f76973"/><rect x="260.4" y="94.6" width="4.5" height="4.5" fill="#f6737d"/><rect x="264.4" y="94.6" width="4.5" height="4.5" fill="#f57e88"/><rect x="268.4" y="94.6" width="4.5" height="4.5" fill="#f38a93"/><rect x="272.4" y="94.6" width="4.5" height="4.5" fill="#f1969e"/><rect x="276.4" y="94.6" width="4.5" height="4.5" fill="#f0a1a8"/><rect x="280.4" y="94.6" width="4.5" height="4.5" fill="#eeacb2"/><rect x="284.4" y="94.6" width="4.5" height="4.5" fill="#edb5ba"/><rect x="288.4" y="94.6" width="4.5" height="4.5" fill="#ebbbc0"/><rect x="292.4" y="94.6" width="4.5" height="4.5" fill="#eabfc3"/><rect x="296.4" y="94.6" width="4.5" height="4.5" fill="#e9c1c5"/><rect x="300.4" y="94.6" width="4.5" height="4.5" fill="#e8c3c7"/><rect x="304.4" y="94.6" width="4.5" height="4.5" fill="#e7c5c9"/><rect x="60.4" y="98.6" width="4.5" height="4.5" fill="#999aed"/><rect x="64.4" y="98.6" width="4.5" height="4.5" fill="#9596ee"/><rect x="68.4" y="98.6" width="4.5" height="4.5" fill="#9191ef"/><rect x="72.4" y="98.6" width="4.5" height="4.5" fill="#8c8bf0"/><rect x="76.4" y="98.6" width="4.5" height="4.5" fill="#8685f0"/><rect x="80.4" y="98.6" width="4.5" height="4.5" fill="#807ef1"/><rect x="84.4" y="98.6" width="4.5" height="4.5" fill="#7976f2"/><rect x="88.4" y="98.6" width="4.5" height="4.5" fill="#726ef3"/><rect x="92.4" y="98.6" width="4.5" height="4.5" fill="#6a66f3"/><rect x="96.4" y="98.6" width="4.5" height="4.5" fill="#635ef4"/><rect x="100.4" y="98.6" width="4.5" height="4.5" fill="#5c56f5"/><rect x="104.4" y="98.6" width="4.5" height="4.5" fill="#5650f5"/><rect x="108.4" y="98.6" width="4.5" height="4.5" fill="#514bf6"/><rect x="112.4" y="98.6" width="4.5" height="4.5" fill="#4e47f6"/><rect x="116.4" y="98.6" width="4.5" height="4.5" fill="#4c46f6"/><rect x="120.4" y="98.6" width="4.5" height="4.5" fill="#4e47f6"/><rect x="124.4" y="98.6" width="4.5" height="4.5" fill="#524cf5"/><rect x="128.4" y="98.6" width="4.5" height="4.5" fill="#5853f4"/><rect x="132.4" y="98.6" width="4.5" height="4.5" fill="#615df3"/><rect x="136.4" y="98.6" width="4.5" height="4.5" fill="#6c68f2"/><rect x="140.4" y="98.6" width="4.5" height="4.5" fill="#7876f0"/><rect x="144.4" y="98.6" width="4.5" height="4.5" fill="#8685ef"/><rect x="148.4" y="98.6" width="4.5" height="4.5" fill="#9696ed"/><rect x="152.4" y="98.6" width="4.5" height="4.5" fill="#a5a7ec"/><rect x="156.4" y="98.6" width="4.5" height="4.5" fill="#b5b8eb"/><rect x="160.4" y="98.6" width="4.5" height="4.5" fill="#c3c5e8"/><rect x="164.4" y="98.6" width="4.5" height="4.5" fill="#cfcfe4"/><rect x="168.4" y="98.6" width="4.5" height="4.5" fill="#dad3de"/><rect x="172.4" y="98.6" width="4.5" height="4.5" fill="#e1d0d6"/><rect x="176.4" y="98.6" width="4.5" height="4.5" fill="#e7c8cb"/><rect x="180.4" y="98.6" width="4.5" height="4.5" fill="#ebbcbf"/><rect x="184.4" y="98.6" width="4.5" height="4.5" fill="#edaeb2"/><rect x="188.4" y="98.6" width="4.5" height="4.5" fill="#f09fa4"/><rect x="192.4" y="98.6" width="4.5" height="4.5" fill="#f29299"/><rect x="196.4" y="98.6" width="4.5" height="4.5" fill="#f3868d"/><rect x="200.4" y="98.6" width="4.5" height="4.5" fill="#f57a82"/><rect x="204.4" y="98.6" width="4.5" height="4.5" fill="#f76f78"/><rect x="208.4" y="98.6" width="4.5" height="4.5" fill="#f8656f"/><rect x="212.4" y="98.6" width="4.5" height="4.5" fill="#f95c66"/><rect x="216.4" y="98.6" width="4.5" height="4.5" fill="#fa5660"/><rect x="220.4" y="98.6" width="4.5" height="4.5" fill="#fa525c"/><rect x="224.4" y="98.6" width="4.5" height="4.5" fill="#fa505a"/><rect x="228.4" y="98.6" width="4.5" height="4.5" fill="#fa4e58"/><rect x="232.4" y="98.6" width="4.5" height="4.5" fill="#fa4f59"/><rect x="236.4" y="98.6" width="4.5" height="4.5" fill="#f9505a"/><rect x="240.4" y="98.6" width="4.5" height="4.5" fill="#f9545e"/><rect x="244.4" y="98.6" width="4.5" height="4.5" fill="#f95a64"/><rect x="248.4" y="98.6" width="4.5" height="4.5" fill="#f8616c"/><rect x="252.4" y="98.6" width="4.5" height="4.5" fill="#f76974"/><rect x="256.4" y="98.6" width="4.5" height="4.5" fill="#f6727d"/><rect x="260.4" y="98.6" width="4.5" height="4.5" fill="#f57c86"/><rect x="264.4" y="98.6" width="4.5" height="4.5" fill="#f48690"/><rect x="268.4" y="98.6" width="4.5" height="4.5" fill="#f2919a"/><rect x="272.4" y="98.6" width="4.5" height="4.5" fill="#f09ca4"/><rect x="276.4" y="98.6" width="4.5" height="4.5" fill="#eea6ae"/><rect x="280.4" y="98.6" width="4.5" height="4.5" fill="#edb0b7"/><rect x="284.4" y="98.6" width="4.5" height="4.5" fill="#ebb8be"/><rect x="288.4" y="98.6" width="4.5" height="4.5" fill="#eabec3"/><rect x="292.4" y="98.6" width="4.5" height="4.5" fill="#e9c1c6"/><rect x="296.4" y="98.6" width="4.5" height="4.5" fill="#e8c2c7"/><rect x="300.4" y="98.6" width="4.5" height="4.5" fill="#e7c2c8"/><rect x="304.4" y="98.6" width="4.5" height="4.5" fill="#e6c4ca"/><rect x="60.4" y="102.6" width="4.5" height="4.5" fill="#9c9ced"/><rect x="64.4" y="102.6" width="4.5" height="4.5" fill="#9899ed"/><rect x="68.4" y="102.6" width="4.5" height="4.5" fill="#9594ee"/><rect x="72.4" y="102.6" width="4.5" height="4.5" fill="#9090ee"/><rect x="76.4" y="102.6" width="4.5" height="4.5" fill="#8c8aef"/><rect x="80.4" y="102.6" width="4.5" height="4.5" fill="#8684f0"/><rect x="84.4" y="102.6" width="4.5" height="4.5" fill="#807df0"/><rect x="88.4" y="102.6" width="4.5" height="4.5" fill="#7976f1"/><rect x="92.4" y="102.6" width="4.5" height="4.5" fill="#726ff2"/><rect x="96.4" y="102.6" width="4.5" height="4.5" fill="#6c68f2"/><rect x="100.4" y="102.6" width="4.5" height="4.5" fill="#6662f3"/><rect x="104.4" y="102.6" width="4.5" height="4.5" fill="#615cf3"/><rect x="108.4" y="102.6" width="4.5" height="4.5" fill="#5d59f4"/><rect x="112.4" y="102.6" width="4.5" height="4.5" fill="#5a56f4"/><rect x="116.4" y="102.6" width="4.5" height="4.5" fill="#5a56f3"/><rect x="120.4" y="102.6" width="4.5" height="4.5" fill="#5c58f3"/><rect x="124.4" y="102.6" width="4.5" height="4.5" fill="#605df3"/><rect x="128.4" y="102.6" width="4.5" height="4.5" fill="#6764f2"/><rect x="132.4" y="102.6" width="4.5" height="4.5" fill="#706df1"/><rect x="136.4" y="102.6" width="4.5" height="4.5" fill="#7b78f0"/><rect x="140.4" y="102.6" width="4.5" height="4.5" fill="#8786ef"/><rect x="144.4" y="102.6" width="4.5" height="4.5" fill="#9594ed"/><rect x="148.4" y="102.6" width="4.5" height="4.5" fill="#a4a4ec"/><rect x="152.4" y="102.6" width="4.5" height="4.5" fill="#b1b2eb"/><rect x="156.4" y="102.6" width="4.5" height="4.5" fill="#bebfe9"/><rect x="160.4" y="102.6" width="4.5" height="4.5" fill="#c9cae6"/><rect x="164.4" y="102.6" width="4.5" height="4.5" fill="#d3d1e3"/><rect x="168.4" y="102.6" width="4.5" height="4.5" fill="#dcd4dd"/><rect x="172.4" y="102.6" width="4.5" height="4.5" fill="#e2d1d6"/><rect x="176.4" y="102.6" width="4.5" height="4.5" fill="#e7cacd"/><rect x="180.4" y="102.6" width="4.5" height="4.5" fill="#eac0c2"/><rect x="184.4" y="102.6" width="4.5" height="4.5" fill="#edb4b7"/><rect x="188.4" y="102.6" width="4.5" height="4.5" fill="#efa7ac"/><rect x="192.4" y="102.6" width="4.5" height="4.5" fill="#f19ca1"/><rect x="196.4" y="102.6" width="4.5" height="4.5" fill="#f29097"/><rect x="200.4" y="102.6" width="4.5" height="4.5" fill="#f4858d"/><rect x="204.4" y="102.6" width="4.5" height="4.5" fill="#f57b83"/><rect x="208.4" y="102.6" width="4.5" height="4.5" fill="#f7727a"/><rect x="212.4" y="102.6" width="4.5" height="4.5" fill="#f86a73"/><rect x="216.4" y="102.6" width="4.5" height="4.5" fill="#f8646d"/><rect x="220.4" y="102.6" width="4.5" height="4.5" fill="#f86069"/><rect x="224.4" y="102.6" width="4.5" height="4.5" fill="#f85e67"/><rect x="228.4" y="102.6" width="4.5" height="4.5" fill="#f85d66"/><rect x="232.4" y="102.6" width="4.5" height="4.5" fill="#f85d67"/><rect x="236.4" y="102.6" width="4.5" height="4.5" fill="#f85f69"/><rect x="240.4" y="102.6" width="4.5" height="4.5" fill="#f8626c"/><rect x="244.4" y="102.6" width="4.5" height="4.5" fill="#f76772"/><rect x="248.4" y="102.6" width="4.5" height="4.5" fill="#f76e78"/><rect x="252.4" y="102.6" width="4.5" height="4.5" fill="#f6757f"/><rect x="256.4" y="102.6" width="4.5" height="4.5" fill="#f57d87"/><rect x="260.4" y="102.6" width="4.5" height="4.5" fill="#f48690"/><rect x="264.4" y="102.6" width="4.5" height="4.5" fill="#f28f99"/><rect x="268.4" y="102.6" width="4.5" height="4.5" fill="#f099a2"/><rect x="272.4" y="102.6" width="4.5" height="4.5" fill="#eea2ab"/><rect x="276.4" y="102.6" width="4.5" height="4.5" fill="#ecacb4"/><rect x="280.4" y="102.6" width="4.5" height="4.5" fill="#ebb4bc"/><rect x="284.4" y="102.6" width="4.5" height="4.5" fill="#e9bbc2"/><rect x="288.4" y="102.6" width="4.5" height="4.5" fill="#e8c0c6"/><rect x="292.4" y="102.6" width="4.5" height="4.5" fill="#e7c2c9"/><rect x="296.4" y="102.6" width="4.5" height="4.5" fill="#e7c3ca"/><rect x="300.4" y="102.6" width="4.5" height="4.5" fill="#e6c4ca"/><rect x="304.4" y="102.6" width="4.5" height="4.5" fill="#e5c5cb"/><rect x="60.4" y="106.6" width="4.5" height="4.5" fill="#9e9eec"/><rect x="64.4" y="106.6" width="4.5" height="4.5" fill="#9b9ced"/><rect x="68.4" y="106.6" width="4.5" height="4.5" fill="#9999ed"/><rect x="72.4" y="106.6" width="4.5" height="4.5" fill="#9595ed"/><rect x="76.4" y="106.6" width="4.5" height="4.5" fill="#9190ee"/><rect x="80.4" y="106.6" width="4.5" height="4.5" fill="#8c8bee"/><rect x="84.4" y="106.6" width="4.5" height="4.5" fill="#8785ef"/><rect x="88.4" y="106.6" width="4.5" height="4.5" fill="#817fef"/><rect x="92.4" y="106.6" width="4.5" height="4.5" fill="#7b78f0"/><rect x="96.4" y="106.6" width="4.5" height="4.5" fill="#7573f1"/><rect x="100.4" y="106.6" width="4.5" height="4.5" fill="#706df1"/><rect x="104.4" y="106.6" width="4.5" height="4.5" fill="#6c69f1"/><rect x="108.4" y="106.6" width="4.5" height="4.5" fill="#6967f1"/><rect x="112.4" y="106.6" width="4.5" height="4.5" fill="#6866f1"/><rect x="116.4" y="106.6" width="4.5" height="4.5" fill="#6867f1"/><rect x="120.4" y="106.6" width="4.5" height="4.5" fill="#6a69f0"/><rect x="124.4" y="106.6" width="4.5" height="4.5" fill="#6f6ef0"/><rect x="128.4" y="106.6" width="4.5" height="4.5" fill="#7674f0"/><rect x="132.4" y="106.6" width="4.5" height="4.5" fill="#7e7def"/><rect x="136.4" y="106.6" width="4.5" height="4.5" fill="#8988ee"/><rect x="140.4" y="106.6" width="4.5" height="4.5" fill="#9695ed"/><rect x="144.4" y="106.6" width="4.5" height="4.5" fill="#a3a3ec"/><rect x="148.4" y="106.6" width="4.5" height="4.5" fill="#b1b1eb"/><rect x="152.4" y="106.6" width="4.5" height="4.5" fill="#bcbde9"/><rect x="156.4" y="106.6" width="4.5" height="4.5" fill="#c6c7e8"/><rect x="160.4" y="106.6" width="4.5" height="4.5" fill="#cfcfe5"/><rect x="164.4" y="106.6" width="4.5" height="4.5" fill="#d7d4e1"/><rect x="168.4" y="106.6" width="4.5" height="4.5" fill="#ded5dc"/><rect x="172.4" y="106.6" width="4.5" height="4.5" fill="#e3d2d6"/><rect x="176.4" y="106.6" width="4.5" height="4.5" fill="#e7cccf"/><rect x="180.4" y="106.6" width="4.5" height="4.5" fill="#eac4c6"/><rect x="184.4" y="106.6" width="4.5" height="4.5" fill="#ecbbbe"/><rect x="188.4" y="106.6" width="4.5" height="4.5" fill="#eeb0b4"/><rect x="192.4" y="106.6" width="4.5" height="4.5" fill="#f0a6ab"/><rect x="196.4" y="106.6" width="4.5" height="4.5" fill="#f19ca2"/><rect x="200.4" y="106.6" width="4.5" height="4.5" fill="#f39198"/><rect x="204.4" y="106.6" width="4.5" height="4.5" fill="#f4888f"/><rect x="208.4" y="106.6" width="4.5" height="4.5" fill="#f57f87"/><rect x="212.4" y="106.6" width="4.5" height="4.5" fill="#f67880"/><rect x="216.4" y="106.6" width="4.5" height="4.5" fill="#f6737b"/><rect x="220.4" y="106.6" width="4.5" height="4.5" fill="#f66f78"/><rect x="224.4" y="106.6" width="4.5" height="4.5" fill="#f66d76"/><rect x="228.4" y="106.6" width="4.5" height="4.5" fill="#f66c75"/><rect x="232.4" y="106.6" width="4.5" height="4.5" fill="#f66c76"/><rect x="236.4" y="106.6" width="4.5" height="4.5" fill="#f66e78"/><rect x="240.4" y="106.6" width="4.5" height="4.5" fill="#f6717b"/><rect x="244.4" y="106.6" width="4.5" height="4.5" fill="#f57580"/><rect x="248.4" y="106.6" width="4.5" height="4.5" fill="#f57b85"/><rect x="252.4" y="106.6" width="4.5" height="4.5" fill="#f4818b"/><rect x="256.4" y="106.6" width="4.5" height="4.5" fill="#f38892"/><rect x="260.4" y="106.6" width="4.5" height="4.5" fill="#f2909a"/><rect x="264.4" y="106.6" width="4.5" height="4.5" fill="#f098a2"/><rect x="268.4" y="106.6" width="4.5" height="4.5" fill="#eea1aa"/><rect x="272.4" y="106.6" width="4.5" height="4.5" fill="#eca9b3"/><rect x="276.4" y="106.6" width="4.5" height="4.5" fill="#eab1ba"/><rect x="280.4" y="106.6" width="4.5" height="4.5" fill="#e8b8c1"/><rect x="284.4" y="106.6" width="4.5" height="4.5" fill="#e6bdc6"/><rect x="288.4" y="106.6" width="4.5" height="4.5" fill="#e5c1ca"/><rect x="292.4" y="106.6" width="4.5" height="4.5" fill="#e5c4cc"/><rect x="296.4" y="106.6" width="4.5" height="4.5" fill="#e4c5cd"/><rect x="300.4" y="106.6" width="4.5" height="4.5" fill="#e4c5cd"/><rect x="304.4" y="106.6" width="4.5" height="4.5" fill="#e4c6ce"/><rect x="60.4" y="110.6" width="4.5" height="4.5" fill="#a0a0ec"/><rect x="64.4" y="110.6" width="4.5" height="4.5" fill="#9e9fec"/><rect x="68.4" y="110.6" width="4.5" height="4.5" fill="#9c9cec"/><rect x="72.4" y="110.6" width="4.5" height="4.5" fill="#9a9aec"/><rect x="76.4" y="110.6" width="4.5" height="4.5" fill="#9797ec"/><rect x="80.4" y="110.6" width="4.5" height="4.5" fill="#9392ed"/><rect x="84.4" y="110.6" width="4.5" height="4.5" fill="#8e8ded"/><rect x="88.4" y="110.6" width="4.5" height="4.5" fill="#8987ee"/><rect x="92.4" y="110.6" width="4.5" height="4.5" fill="#8482ef"/><rect x="96.4" y="110.6" width="4.5" height="4.5" fill="#7f7def"/><rect x="100.4" y="110.6" width="4.5" height="4.5" fill="#7b79ef"/><rect x="104.4" y="110.6" width="4.5" height="4.5" fill="#7876ef"/><rect x="108.4" y="110.6" width="4.5" height="4.5" fill="#7675ef"/><rect x="112.4" y="110.6" width="4.5" height="4.5" fill="#7575ef"/><rect x="116.4" y="110.6" width="4.5" height="4.5" fill="#7676ee"/><rect x="120.4" y="110.6" width="4.5" height="4.5" fill="#7979ee"/><rect x="124.4" y="110.6" width="4.5" height="4.5" fill="#7d7dee"/><rect x="128.4" y="110.6" width="4.5" height="4.5" fill="#8483ee"/><rect x="132.4" y="110.6" width="4.5" height="4.5" fill="#8c8bed"/><rect x="136.4" y="110.6" width="4.5" height="4.5" fill="#9695ed"/><rect x="140.4" y="110.6" width="4.5" height="4.5" fill="#a2a1ec"/><rect x="144.4" y="110.6" width="4.5" height="4.5" fill="#aeaeeb"/><rect x="148.4" y="110.6" width="4.5" height="4.5" fill="#babbea"/><rect x="152.4" y="110.6" width="4.5" height="4.5" fill="#c4c5e8"/><rect x="156.4" y="110.6" width="4.5" height="4.5" fill="#cdcde7"/><rect x="160.4" y="110.6" width="4.5" height="4.5" fill="#d4d3e4"/><rect x="164.4" y="110.6" width="4.5" height="4.5" fill="#dbd6e0"/><rect x="168.4" y="110.6" width="4.5" height="4.5" fill="#e0d6db"/><rect x="172.4" y="110.6" width="4.5" height="4.5" fill="#e4d3d6"/><rect x="176.4" y="110.6" width="4.5" height="4.5" fill="#e7ced0"/><rect x="180.4" y="110.6" width="4.5" height="4.5" fill="#eac8cb"/><rect x="184.4" y="110.6" width="4.5" height="4.5" fill="#ecc1c4"/><rect x="188.4" y="110.6" width="4.5" height="4.5" fill="#edb9bd"/><rect x="192.4" y="110.6" width="4.5" height="4.5" fill="#eeb0b5"/><rect x="196.4" y="110.6" width="4.5" height="4.5" fill="#f0a7ad"/><rect x="200.4" y="110.6" width="4.5" height="4.5" fill="#f19ea4"/><rect x="204.4" y="110.6" width="4.5" height="4.5" fill="#f2959b"/><rect x="208.4" y="110.6" width="4.5" height="4.5" fill="#f38d94"/><rect x="212.4" y="110.6" width="4.5" height="4.5" fill="#f3878e"/><rect x="216.4" y="110.6" width="4.5" height="4.5" fill="#f48289"/><rect x="220.4" y="110.6" width="4.5" height="4.5" fill="#f47e86"/><rect x="224.4" y="110.6" width="4.5" height="4.5" fill="#f47c85"/><rect x="228.4" y="110.6" width="4.5" height="4.5" fill="#f47c85"/><rect x="232.4" y="110.6" width="4.5" height="4.5" fill="#f47c86"/><rect x="236.4" y="110.6" width="4.5" height="4.5" fill="#f47e88"/><rect x="240.4" y="110.6" width="4.5" height="4.5" fill="#f4808b"/><rect x="244.4" y="110.6" width="4.5" height="4.5" fill="#f3848e"/><rect x="248.4" y="110.6" width="4.5" height="4.5" fill="#f38892"/><rect x="252.4" y="110.6" width="4.5" height="4.5" fill="#f38d97"/><rect x="256.4" y="110.6" width="4.5" height="4.5" fill="#f2939d"/><rect x="260.4" y="110.6" width="4.5" height="4.5" fill="#f09aa4"/><rect x="264.4" y="110.6" width="4.5" height="4.5" fill="#eea1ab"/><rect x="268.4" y="110.6" width="4.5" height="4.5" fill="#eca8b2"/><rect x="272.4" y="110.6" width="4.5" height="4.5" fill="#e9afba"/><rect x="276.4" y="110.6" width="4.5" height="4.5" fill="#e7b6c1"/><rect x="280.4" y="110.6" width="4.5" height="4.5" fill="#e5bbc6"/><rect x="284.4" y="110.6" width="4.5" height="4.5" fill="#e3c0cb"/><rect x="288.4" y="110.6" width="4.5" height="4.5" fill="#e2c3ce"/><rect x="292.4" y="110.6" width="4.5" height="4.5" fill="#e2c5d0"/><rect x="296.4" y="110.6" width="4.5" height="4.5" fill="#e2c6d0"/><rect x="300.4" y="110.6" width="4.5" height="4.5" fill="#e2c7d1"/><rect x="304.4" y="110.6" width="4.5" height="4.5" fill="#e2c8d1"/><rect x="60.4" y="114.6" width="4.5" height="4.5" fill="#a2a2eb"/><rect x="64.4" y="114.6" width="4.5" height="4.5" fill="#a1a1eb"/><rect x="68.4" y="114.6" width="4.5" height="4.5" fill="#a0a0eb"/><rect x="72.4" y="114.6" width="4.5" height="4.5" fill="#9e9feb"/><rect x="76.4" y="114.6" width="4.5" height="4.5" fill="#9c9ceb"/><rect x="80.4" y="114.6" width="4.5" height="4.5" fill="#9999ec"/><rect x="84.4" y="114.6" width="4.5" height="4.5" fill="#9594ec"/><rect x="88.4" y="114.6" width="4.5" height="4.5" fill="#908fed"/><rect x="92.4" y="114.6" width="4.5" height="4.5" fill="#8c8bed"/><rect x="96.4" y="114.6" width="4.5" height="4.5" fill="#8887ee"/><rect x="100.4" y="114.6" width="4.5" height="4.5" fill="#8584ee"/><rect x="104.4" y="114.6" width="4.5" height="4.5" fill="#8382ee"/><rect x="108.4" y="114.6" width="4.5" height="4.5" fill="#8282ee"/><rect x="112.4" y="114.6" width="4.5" height="4.5" fill="#8283ed"/><rect x="116.4" y="114.6" width="4.5" height="4.5" fill="#8484ed"/><rect x="120.4" y="114.6" width="4.5" height="4.5" fill="#8687ed"/><rect x="124.4" y="114.6" width="4.5" height="4.5" fill="#8b8bec"/><rect x="128.4" y="114.6" width="4.5" height="4.5" fill="#9091ec"/><rect x="132.4" y="114.6" width="4.5" height="4.5" fill="#9898ec"/><rect x="136.4" y="114.6" width="4.5" height="4.5" fill="#a1a1eb"/><rect x="140.4" y="114.6" width="4.5" height="4.5" fill="#abaceb"/><rect x="144.4" y="114.6" width="4.5" height="4.5" fill="#b6b7ea"/><rect x="148.4" y="114.6" width="4.5" height="4.5" fill="#c1c2e9"/><rect x="152.4" y="114.6" width="4.5" height="4.5" fill="#cacbe8"/><rect x="156.4" y="114.6" width="4.5" height="4.5" fill="#d2d1e6"/><rect x="160.4" y="114.6" width="4.5" height="4.5" fill="#d8d6e3"/><rect x="164.4" y="114.6" width="4.5" height="4.5" fill="#ddd7df"/><rect x="168.4" y="114.6" width="4.5" height="4.5" fill="#e2d6db"/><rect x="172.4" y="114.6" width="4.5" height="4.5" fill="#e5d4d6"/><rect x="176.4" y="114.6" width="4.5" height="4.5" fill="#e7d0d2"/><rect x="180.4" y="114.6" width="4.5" height="4.5" fill="#e9cbce"/><rect x="184.4" y="114.6" width="4.5" height="4.5" fill="#ebc7cb"/><rect x="188.4" y="114.6" width="4.5" height="4.5" fill="#ecc1c6"/><rect x="192.4" y="114.6" width="4.5" height="4.5" fill="#edbabf"/><rect x="196.4" y="114.6" width="4.5" height="4.5" fill="#eeb2b7"/><rect x="200.4" y="114.6" width="4.5" height="4.5" fill="#efa9af"/><rect x="204.4" y="114.6" width="4.5" height="4.5" fill="#f0a2a7"/><rect x="208.4" y="114.6" width="4.5" height="4.5" fill="#f19ba0"/><rect x="212.4" y="114.6" width="4.5" height="4.5" fill="#f1959b"/><rect x="216.4" y="114.6" width="4.5" height="4.5" fill="#f29097"/><rect x="220.4" y="114.6" width="4.5" height="4.5" fill="#f28d94"/><rect x="224.4" y="114.6" width="4.5" height="4.5" fill="#f28b93"/><rect x="228.4" y="114.6" width="4.5" height="4.5" fill="#f28b94"/><rect x="232.4" y="114.6" width="4.5" height="4.5" fill="#f28c95"/><rect x="236.4" y="114.6" width="4.5" height="4.5" fill="#f18d98"/><rect x="240.4" y="114.6" width="4.5" height="4.5" fill="#f18f9a"/><rect x="244.4" y="114.6" width="4.5" height="4.5" fill="#f1929c"/><rect x="248.4" y="114.6" width="4.5" height="4.5" fill="#f1959f"/><rect x="252.4" y="114.6" width="4.5" height="4.5" fill="#f199a3"/><rect x="256.4" y="114.6" width="4.5" height="4.5" fill="#f09ea7"/><rect x="260.4" y="114.6" width="4.5" height="4.5" fill="#eea4ad"/><rect x="264.4" y="114.6" width="4.5" height="4.5" fill="#ecaab4"/><rect x="268.4" y="114.6" width="4.5" height="4.5" fill="#e9b0ba"/><rect x="272.4" y="114.6" width="4.5" height="4.5" fill="#e6b5c1"/><rect x="276.4" y="114.6" width="4.5" height="4.5" fill="#e3bbc7"/><rect x="280.4" y="114.6" width="4.5" height="4.5" fill="#e1bfcc"/><rect x="284.4" y="114.6" width="4.5" height="4.5" fill="#dfc3d0"/><rect x="288.4" y="114.6" width="4.5" height="4.5" fill="#dfc6d3"/><rect x="292.4" y="114.6" width="4.5" height="4.5" fill="#dec7d4"/><rect x="296.4" y="114.6" width="4.5" height="4.5" fill="#dfc8d4"/><rect x="300.4" y="114.6" width="4.5" height="4.5" fill="#dfc9d4"/><rect x="304.4" y="114.6" width="4.5" height="4.5" fill="#e0c9d4"/><rect x="60.4" y="118.6" width="4.5" height="4.5" fill="#a3a3eb"/><rect x="64.4" y="118.6" width="4.5" height="4.5" fill="#a3a3eb"/><rect x="68.4" y="118.6" width="4.5" height="4.5" fill="#a2a3eb"/><rect x="72.4" y="118.6" width="4.5" height="4.5" fill="#a2a2ea"/><rect x="76.4" y="118.6" width="4.5" height="4.5" fill="#a1a1ea"/><rect x="80.4" y="118.6" width="4.5" height="4.5" fill="#9e9eeb"/><rect x="84.4" y="118.6" width="4.5" height="4.5" fill="#9a9aeb"/><rect x="88.4" y="118.6" width="4.5" height="4.5" fill="#9696ec"/><rect x="92.4" y="118.6" width="4.5" height="4.5" fill="#9392ec"/><rect x="96.4" y="118.6" width="4.5" height="4.5" fill="#908fec"/><rect x="100.4" y="118.6" width="4.5" height="4.5" fill="#8e8ded"/><rect x="104.4" y="118.6" width="4.5" height="4.5" fill="#8d8ded"/><rect x="108.4" y="118.6" width="4.5" height="4.5" fill="#8d8ded"/><rect x="112.4" y="118.6" width="4.5" height="4.5" fill="#8e8fec"/><rect x="116.4" y="118.6" width="4.5" height="4.5" fill="#9091ec"/><rect x="120.4" y="118.6" width="4.5" height="4.5" fill="#9394ec"/><rect x="124.4" y="118.6" width="4.5" height="4.5" fill="#9797eb"/><rect x="128.4" y="118.6" width="4.5" height="4.5" fill="#9c9ceb"/><rect x="132.4" y="118.6" width="4.5" height="4.5" fill="#a2a2eb"/><rect x="136.4" y="118.6" width="4.5" height="4.5" fill="#aaaaea"/><rect x="140.4" y="118.6" width="4.5" height="4.5" fill="#b3b3ea"/><rect x="144.4" y="118.6" width="4.5" height="4.5" fill="#bcbde9"/><rect x="148.4" y="118.6" width="4.5" height="4.5" fill="#c6c7e9"/><rect x="152.4" y="118.6" width="4.5" height="4.5" fill="#cecfe8"/><rect x="156.4" y="118.6" width="4.5" height="4.5" fill="#d5d5e6"/><rect x="160.4" y="118.6" width="4.5" height="4.5" fill="#dbd8e3"/><rect x="164.4" y="118.6" width="4.5" height="4.5" fill="#dfd8df"/><rect x="168.4" y="118.6" width="4.5" height="4.5" fill="#e3d6da"/><rect x="172.4" y="118.6" width="4.5" height="4.5" fill="#e5d3d6"/><rect x="176.4" y="118.6" width="4.5" height="4.5" fill="#e7d0d2"/><rect x="180.4" y="118.6" width="4.5" height="4.5" fill="#e8cdd0"/><rect x="184.4" y="118.6" width="4.5" height="4.5" fill="#e9cbcf"/><rect x="188.4" y="118.6" width="4.5" height="4.5" fill="#eac8cd"/><rect x="192.4" y="118.6" width="4.5" height="4.5" fill="#ebc2c7"/><rect x="196.4" y="118.6" width="4.5" height="4.5" fill="#ecbbc0"/><rect x="200.4" y="118.6" width="4.5" height="4.5" fill="#edb4b9"/><rect x="204.4" y="118.6" width="4.5" height="4.5" fill="#eeadb2"/><rect x="208.4" y="118.6" width="4.5" height="4.5" fill="#efa7ac"/><rect x="212.4" y="118.6" width="4.5" height="4.5" fill="#efa2a7"/><rect x="216.4" y="118.6" width="4.5" height="4.5" fill="#f09ea3"/><rect x="220.4" y="118.6" width="4.5" height="4.5" fill="#f09ba1"/><rect x="224.4" y="118.6" width="4.5" height="4.5" fill="#f09aa1"/><rect x="228.4" y="118.6" width="4.5" height="4.5" fill="#f099a1"/><rect x="232.4" y="118.6" width="4.5" height="4.5" fill="#f09aa3"/><rect x="236.4" y="118.6" width="4.5" height="4.5" fill="#ef9ca5"/><rect x="240.4" y="118.6" width="4.5" height="4.5" fill="#ef9da7"/><rect x="244.4" y="118.6" width="4.5" height="4.5" fill="#ef9fa8"/><rect x="248.4" y="118.6" width="4.5" height="4.5" fill="#efa1aa"/><rect x="252.4" y="118.6" width="4.5" height="4.5" fill="#efa4ad"/><rect x="256.4" y="118.6" width="4.5" height="4.5" fill="#eda8b1"/><rect x="260.4" y="118.6" width="4.5" height="4.5" fill="#ecacb6"/><rect x="264.4" y="118.6" width="4.5" height="4.5" fill="#e9b1bc"/><rect x="268.4" y="118.6" width="4.5" height="4.5" fill="#e6b7c2"/><rect x="272.4" y="118.6" width="4.5" height="4.5" fill="#e2bbc8"/><rect x="276.4" y="118.6" width="4.5" height="4.5" fill="#dfc0ce"/><rect x="280.4" y="118.6" width="4.5" height="4.5" fill="#ddc4d2"/><rect x="284.4" y="118.6" width="4.5" height="4.5" fill="#dcc6d6"/><rect x="288.4" y="118.6" width="4.5" height="4.5" fill="#dbc8d7"/><rect x="292.4" y="118.6" width="4.5" height="4.5" fill="#dbc9d8"/><rect x="296.4" y="118.6" width="4.5" height="4.5" fill="#dccad8"/><rect x="300.4" y="118.6" width="4.5" height="4.5" fill="#ddcad8"/><rect x="304.4" y="118.6" width="4.5" height="4.5" fill="#decbd7"/><rect x="60.4" y="122.6" width="4.5" height="4.5" fill="#a4a4eb"/><rect x="64.4" y="122.6" width="4.5" height="4.5" fill="#a4a4ea"/><rect x="68.4" y="122.6" width="4.5" height="4.5" fill="#a4a4ea"/><rect x="72.4" y="122.6" width="4.5" height="4.5" fill="#a4a4ea"/><rect x="76.4" y="122.6" width="4.5" height="4.5" fill="#a3a3ea"/><rect x="80.4" y="122.6" width="4.5" height="4.5" fill="#a1a2ea"/><rect x="84.4" y="122.6" width="4.5" height="4.5" fill="#9f9fea"/><rect x="88.4" y="122.6" width="4.5" height="4.5" fill="#9c9ceb"/><rect x="92.4" y="122.6" width="4.5" height="4.5" fill="#9999eb"/><rect x="96.4" y="122.6" width="4.5" height="4.5" fill="#9797ec"/><rect x="100.4" y="122.6" width="4.5" height="4.5" fill="#9696ec"/><rect x="104.4" y="122.6" width="4.5" height="4.5" fill="#9696ec"/><rect x="108.4" y="122.6" width="4.5" height="4.5" fill="#9797ec"/><rect x="112.4" y="122.6" width="4.5" height="4.5" fill="#9999ec"/><rect x="116.4" y="122.6" width="4.5" height="4.5" fill="#9c9ceb"/><rect x="120.4" y="122.6" width="4.5" height="4.5" fill="#9e9feb"/><rect x="124.4" y="122.6" width="4.5" height="4.5" fill="#a1a2ea"/><rect x="128.4" y="122.6" width="4.5" height="4.5" fill="#a5a5ea"/><rect x="132.4" y="122.6" width="4.5" height="4.5" fill="#aaaaea"/><rect x="136.4" y="122.6" width="4.5" height="4.5" fill="#b1b1e9"/><rect x="140.4" y="122.6" width="4.5" height="4.5" fill="#b8b9e9"/><rect x="144.4" y="122.6" width="4.5" height="4.5" fill="#c1c2e9"/><rect x="148.4" y="122.6" width="4.5" height="4.5" fill="#c9cbe8"/><rect x="152.4" y="122.6" width="4.5" height="4.5" fill="#d1d2e8"/><rect x="156.4" y="122.6" width="4.5" height="4.5" fill="#d7d8e6"/><rect x="160.4" y="122.6" width="4.5" height="4.5" fill="#dddae3"/><rect x="164.4" y="122.6" width="4.5" height="4.5" fill="#e0d9df"/><rect x="168.4" y="122.6" width="4.5" height="4.5" fill="#e3d6da"/><rect x="172.4" y="122.6" width="4.5" height="4.5" fill="#e5d2d5"/><rect x="176.4" y="122.6" width="4.5" height="4.5" fill="#e6ced2"/><rect x="180.4" y="122.6" width="4.5" height="4.5" fill="#e7cdd1"/><rect x="184.4" y="122.6" width="4.5" height="4.5" fill="#e8cdd2"/><rect x="188.4" y="122.6" width="4.5" height="4.5" fill="#e9ccd1"/><rect x="192.4" y="122.6" width="4.5" height="4.5" fill="#eac8ce"/><rect x="196.4" y="122.6" width="4.5" height="4.5" fill="#ebc3c8"/><rect x="200.4" y="122.6" width="4.5" height="4.5" fill="#ebbdc2"/><rect x="204.4" y="122.6" width="4.5" height="4.5" fill="#ecb7bc"/><rect x="208.4" y="122.6" width="4.5" height="4.5" fill="#edb2b7"/><rect x="212.4" y="122.6" width="4.5" height="4.5" fill="#edadb2"/><rect x="216.4" y="122.6" width="4.5" height="4.5" fill="#eeaaaf"/><rect x="220.4" y="122.6" width="4.5" height="4.5" fill="#eea8ad"/><rect x="224.4" y="122.6" width="4.5" height="4.5" fill="#eea7ad"/><rect x="228.4" y="122.6" width="4.5" height="4.5" fill="#eea7ad"/><rect x="232.4" y="122.6" width="4.5" height="4.5" fill="#eea7af"/><rect x="236.4" y="122.6" width="4.5" height="4.5" fill="#eea8b1"/><rect x="240.4" y="122.6" width="4.5" height="4.5" fill="#eea9b2"/><rect x="244.4" y="122.6" width="4.5" height="4.5" fill="#eeaab3"/><rect x="248.4" y="122.6" width="4.5" height="4.5" fill="#edacb4"/><rect x="252.4" y="122.6" width="4.5" height="4.5" fill="#edaeb7"/><rect x="256.4" y="122.6" width="4.5" height="4.5" fill="#ebb1ba"/><rect x="260.4" y="122.6" width="4.5" height="4.5" fill="#e9b4be"/><rect x="264.4" y="122.6" width="4.5" height="4.5" fill="#e6b9c4"/><rect x="268.4" y="122.6" width="4.5" height="4.5" fill="#e2bdca"/><rect x="272.4" y="122.6" width="4.5" height="4.5" fill="#dfc1d0"/><rect x="276.4" y="122.6" width="4.5" height="4.5" fill="#dbc5d5"/><rect x="280.4" y="122.6" width="4.5" height="4.5" fill="#d9c8d8"/><rect x="284.4" y="122.6" width="4.5" height="4.5" fill="#d8cadb"/><rect x="288.4" y="122.6" width="4.5" height="4.5" fill="#d8cbdc"/><rect x="292.4" y="122.6" width="4.5" height="4.5" fill="#d9cbdc"/><rect x="296.4" y="122.6" width="4.5" height="4.5" fill="#daccdb"/><rect x="300.4" y="122.6" width="4.5" height="4.5" fill="#dbccdb"/><rect x="304.4" y="122.6" width="4.5" height="4.5" fill="#dcccda"/><rect x="60.4" y="126.6" width="4.5" height="4.5" fill="#a4a4ea"/><rect x="64.4" y="126.6" width="4.5" height="4.5" fill="#a5a5ea"/><rect x="68.4" y="126.6" width="4.5" height="4.5" fill="#a5a5ea"/><rect x="72.4" y="126.6" width="4.5" height="4.5" fill="#a5a5ea"/><rect x="76.4" y="126.6" width="4.5" height="4.5" fill="#a5a5ea"/><rect x="80.4" y="126.6" width="4.5" height="4.5" fill="#a4a4ea"/><rect x="84.4" y="126.6" width="4.5" height="4.5" fill="#a2a2ea"/><rect x="88.4" y="126.6" width="4.5" height="4.5" fill="#a0a0ea"/><rect x="92.4" y="126.6" width="4.5" height="4.5" fill="#9e9eeb"/><rect x="96.4" y="126.6" width="4.5" height="4.5" fill="#9d9deb"/><rect x="100.4" y="126.6" width="4.5" height="4.5" fill="#9d9deb"/><rect x="104.4" y="126.6" width="4.5" height="4.5" fill="#9e9eeb"/><rect x="108.4" y="126.6" width="4.5" height="4.5" fill="#a0a0eb"/><rect x="112.4" y="126.6" width="4.5" height="4.5" fill="#a2a2eb"/><rect x="116.4" y="126.6" width="4.5" height="4.5" fill="#a5a6eb"/><rect x="120.4" y="126.6" width="4.5" height="4.5" fill="#a8a8ea"/><rect x="124.4" y="126.6" width="4.5" height="4.5" fill="#aaaaea"/><rect x="128.4" y="126.6" width="4.5" height="4.5" fill="#adade9"/><rect x="132.4" y="126.6" width="4.5" height="4.5" fill="#b1b1e9"/><rect x="136.4" y="126.6" width="4.5" height="4.5" fill="#b6b6e8"/><rect x="140.4" y="126.6" width="4.5" height="4.5" fill="#bcbde8"/><rect x="144.4" y="126.6" width="4.5" height="4.5" fill="#c4c5e8"/><rect x="148.4" y="126.6" width="4.5" height="4.5" fill="#cbcde8"/><rect x="152.4" y="126.6" width="4.5" height="4.5" fill="#d3d5e8"/><rect x="156.4" y="126.6" width="4.5" height="4.5" fill="#d9dae6"/><rect x="160.4" y="126.6" width="4.5" height="4.5" fill="#dedbe3"/><rect x="164.4" y="126.6" width="4.5" height="4.5" fill="#e1dadf"/><rect x="168.4" y="126.6" width="4.5" height="4.5" fill="#e3d6da"/><rect x="172.4" y="126.6" width="4.5" height="4.5" fill="#e5d1d5"/><rect x="176.4" y="126.6" width="4.5" height="4.5" fill="#e6cdd2"/><rect x="180.4" y="126.6" width="4.5" height="4.5" fill="#e6cdd2"/><rect x="184.4" y="126.6" width="4.5" height="4.5" fill="#e7cfd4"/><rect x="188.4" y="126.6" width="4.5" height="4.5" fill="#e8cfd5"/><rect x="192.4" y="126.6" width="4.5" height="4.5" fill="#e8cdd3"/><rect x="196.4" y="126.6" width="4.5" height="4.5" fill="#e9cacf"/><rect x="200.4" y="126.6" width="4.5" height="4.5" fill="#eac5ca"/><rect x="204.4" y="126.6" width="4.5" height="4.5" fill="#eac0c5"/><rect x="208.4" y="126.6" width="4.5" height="4.5" fill="#ebbbc0"/><rect x="212.4" y="126.6" width="4.5" height="4.5" fill="#ecb7bc"/><rect x="216.4" y="126.6" width="4.5" height="4.5" fill="#ecb5b9"/><rect x="220.4" y="126.6" width="4.5" height="4.5" fill="#ecb3b8"/><rect x="224.4" y="126.6" width="4.5" height="4.5" fill="#edb2b8"/><rect x="228.4" y="126.6" width="4.5" height="4.5" fill="#edb2b8"/><rect x="232.4" y="126.6" width="4.5" height="4.5" fill="#edb3b9"/><rect x="236.4" y="126.6" width="4.5" height="4.5" fill="#edb3ba"/><rect x="240.4" y="126.6" width="4.5" height="4.5" fill="#ecb4bb"/><rect x="244.4" y="126.6" width="4.5" height="4.5" fill="#ecb4bc"/><rect x="248.4" y="126.6" width="4.5" height="4.5" fill="#ecb5bd"/><rect x="252.4" y="126.6" width="4.5" height="4.5" fill="#ebb6bf"/><rect x="256.4" y="126.6" width="4.5" height="4.5" fill="#e9b8c2"/><rect x="260.4" y="126.6" width="4.5" height="4.5" fill="#e6bbc6"/><rect x="264.4" y="126.6" width="4.5" height="4.5" fill="#e3bfcb"/><rect x="268.4" y="126.6" width="4.5" height="4.5" fill="#dfc3d1"/><rect x="272.4" y="126.6" width="4.5" height="4.5" fill="#dbc6d6"/><rect x="276.4" y="126.6" width="4.5" height="4.5" fill="#d8cadb"/><rect x="280.4" y="126.6" width="4.5" height="4.5" fill="#d5ccde"/><rect x="284.4" y="126.6" width="4.5" height="4.5" fill="#d5cde0"/><rect x="288.4" y="126.6" width="4.5" height="4.5" fill="#d5cee0"/><rect x="292.4" y="126.6" width="4.5" height="4.5" fill="#d6cee0"/><rect x="296.4" y="126.6" width="4.5" height="4.5" fill="#d8cedf"/><rect x="300.4" y="126.6" width="4.5" height="4.5" fill="#d9cdde"/><rect x="304.4" y="126.6" width="4.5" height="4.5" fill="#dacedd"/><rect x="60.4" y="130.6" width="4.5" height="4.5" fill="#a4a4ea"/><rect x="64.4" y="130.6" width="4.5" height="4.5" fill="#a5a5ea"/><rect x="68.4" y="130.6" width="4.5" height="4.5" fill="#a5a6ea"/><rect x="72.4" y="130.6" width="4.5" height="4.5" fill="#a6a6ea"/><rect x="76.4" y="130.6" width="4.5" height="4.5" fill="#a6a6ea"/><rect x="80.4" y="130.6" width="4.5" height="4.5" fill="#a6a6ea"/><rect x="84.4" y="130.6" width="4.5" height="4.5" fill="#a5a5ea"/><rect x="88.4" y="130.6" width="4.5" height="4.5" fill="#a3a3ea"/><rect x="92.4" y="130.6" width="4.5" height="4.5" fill="#a2a2ea"/><rect x="96.4" y="130.6" width="4.5" height="4.5" fill="#a2a2eb"/><rect x="100.4" y="130.6" width="4.5" height="4.5" fill="#a2a2eb"/><rect x="104.4" y="130.6" width="4.5" height="4.5" fill="#a4a4eb"/><rect x="108.4" y="130.6" width="4.5" height="4.5" fill="#a6a6eb"/><rect x="112.4" y="130.6" width="4.5" height="4.5" fill="#a9a9eb"/><rect x="116.4" y="130.6" width="4.5" height="4.5" fill="#adadea"/><rect x="120.4" y="130.6" width="4.5" height="4.5" fill="#afafea"/><rect x="124.4" y="130.6" width="4.5" height="4.5" fill="#b1b1e9"/><rect x="128.4" y="130.6" width="4.5" height="4.5" fill="#b3b3e9"/><rect x="132.4" y="130.6" width="4.5" height="4.5" fill="#b6b6e8"/><rect x="136.4" y="130.6" width="4.5" height="4.5" fill="#babae8"/><rect x="140.4" y="130.6" width="4.5" height="4.5" fill="#bfc0e8"/><rect x="144.4" y="130.6" width="4.5" height="4.5" fill="#c6c7e8"/><rect x="148.4" y="130.6" width="4.5" height="4.5" fill="#cdcfe8"/><rect x="152.4" y="130.6" width="4.5" height="4.5" fill="#d4d6e8"/><rect x="156.4" y="130.6" width="4.5" height="4.5" fill="#dadae6"/><rect x="160.4" y="130.6" width="4.5" height="4.5" fill="#dedce4"/><rect x="164.4" y="130.6" width="4.5" height="4.5" fill="#e1dae0"/><rect x="168.4" y="130.6" width="4.5" height="4.5" fill="#e3d7db"/><rect x="172.4" y="130.6" width="4.5" height="4.5" fill="#e4d3d7"/><rect x="176.4" y="130.6" width="4.5" height="4.5" fill="#e5cfd4"/><rect x="180.4" y="130.6" width="4.5" height="4.5" fill="#e5d0d5"/><rect x="184.4" y="130.6" width="4.5" height="4.5" fill="#e6d2d7"/><rect x="188.4" y="130.6" width="4.5" height="4.5" fill="#e6d4d9"/><rect x="192.4" y="130.6" width="4.5" height="4.5" fill="#e7d3d8"/><rect x="196.4" y="130.6" width="4.5" height="4.5" fill="#e8cfd5"/><rect x="200.4" y="130.6" width="4.5" height="4.5" fill="#e8cbd0"/><rect x="204.4" y="130.6" width="4.5" height="4.5" fill="#e9c7cc"/><rect x="208.4" y="130.6" width="4.5" height="4.5" fill="#e9c3c8"/><rect x="212.4" y="130.6" width="4.5" height="4.5" fill="#eac0c5"/><rect x="216.4" y="130.6" width="4.5" height="4.5" fill="#eabec3"/><rect x="220.4" y="130.6" width="4.5" height="4.5" fill="#ebbdc1"/><rect x="224.4" y="130.6" width="4.5" height="4.5" fill="#ebbcc1"/><rect x="228.4" y="130.6" width="4.5" height="4.5" fill="#ebbcc1"/><rect x="232.4" y="130.6" width="4.5" height="4.5" fill="#ebbdc2"/><rect x="236.4" y="130.6" width="4.5" height="4.5" fill="#ebbdc3"/><rect x="240.4" y="130.6" width="4.5" height="4.5" fill="#ebbdc3"/><rect x="244.4" y="130.6" width="4.5" height="4.5" fill="#ebbdc4"/><rect x="248.4" y="130.6" width="4.5" height="4.5" fill="#eabdc5"/><rect x="252.4" y="130.6" width="4.5" height="4.5" fill="#e9bec6"/><rect x="256.4" y="130.6" width="4.5" height="4.5" fill="#e7bfc8"/><rect x="260.4" y="130.6" width="4.5" height="4.5" fill="#e4c1cc"/><rect x="264.4" y="130.6" width="4.5" height="4.5" fill="#e0c4d1"/><rect x="268.4" y="130.6" width="4.5" height="4.5" fill="#dcc8d7"/><rect x="272.4" y="130.6" width="4.5" height="4.5" fill="#d8cbdc"/><rect x="276.4" y="130.6" width="4.5" height="4.5" fill="#d4cee1"/><rect x="280.4" y="130.6" width="4.5" height="4.5" fill="#d2d0e4"/><rect x="284.4" y="130.6" width="4.5" height="4.5" fill="#d2d1e5"/><rect x="288.4" y="130.6" width="4.5" height="4.5" fill="#d3d1e4"/><rect x="292.4" y="130.6" width="4.5" height="4.5" fill="#d4d0e3"/><rect x="296.4" y="130.6" width="4.5" height="4.5" fill="#d6d0e2"/><rect x="300.4" y="130.6" width="4.5" height="4.5" fill="#d8cfe0"/><rect x="304.4" y="130.6" width="4.5" height="4.5" fill="#d9cfdf"/><rect x="60.4" y="134.6" width="4.5" height="4.5" fill="#a4a4eb"/><rect x="64.4" y="134.6" width="4.5" height="4.5" fill="#a5a5ea"/><rect x="68.4" y="134.6" width="4.5" height="4.5" fill="#a6a6ea"/><rect x="72.4" y="134.6" width="4.5" height="4.5" fill="#a7a7ea"/><rect x="76.4" y="134.6" width="4.5" height="4.5" fill="#a7a7ea"/><rect x="80.4" y="134.6" width="4.5" height="4.5" fill="#a7a7ea"/><rect x="84.4" y="134.6" width="4.5" height="4.5" fill="#a7a7ea"/><rect x="88.4" y="134.6" width="4.5" height="4.5" fill="#a6a7ea"/><rect x="92.4" y="134.6" width="4.5" height="4.5" fill="#a6a6ea"/><rect x="96.4" y="134.6" width="4.5" height="4.5" fill="#a6a6ea"/><rect x="100.4" y="134.6" width="4.5" height="4.5" fill="#a7a7ea"/><rect x="104.4" y="134.6" width="4.5" height="4.5" fill="#a9a9eb"/><rect x="108.4" y="134.6" width="4.5" height="4.5" fill="#acacea"/><rect x="112.4" y="134.6" width="4.5" height="4.5" fill="#afafea"/><rect x="116.4" y="134.6" width="4.5" height="4.5" fill="#b2b2ea"/><rect x="120.4" y="134.6" width="4.5" height="4.5" fill="#b4b4ea"/><rect x="124.4" y="134.6" width="4.5" height="4.5" fill="#b6b6e9"/><rect x="128.4" y="134.6" width="4.5" height="4.5" fill="#b8b8e9"/><rect x="132.4" y="134.6" width="4.5" height="4.5" fill="#babae8"/><rect x="136.4" y="134.6" width="4.5" height="4.5" fill="#bdbde8"/><rect x="140.4" y="134.6" width="4.5" height="4.5" fill="#c2c3e8"/><rect x="144.4" y="134.6" width="4.5" height="4.5" fill="#c8c9e8"/><rect x="148.4" y="134.6" width="4.5" height="4.5" fill="#ced0e8"/><rect x="152.4" y="134.6" width="4.5" height="4.5" fill="#d4d6e7"/><rect x="156.4" y="134.6" width="4.5" height="4.5" fill="#d9dae6"/><rect x="160.4" y="134.6" width="4.5" height="4.5" fill="#dddce4"/><rect x="164.4" y="134.6" width="4.5" height="4.5" fill="#e0dbe1"/><rect x="168.4" y="134.6" width="4.5" height="4.5" fill="#e2d8dd"/><rect x="172.4" y="134.6" width="4.5" height="4.5" fill="#e3d6da"/><rect x="176.4" y="134.6" width="4.5" height="4.5" fill="#e4d4d9"/><rect x="180.4" y="134.6" width="4.5" height="4.5" fill="#e4d4d9"/><rect x="184.4" y="134.6" width="4.5" height="4.5" fill="#e5d6db"/><rect x="188.4" y="134.6" width="4.5" height="4.5" fill="#e5d8dd"/><rect x="192.4" y="134.6" width="4.5" height="4.5" fill="#e6d7dc"/><rect x="196.4" y="134.6" width="4.5" height="4.5" fill="#e6d4d9"/><rect x="200.4" y="134.6" width="4.5" height="4.5" fill="#e7d1d6"/><rect x="204.4" y="134.6" width="4.5" height="4.5" fill="#e7cdd2"/><rect x="208.4" y="134.6" width="4.5" height="4.5" fill="#e8cacf"/><rect x="212.4" y="134.6" width="4.5" height="4.5" fill="#e9c8cc"/><rect x="216.4" y="134.6" width="4.5" height="4.5" fill="#e9c6cb"/><rect x="220.4" y="134.6" width="4.5" height="4.5" fill="#e9c5ca"/><rect x="224.4" y="134.6" width="4.5" height="4.5" fill="#eac5c9"/><rect x="228.4" y="134.6" width="4.5" height="4.5" fill="#eac5c9"/><rect x="232.4" y="134.6" width="4.5" height="4.5" fill="#eac5ca"/><rect x="236.4" y="134.6" width="4.5" height="4.5" fill="#eac6ca"/><rect x="240.4" y="134.6" width="4.5" height="4.5" fill="#eac5cb"/><rect x="244.4" y="134.6" width="4.5" height="4.5" fill="#e9c5cb"/><rect x="248.4" y="134.6" width="4.5" height="4.5" fill="#e8c5cb"/><rect x="252.4" y="134.6" width="4.5" height="4.5" fill="#e7c4cc"/><rect x="256.4" y="134.6" width="4.5" height="4.5" fill="#e5c5ce"/><rect x="260.4" y="134.6" width="4.5" height="4.5" fill="#e2c7d2"/><rect x="264.4" y="134.6" width="4.5" height="4.5" fill="#decad7"/><rect x="268.4" y="134.6" width="4.5" height="4.5" fill="#dacddc"/><rect x="272.4" y="134.6" width="4.5" height="4.5" fill="#d5d0e1"/><rect x="276.4" y="134.6" width="4.5" height="4.5" fill="#d2d2e6"/><rect x="280.4" y="134.6" width="4.5" height="4.5" fill="#d0d3e8"/><rect x="284.4" y="134.6" width="4.5" height="4.5" fill="#d0d4e8"/><rect x="288.4" y="134.6" width="4.5" height="4.5" fill="#d1d3e8"/><rect x="292.4" y="134.6" width="4.5" height="4.5" fill="#d3d2e6"/><rect x="296.4" y="134.6" width="4.5" height="4.5" fill="#d5d2e4"/><rect x="300.4" y="134.6" width="4.5" height="4.5" fill="#d7d1e3"/><rect x="304.4" y="134.6" width="4.5" height="4.5" fill="#d8d1e2"/><rect x="60.4" y="138.6" width="4.5" height="4.5" fill="#a5a5eb"/><rect x="64.4" y="138.6" width="4.5" height="4.5" fill="#a6a6ea"/><rect x="68.4" y="138.6" width="4.5" height="4.5" fill="#a7a7ea"/><rect x="72.4" y="138.6" width="4.5" height="4.5" fill="#a8a8ea"/><rect x="76.4" y="138.6" width="4.5" height="4.5" fill="#a8a9ea"/><rect x="80.4" y="138.6" width="4.5" height="4.5" fill="#a9a9ea"/><rect x="84.4" y="138.6" width="4.5" height="4.5" fill="#a9a9ea"/><rect x="88.4" y="138.6" width="4.5" height="4.5" fill="#a9a9ea"/><rect x="92.4" y="138.6" width="4.5" height="4.5" fill="#a9aaea"/><rect x="96.4" y="138.6" width="4.5" height="4.5" fill="#aaaaea"/><rect x="100.4" y="138.6" width="4.5" height="4.5" fill="#abacea"/><rect x="104.4" y="138.6" width="4.5" height="4.5" fill="#adaeea"/><rect x="108.4" y="138.6" width="4.5" height="4.5" fill="#b0b0ea"/><rect x="112.4" y="138.6" width="4.5" height="4.5" fill="#b3b3ea"/><rect x="116.4" y="138.6" width="4.5" height="4.5" fill="#b5b6ea"/><rect x="120.4" y="138.6" width="4.5" height="4.5" fill="#b8b8ea"/><rect x="124.4" y="138.6" width="4.5" height="4.5" fill="#babae9"/><rect x="128.4" y="138.6" width="4.5" height="4.5" fill="#bcbce9"/><rect x="132.4" y="138.6" width="4.5" height="4.5" fill="#bebee8"/><rect x="136.4" y="138.6" width="4.5" height="4.5" fill="#c1c1e8"/><rect x="140.4" y="138.6" width="4.5" height="4.5" fill="#c5c6e8"/><rect x="144.4" y="138.6" width="4.5" height="4.5" fill="#cacce8"/><rect x="148.4" y="138.6" width="4.5" height="4.5" fill="#cfd2e8"/><rect x="152.4" y="138.6" width="4.5" height="4.5" fill="#d5d6e7"/><rect x="156.4" y="138.6" width="4.5" height="4.5" fill="#d9dae6"/><rect x="160.4" y="138.6" width="4.5" height="4.5" fill="#dddce5"/><rect x="164.4" y="138.6" width="4.5" height="4.5" fill="#dfdce2"/><rect x="168.4" y="138.6" width="4.5" height="4.5" fill="#e1dae0"/><rect x="172.4" y="138.6" width="4.5" height="4.5" fill="#e2d9de"/><rect x="176.4" y="138.6" width="4.5" height="4.5" fill="#e3d8dd"/><rect x="180.4" y="138.6" width="4.5" height="4.5" fill="#e4d9de"/><rect x="184.4" y="138.6" width="4.5" height="4.5" fill="#e4dadf"/><rect x="188.4" y="138.6" width="4.5" height="4.5" fill="#e4dbe0"/><rect x="192.4" y="138.6" width="4.5" height="4.5" fill="#e5dbdf"/><rect x="196.4" y="138.6" width="4.5" height="4.5" fill="#e5d9de"/><rect x="200.4" y="138.6" width="4.5" height="4.5" fill="#e6d6db"/><rect x="204.4" y="138.6" width="4.5" height="4.5" fill="#e6d3d8"/><rect x="208.4" y="138.6" width="4.5" height="4.5" fill="#e7d0d5"/><rect x="212.4" y="138.6" width="4.5" height="4.5" fill="#e7cfd3"/><rect x="216.4" y="138.6" width="4.5" height="4.5" fill="#e8cdd2"/><rect x="220.4" y="138.6" width="4.5" height="4.5" fill="#e8cdd1"/><rect x="224.4" y="138.6" width="4.5" height="4.5" fill="#e8ccd0"/><rect x="228.4" y="138.6" width="4.5" height="4.5" fill="#e8ccd0"/><rect x="232.4" y="138.6" width="4.5" height="4.5" fill="#e9ccd0"/><rect x="236.4" y="138.6" width="4.5" height="4.5" fill="#e8ccd1"/><rect x="240.4" y="138.6" width="4.5" height="4.5" fill="#e8ccd1"/><rect x="244.4" y="138.6" width="4.5" height="4.5" fill="#e8ccd1"/><rect x="248.4" y="138.6" width="4.5" height="4.5" fill="#e7cbd2"/><rect x="252.4" y="138.6" width="4.5" height="4.5" fill="#e5cbd3"/><rect x="256.4" y="138.6" width="4.5" height="4.5" fill="#e3cbd4"/><rect x="260.4" y="138.6" width="4.5" height="4.5" fill="#e0ccd8"/><rect x="264.4" y="138.6" width="4.5" height="4.5" fill="#dccedc"/><rect x="268.4" y="138.6" width="4.5" height="4.5" fill="#d8d1e1"/><rect x="272.4" y="138.6" width="4.5" height="4.5" fill="#d4d3e5"/><rect x="276.4" y="138.6" width="4.5" height="4.5" fill="#d1d5e9"/><rect x="280.4" y="138.6" width="4.5" height="4.5" fill="#d0d6eb"/><rect x="284.4" y="138.6" width="4.5" height="4.5" fill="#d0d6eb"/><rect x="288.4" y="138.6" width="4.5" height="4.5" fill="#d0d6ea"/><rect x="292.4" y="138.6" width="4.5" height="4.5" fill="#d2d5e9"/><rect x="296.4" y="138.6" width="4.5" height="4.5" fill="#d4d4e7"/><rect x="300.4" y="138.6" width="4.5" height="4.5" fill="#d5d3e6"/><rect x="304.4" y="138.6" width="4.5" height="4.5" fill="#d7d3e5"/><rect x="60.4" y="142.6" width="4.5" height="4.5" fill="#a6a6eb"/><rect x="64.4" y="142.6" width="4.5" height="4.5" fill="#a7a7eb"/><rect x="68.4" y="142.6" width="4.5" height="4.5" fill="#a8a8eb"/><rect x="72.4" y="142.6" width="4.5" height="4.5" fill="#a9a9ea"/><rect x="76.4" y="142.6" width="4.5" height="4.5" fill="#aaaaea"/><rect x="80.4" y="142.6" width="4.5" height="4.5" fill="#aaabea"/><rect x="84.4" y="142.6" width="4.5" height="4.5" fill="#abacea"/><rect x="88.4" y="142.6" width="4.5" height="4.5" fill="#acacea"/><rect x="92.4" y="142.6" width="4.5" height="4.5" fill="#acadea"/><rect x="96.4" y="142.6" width="4.5" height="4.5" fill="#adaeea"/><rect x="100.4" y="142.6" width="4.5" height="4.5" fill="#afb0eb"/><rect x="104.4" y="142.6" width="4.5" height="4.5" fill="#b1b2ea"/><rect x="108.4" y="142.6" width="4.5" height="4.5" fill="#b4b4ea"/><rect x="112.4" y="142.6" width="4.5" height="4.5" fill="#b6b7ea"/><rect x="116.4" y="142.6" width="4.5" height="4.5" fill="#b9b9ea"/><rect x="120.4" y="142.6" width="4.5" height="4.5" fill="#bbbcea"/><rect x="124.4" y="142.6" width="4.5" height="4.5" fill="#bdbee9"/><rect x="128.4" y="142.6" width="4.5" height="4.5" fill="#bfc0e9"/><rect x="132.4" y="142.6" width="4.5" height="4.5" fill="#c1c2e9"/><rect x="136.4" y="142.6" width="4.5" height="4.5" fill="#c4c6e8"/><rect x="140.4" y="142.6" width="4.5" height="4.5" fill="#c8cae8"/><rect x="144.4" y="142.6" width="4.5" height="4.5" fill="#cccee8"/><rect x="148.4" y="142.6" width="4.5" height="4.5" fill="#d0d3e8"/><rect x="152.4" y="142.6" width="4.5" height="4.5" fill="#d5d7e8"/><rect x="156.4" y="142.6" width="4.5" height="4.5" fill="#d9dae7"/><rect x="160.4" y="142.6" width="4.5" height="4.5" fill="#dcdce6"/><rect x="164.4" y="142.6" width="4.5" height="4.5" fill="#dfdde4"/><rect x="168.4" y="142.6" width="4.5" height="4.5" fill="#e0dde2"/><rect x="172.4" y="142.6" width="4.5" height="4.5" fill="#e2dce1"/><rect x="176.4" y="142.6" width="4.5" height="4.5" fill="#e2dce1"/><rect x="180.4" y="142.6" width="4.5" height="4.5" fill="#e3dde1"/><rect x="184.4" y="142.6" width="4.5" height="4.5" fill="#e3dee2"/><rect x="188.4" y="142.6" width="4.5" height="4.5" fill="#e4dee3"/><rect x="192.4" y="142.6" width="4.5" height="4.5" fill="#e4dee2"/><rect x="196.4" y="142.6" width="4.5" height="4.5" fill="#e4dde1"/><rect x="200.4" y="142.6" width="4.5" height="4.5" fill="#e5dbdf"/><rect x="204.4" y="142.6" width="4.5" height="4.5" fill="#e5d8dd"/><rect x="208.4" y="142.6" width="4.5" height="4.5" fill="#e6d6db"/><rect x="212.4" y="142.6" width="4.5" height="4.5" fill="#e6d5d9"/><rect x="216.4" y="142.6" width="4.5" height="4.5" fill="#e6d4d8"/><rect x="220.4" y="142.6" width="4.5" height="4.5" fill="#e7d3d7"/><rect x="224.4" y="142.6" width="4.5" height="4.5" fill="#e7d3d7"/><rect x="228.4" y="142.6" width="4.5" height="4.5" fill="#e7d3d7"/><rect x="232.4" y="142.6" width="4.5" height="4.5" fill="#e7d3d7"/><rect x="236.4" y="142.6" width="4.5" height="4.5" fill="#e7d3d7"/><rect x="240.4" y="142.6" width="4.5" height="4.5" fill="#e6d2d7"/><rect x="244.4" y="142.6" width="4.5" height="4.5" fill="#e6d2d7"/><rect x="248.4" y="142.6" width="4.5" height="4.5" fill="#e5d1d8"/><rect x="252.4" y="142.6" width="4.5" height="4.5" fill="#e3d1d9"/><rect x="256.4" y="142.6" width="4.5" height="4.5" fill="#e1d1da"/><rect x="260.4" y="142.6" width="4.5" height="4.5" fill="#ded2dd"/><rect x="264.4" y="142.6" width="4.5" height="4.5" fill="#dbd3e1"/><rect x="268.4" y="142.6" width="4.5" height="4.5" fill="#d7d5e5"/><rect x="272.4" y="142.6" width="4.5" height="4.5" fill="#d4d7e8"/><rect x="276.4" y="142.6" width="4.5" height="4.5" fill="#d1d8eb"/><rect x="280.4" y="142.6" width="4.5" height="4.5" fill="#d0d9ed"/><rect x="284.4" y="142.6" width="4.5" height="4.5" fill="#cfd9ed"/><rect x="288.4" y="142.6" width="4.5" height="4.5" fill="#d0d8ed"/><rect x="292.4" y="142.6" width="4.5" height="4.5" fill="#d1d7ec"/><rect x="296.4" y="142.6" width="4.5" height="4.5" fill="#d3d6ea"/><rect x="300.4" y="142.6" width="4.5" height="4.5" fill="#d4d6e9"/><rect x="304.4" y="142.6" width="4.5" height="4.5" fill="#d5d5e8"/></g></g>
<g stroke="#2e2c38" stroke-width="1.45" fill="#2e2c38" clip-path="url(#clipb)"><line x1="74.7" y1="28.0" x2="69.8" y2="14.8"/><polygon points="68.3,10.7 72.5,15.5 69.8,14.8 68.2,17.1"/><line x1="74.3" y1="46.0" x2="70.8" y2="33.6"/><polygon points="69.6,29.4 73.4,34.5 70.8,33.6 69.0,35.8"/><line x1="74.3" y1="62.4" x2="71.9" y2="51.3"/><polygon points="71.0,47.0 74.5,52.4 71.9,51.3 70.0,53.3"/><line x1="71.0" y1="81.0" x2="72.1" y2="68.4"/><polygon points="72.5,64.0 74.3,70.2 72.1,68.4 69.7,69.8"/><line x1="70.2" y1="100.0" x2="72.1" y2="89.7"/><polygon points="72.9,85.4 74.1,91.7 72.1,89.7 69.5,90.9"/><line x1="69.3" y1="118.1" x2="72.6" y2="106.0"/><polygon points="73.8,101.8 74.4,108.2 72.6,106.0 70.0,107.0"/><line x1="69.3" y1="137.1" x2="72.7" y2="124.2"/><polygon points="73.8,119.9 74.5,126.3 72.7,124.2 70.1,125.1"/><line x1="93.7" y1="28.0" x2="87.5" y2="14.7"/><polygon points="85.6,10.7 90.2,15.2 87.5,14.7 86.1,17.1"/><line x1="93.7" y1="43.4" x2="88.7" y2="34.5"/><polygon points="86.5,30.7 91.5,34.8 88.7,34.5 87.5,37.1"/><line x1="92.0" y1="59.7" x2="90.0" y2="54.7"/><polygon points="88.3,50.6 92.7,55.3 90.0,54.7 88.4,57.0"/><line x1="89.2" y1="78.0" x2="89.2" y2="73.4"/><polygon points="89.2,69.0 91.5,75.0 89.2,73.4 86.9,75.0"/><line x1="87.4" y1="96.3" x2="89.4" y2="91.3"/><polygon points="91.0,87.2 90.9,93.6 89.4,91.3 86.7,91.9"/><line x1="86.5" y1="117.2" x2="91.7" y2="107.5"/><polygon points="93.8,103.6 93.0,110.0 91.7,107.5 88.9,107.8"/><line x1="84.7" y1="136.2" x2="91.7" y2="123.7"/><polygon points="93.8,119.9 92.9,126.3 91.7,123.7 88.9,124.0"/><line x1="114.6" y1="27.0" x2="104.9" y2="15.8"/><polygon points="102.0,12.5 107.7,15.5 104.9,15.8 104.2,18.5"/><line x1="112.8" y1="41.6" x2="105.6" y2="36.8"/><polygon points="102.0,34.3 108.3,35.8 105.6,36.8 105.7,39.6"/><line x1="112.8" y1="58.0" x2="109.6" y2="56.7"/><polygon points="105.5,55.0 111.9,55.2 109.6,56.7 110.2,59.4"/><line x1="101.9" y1="114.4" x2="108.6" y2="108.3"/><polygon points="111.9,105.4 109.0,111.1 108.6,108.3 105.9,107.7"/><line x1="101.9" y1="134.4" x2="110.8" y2="124.1"/><polygon points="113.7,120.8 111.5,126.8 110.8,124.1 108.0,123.8"/><line x1="134.6" y1="23.4" x2="121.3" y2="17.2"/><polygon points="117.3,15.3 123.7,15.8 121.3,17.2 121.8,19.9"/><line x1="133.7" y1="38.0" x2="122.6" y2="37.3"/><polygon points="118.2,37.0 124.3,35.1 122.6,37.3 124.0,39.7"/><line x1="130.0" y1="56.0" x2="125.3" y2="57.0"/><polygon points="121.0,58.0 126.4,54.5 125.3,57.0 127.4,58.9"/><line x1="121.9" y1="90.0" x2="124.4" y2="92.0"/><polygon points="127.8,94.8 121.7,92.8 124.4,92.0 124.6,89.2"/><line x1="118.3" y1="109.0" x2="128.4" y2="109.0"/><polygon points="132.8,109.0 126.8,111.3 128.4,109.0 126.8,106.7"/><line x1="117.3" y1="130.8" x2="128.8" y2="125.4"/><polygon points="132.8,123.5 128.4,128.1 128.8,125.4 126.4,124.0"/><line x1="150.7" y1="19.8" x2="138.1" y2="18.3"/><polygon points="133.7,17.8 139.9,16.2 138.1,18.3 139.4,20.8"/><line x1="151.8" y1="35.0" x2="142.4" y2="36.4"/><polygon points="138.0,37.0 143.6,33.9 142.4,36.4 144.3,38.4"/><line x1="149.0" y1="50.6" x2="140.8" y2="58.0"/><polygon points="137.5,61.0 140.4,55.3 140.8,58.0 143.5,58.7"/><line x1="143.5" y1="65.5" x2="143.5" y2="76.6"/><polygon points="143.5,81.0 141.2,75.0 143.5,76.6 145.8,75.0"/><line x1="140.0" y1="87.2" x2="146.2" y2="94.6"/><polygon points="149.0,98.0 143.4,94.9 146.2,94.6 146.9,91.9"/><line x1="133.0" y1="107.0" x2="146.6" y2="110.6"/><polygon points="150.9,111.7 144.5,112.4 146.6,110.6 145.7,108.0"/><line x1="134.0" y1="129.0" x2="148.3" y2="126.9"/><polygon points="152.7,126.2 147.1,129.4 148.3,126.9 146.4,124.8"/><line x1="169.3" y1="20.3" x2="155.1" y2="19.7"/><polygon points="150.7,19.5 156.8,17.5 155.1,19.7 156.6,22.1"/><line x1="170.8" y1="31.6" x2="156.5" y2="40.2"/><polygon points="152.7,42.5 156.7,37.4 156.5,40.2 159.0,41.4"/><line x1="167.2" y1="46.0" x2="157.0" y2="60.6"/><polygon points="154.5,64.2 156.0,58.0 157.0,60.6 159.8,60.6"/><line x1="161.8" y1="64.0" x2="161.8" y2="77.6"/><polygon points="161.8,82.0 159.5,76.0 161.8,77.6 164.1,76.0"/><line x1="156.3" y1="82.7" x2="164.2" y2="96.9"/><polygon points="166.3,100.8 161.4,96.7 164.2,96.9 165.4,94.4"/><line x1="151.8" y1="103.6" x2="166.1" y2="112.1"/><polygon points="169.9,114.4 163.6,113.3 166.1,112.1 165.9,109.4"/><line x1="152.0" y1="128.5" x2="165.5" y2="127.9"/><polygon points="169.9,127.7 164.0,130.3 165.5,127.9 163.8,125.7"/><line x1="185.6" y1="20.3" x2="173.7" y2="19.9"/><polygon points="169.3,19.8 175.4,17.7 173.7,19.9 175.2,22.3"/><line x1="189.9" y1="31.6" x2="172.9" y2="40.5"/><polygon points="169.0,42.5 173.3,37.7 172.9,40.5 175.4,41.8"/><line x1="184.4" y1="46.0" x2="175.1" y2="60.5"/><polygon points="172.7,64.2 174.0,57.9 175.1,60.5 177.9,60.4"/><line x1="178.1" y1="64.0" x2="178.1" y2="77.6"/><polygon points="178.1,82.0 175.8,76.0 178.1,77.6 180.4,76.0"/><line x1="173.6" y1="80.9" x2="182.4" y2="97.8"/><polygon points="184.4,101.7 179.6,97.4 182.4,97.8 183.7,95.3"/><line x1="169.9" y1="102.7" x2="184.5" y2="112.9"/><polygon points="188.1,115.4 181.9,113.9 184.5,112.9 184.5,110.1"/><line x1="171.0" y1="128.5" x2="184.6" y2="127.9"/><polygon points="189.0,127.7 183.1,130.3 184.6,127.9 182.9,125.7"/><line x1="205.6" y1="20.0" x2="190.0" y2="19.8"/><polygon points="185.6,19.8 191.6,17.6 190.0,19.8 191.6,22.2"/><line x1="206.2" y1="32.5" x2="191.2" y2="39.7"/><polygon points="187.2,41.6 191.6,36.9 191.2,39.7 193.6,41.1"/><line x1="202.6" y1="46.0" x2="194.1" y2="58.7"/><polygon points="191.7,62.4 193.1,56.1 194.1,58.7 196.9,58.7"/><line x1="197.1" y1="64.0" x2="197.1" y2="77.6"/><polygon points="197.1,82.0 194.8,76.0 197.1,77.6 199.4,76.0"/><line x1="190.8" y1="81.8" x2="199.5" y2="97.0"/><polygon points="201.7,100.8 196.7,96.7 199.5,97.0 200.7,94.5"/><line x1="188.1" y1="103.6" x2="202.4" y2="112.1"/><polygon points="206.2,114.4 199.9,113.3 202.4,112.1 202.2,109.4"/><line x1="188.0" y1="128.5" x2="201.8" y2="127.9"/><polygon points="206.2,127.7 200.3,130.3 201.8,127.9 200.1,125.7"/><line x1="224.8" y1="19.5" x2="210.0" y2="19.1"/><polygon points="205.6,19.0 211.7,16.9 210.0,19.1 211.5,21.5"/><line x1="219.8" y1="35.2" x2="210.3" y2="39.1"/><polygon points="206.2,40.7 210.9,36.3 210.3,39.1 212.6,40.6"/><line x1="218.0" y1="48.8" x2="212.1" y2="58.6"/><polygon points="209.8,62.4 210.9,56.1 212.1,58.6 214.9,58.4"/><line x1="209.0" y1="83.6" x2="216.9" y2="92.9"/><polygon points="219.8,96.3 214.2,93.2 216.9,92.9 217.7,90.2"/><line x1="206.2" y1="105.4" x2="215.8" y2="109.9"/><polygon points="219.8,111.7 213.4,111.3 215.8,109.9 215.3,107.1"/><line x1="206.5" y1="129.5" x2="220.2" y2="126.5"/><polygon points="224.5,125.5 219.1,129.0 220.2,126.5 218.1,124.6"/><line x1="241.3" y1="23.4" x2="228.9" y2="17.3"/><polygon points="225.0,15.3 231.4,15.9 228.9,17.3 229.3,20.0"/><line x1="240.4" y1="37.9" x2="230.3" y2="36.6"/><polygon points="225.9,36.1 232.1,34.6 230.3,36.6 231.6,39.1"/><line x1="237.7" y1="52.4" x2="230.7" y2="55.9"/><polygon points="226.8,57.9 231.1,53.1 230.7,55.9 233.2,57.3"/><line x1="234.0" y1="67.0" x2="231.7" y2="74.8"/><polygon points="230.5,79.0 230.0,72.6 231.7,74.8 234.4,73.9"/><line x1="229.0" y1="90.5" x2="232.3" y2="91.6"/><polygon points="236.5,93.0 230.1,93.3 232.3,91.6 231.5,88.9"/><line x1="225.9" y1="109.0" x2="233.3" y2="109.0"/><polygon points="237.7,109.0 231.7,111.3 233.3,109.0 231.7,106.7"/><line x1="224.0" y1="131.7" x2="234.7" y2="126.4"/><polygon points="238.6,124.4 234.3,129.1 234.7,126.4 232.2,125.0"/><line x1="258.5" y1="27.0" x2="248.1" y2="16.5"/><polygon points="245.0,13.4 250.9,16.0 248.1,16.5 247.6,19.3"/><line x1="255.8" y1="41.6" x2="248.4" y2="35.3"/><polygon points="245.0,32.5 251.1,34.6 248.4,35.3 248.1,38.1"/><line x1="255.0" y1="57.9" x2="251.4" y2="55.7"/><polygon points="247.7,53.4 254.0,54.6 251.4,55.7 251.6,58.5"/><line x1="247.7" y1="93.6" x2="251.1" y2="91.7"/><polygon points="254.9,89.6 250.8,94.5 251.1,91.7 248.5,90.5"/><line x1="245.0" y1="114.4" x2="252.4" y2="108.2"/><polygon points="255.8,105.4 252.7,111.0 252.4,108.2 249.7,107.5"/><line x1="244.0" y1="132.6" x2="252.4" y2="125.4"/><polygon points="255.8,122.6 252.7,128.2 252.4,125.4 249.7,124.7"/><line x1="274.0" y1="28.0" x2="266.3" y2="15.4"/><polygon points="264.0,11.6 269.1,15.5 266.3,15.4 265.2,17.9"/><line x1="272.2" y1="43.4" x2="267.2" y2="34.5"/><polygon points="265.0,30.7 270.0,34.8 267.2,34.5 266.0,37.1"/><line x1="271.3" y1="60.6" x2="267.9" y2="54.5"/><polygon points="265.8,50.6 270.7,54.7 267.9,54.5 266.7,57.0"/><line x1="268.0" y1="78.0" x2="267.7" y2="68.4"/><polygon points="267.6,64.0 270.1,69.9 267.7,68.4 265.5,70.1"/><line x1="265.8" y1="96.3" x2="268.7" y2="88.6"/><polygon points="270.3,84.5 270.3,90.9 268.7,88.6 266.0,89.3"/><line x1="263.1" y1="116.3" x2="269.6" y2="107.2"/><polygon points="272.2,103.6 270.6,109.8 269.6,107.2 266.8,107.1"/><line x1="263.1" y1="136.2" x2="270.0" y2="123.8"/><polygon points="272.2,120.0 271.3,126.4 270.0,123.8 267.3,124.1"/><line x1="289.4" y1="29.8" x2="285.3" y2="15.8"/><polygon points="284.0,11.6 287.9,16.7 285.3,15.8 283.5,18.0"/><line x1="288.5" y1="47.0" x2="285.1" y2="33.2"/><polygon points="284.0,28.9 287.7,34.2 285.1,33.2 283.2,35.3"/><line x1="288.5" y1="66.0" x2="285.7" y2="51.3"/><polygon points="284.9,47.0 288.3,52.5 285.7,51.3 283.8,53.3"/><line x1="286.0" y1="80.0" x2="285.9" y2="69.4"/><polygon points="285.8,65.0 288.2,71.0 285.9,69.4 283.6,71.0"/><line x1="284.0" y1="99.9" x2="286.7" y2="87.9"/><polygon points="287.6,83.6 288.6,90.0 286.7,87.9 284.1,89.0"/><line x1="284.0" y1="118.1" x2="288.0" y2="105.9"/><polygon points="289.4,101.7 289.7,108.1 288.0,105.9 285.3,106.7"/><line x1="283.0" y1="137.1" x2="288.0" y2="122.3"/><polygon points="289.4,118.1 289.7,124.5 288.0,122.3 285.3,123.1"/></g>
<line x1="62.8" y1="79" x2="303.3" y2="79" stroke="#fff" stroke-width="2" stroke-dasharray="6.6 4.49"/>
<line x1="112.7" y1="72.7" x2="103.4" y2="63.9" stroke="#fff" stroke-width="4.7"/><polygon fill="#fff" points="97.2,58.1 107.7,60.8 100.5,68.4"/><line x1="140.8" y1="57.2" x2="131.4" y2="66.7" stroke="#fff" stroke-width="4.7"/><polygon fill="#fff" points="125.4,72.7 128.4,62.3 135.8,69.6"/><line x1="99.0" y1="98.0" x2="108.3" y2="89.4" stroke="#fff" stroke-width="4.7"/><polygon fill="#fff" points="114.5,83.6 111.1,93.9 104.0,86.3"/><line x1="124.5" y1="85.4" x2="134.3" y2="93.6" stroke="#fff" stroke-width="4.7"/><polygon fill="#fff" points="140.8,99.0 130.2,96.9 136.8,88.9"/>
<path d="M 230.4 63.4 A 12.3 12.3 0 1 0 237.9 79.2" fill="none" stroke="#fff" stroke-width="4.7"/>
<polygon fill="#fff" points="237.3,67.8 251.3,79.5 236,83.5"/>
<text x="37" y="2.5" font-family="Liberation Sans, sans-serif" font-size="21" font-weight="bold">b</text>
<!-- panel c -->
<text x="39" y="165.5" font-family="Liberation Sans, sans-serif" font-size="21" stroke="#000" stroke-width="0.4">c</text>
<rect x="64.3" y="182.2" width="234.6" height="146.8" fill="none" stroke="#8a8a8a" stroke-width="1.3"/><g stroke="#777" stroke-width="1.1"><line x1="64.3" y1="329" x2="64.3" y2="331"/><line x1="103.4" y1="329" x2="103.4" y2="330.5"/><line x1="142.5" y1="329" x2="142.5" y2="331"/><line x1="181.6" y1="329" x2="181.6" y2="330.5"/><line x1="220.7" y1="329" x2="220.7" y2="331"/><line x1="259.8" y1="329" x2="259.8" y2="330.5"/><line x1="298.9" y1="329" x2="298.9" y2="331"/><line x1="61.6" y1="182.2" x2="64.3" y2="182.2"/><line x1="63" y1="200.5" x2="64.3" y2="200.5"/><line x1="61.6" y1="218.9" x2="64.3" y2="218.9"/><line x1="63" y1="237.2" x2="64.3" y2="237.2"/><line x1="61.6" y1="255.6" x2="64.3" y2="255.6"/><line x1="63" y1="273.9" x2="64.3" y2="273.9"/><line x1="61.6" y1="292.3" x2="64.3" y2="292.3"/><line x1="63" y1="310.7" x2="64.3" y2="310.7"/><line x1="61.6" y1="329.0" x2="64.3" y2="329.0"/></g>
<g font-family="Liberation Sans, sans-serif" font-size="16" fill="#111" text-anchor="end">
<text x="60" y="186.2">0.06</text><text x="60" y="223">0.03</text><text x="60.3" y="259.4">0.00</text><text x="62" y="297.2">-0.03</text><text x="63.6" y="333">-0.06</text>
</g>
<g font-family="Liberation Sans, sans-serif" font-size="16" fill="#111" text-anchor="middle">
<text x="64.5" y="346">1</text><text x="142.6" y="346">2</text><text x="220.9" y="346">3</text><text x="299" y="346">4</text>
</g>
<text transform="translate(21,248.5) rotate(-90)" font-family="Liberation Sans, sans-serif" font-size="18.5" text-anchor="middle" fill="#111">RMCD</text>
<text x="187" y="375" font-family="Liberation Sans, sans-serif" font-size="19.5" text-anchor="middle" fill="#111">s (&#956;m)</text>
<g clip-path="url(#clipc)"><path d="M63.3,269.0 L74.9,272.1 L86.6,280.8 L98.2,290.6 L109.8,299.7 L121.5,307.4 L133.1,307.4 L144.7,301.8 L156.3,285.2 L168.0,264.5 L179.6,238.5 L191.2,223.8 L202.9,214.0 L214.5,207.0 L226.1,203.5 L237.8,206.8 L249.4,216.3 L261.0,226.1 L272.6,238.9 L284.3,247.8 L295.9,251.7" fill="none" stroke="#e07070" stroke-width="0.9"/>
<circle cx="63.3" cy="269.0" r="2.65" fill="url(#gdot)" stroke="#b84040" stroke-width="0.4"/><circle cx="74.9" cy="272.1" r="2.65" fill="url(#gdot)" stroke="#b84040" stroke-width="0.4"/><circle cx="86.6" cy="280.8" r="2.65" fill="url(#gdot)" stroke="#b84040" stroke-width="0.4"/><circle cx="98.2" cy="290.6" r="2.65" fill="url(#gdot)" stroke="#b84040" stroke-width="0.4"/><circle cx="109.8" cy="299.7" r="2.65" fill="url(#gdot)" stroke="#b84040" stroke-width="0.4"/><circle cx="121.5" cy="307.4" r="2.65" fill="url(#gdot)" stroke="#b84040" stroke-width="0.4"/><circle cx="133.1" cy="307.4" r="2.65" fill="url(#gdot)" stroke="#b84040" stroke-width="0.4"/><circle cx="144.7" cy="301.8" r="2.65" fill="url(#gdot)" stroke="#b84040" stroke-width="0.4"/><circle cx="156.3" cy="285.2" r="2.65" fill="url(#gdot)" stroke="#b84040" stroke-width="0.4"/><circle cx="168.0" cy="264.5" r="2.65" fill="url(#gdot)" stroke="#b84040" stroke-width="0.4"/><circle cx="179.6" cy="238.5" r="2.65" fill="url(#gdot)" stroke="#b84040" stroke-width="0.4"/><circle cx="191.2" cy="223.8" r="2.65" fill="url(#gdot)" stroke="#b84040" stroke-width="0.4"/><circle cx="202.9" cy="214.0" r="2.65" fill="url(#gdot)" stroke="#b84040" stroke-width="0.4"/><circle cx="214.5" cy="207.0" r="2.65" fill="url(#gdot)" stroke="#b84040" stroke-width="0.4"/><circle cx="226.1" cy="203.5" r="2.65" fill="url(#gdot)" stroke="#b84040" stroke-width="0.4"/><circle cx="237.8" cy="206.8" r="2.65" fill="url(#gdot)" stroke="#b84040" stroke-width="0.4"/><circle cx="249.4" cy="216.3" r="2.65" fill="url(#gdot)" stroke="#b84040" stroke-width="0.4"/><circle cx="261.0" cy="226.1" r="2.65" fill="url(#gdot)" stroke="#b84040" stroke-width="0.4"/><circle cx="272.6" cy="238.9" r="2.65" fill="url(#gdot)" stroke="#b84040" stroke-width="0.4"/><circle cx="284.3" cy="247.8" r="2.65" fill="url(#gdot)" stroke="#b84040" stroke-width="0.4"/><circle cx="295.9" cy="251.7" r="2.65" fill="url(#gdot)" stroke="#b84040" stroke-width="0.4"/></g>
<text x="75" y="225.5" font-family="Liberation Sans, sans-serif" font-size="15.9" fill="#111">core-down spin</text>
<text x="191" y="294.8" font-family="Liberation Sans, sans-serif" font-size="15.9" fill="#111">core-up spin</text>
<line x1="128" y1="230" x2="128" y2="288" stroke="#000" stroke-width="2"/>
<polygon points="123.5,286.5 132.5,286.5 128,296.5" fill="#000"/>
<circle cx="127.9" cy="261.1" r="15.5" fill="url(#gblue)"/>
<line x1="228.2" y1="219" x2="228.2" y2="278" stroke="#000" stroke-width="2"/>
<polygon points="223.7,221.5 232.7,221.5 228.2,212" fill="#000"/>
<circle cx="228.4" cy="245.9" r="15.5" fill="url(#gred)"/>
<!-- panel d -->
<text x="343" y="1.8" font-family="Liberation Sans, sans-serif" font-size="21" font-weight="bold">d</text>
<rect x="396.8" y="15.2" width="265.4" height="315.2" fill="none" stroke="#444" stroke-width="1.5"/><g stroke="#444" stroke-width="1.3"><line x1="396.8" y1="330.4" x2="396.8" y2="334"/><line x1="418.9" y1="330.4" x2="418.9" y2="332.5"/><line x1="441.0" y1="330.4" x2="441.0" y2="334"/><line x1="463.1" y1="330.4" x2="463.1" y2="332.5"/><line x1="485.2" y1="330.4" x2="485.2" y2="334"/><line x1="507.3" y1="330.4" x2="507.3" y2="332.5"/><line x1="529.4" y1="330.4" x2="529.4" y2="334"/><line x1="551.5" y1="330.4" x2="551.5" y2="332.5"/><line x1="573.6" y1="330.4" x2="573.6" y2="334"/><line x1="595.7" y1="330.4" x2="595.7" y2="332.5"/><line x1="617.8" y1="330.4" x2="617.8" y2="334"/><line x1="639.9" y1="330.4" x2="639.9" y2="332.5"/><line x1="662.0" y1="330.4" x2="662.0" y2="334"/><line x1="392" y1="15.2" x2="396.8" y2="15.2"/><line x1="394" y1="54.6" x2="396.8" y2="54.6"/><line x1="392" y1="94.0" x2="396.8" y2="94.0"/><line x1="394" y1="133.4" x2="396.8" y2="133.4"/><line x1="392" y1="172.8" x2="396.8" y2="172.8"/><line x1="394" y1="212.2" x2="396.8" y2="212.2"/><line x1="392" y1="251.6" x2="396.8" y2="251.6"/><line x1="394" y1="291.0" x2="396.8" y2="291.0"/><line x1="392" y1="330.4" x2="396.8" y2="330.4"/></g>
<g font-family="Liberation Sans, sans-serif" font-size="15.5" fill="#111" text-anchor="end">
<text x="390" y="20.2">0.02</text><text x="390" y="98.8">0.01</text><text x="390" y="177.6">0.00</text><text x="390.5" y="256.5">-0.01</text><text x="390" y="335.5">-0.02</text>
</g>
<g font-family="Liberation Sans, sans-serif" font-size="14.8" fill="#111" text-anchor="middle">
<text x="397" y="350">-3</text><text x="441.2" y="350">-2</text><text x="485.3" y="350">-1</text><text x="529.5" y="350">0</text><text x="573.7" y="350">1</text><text x="617.8" y="350">2</text><text x="662" y="350">3</text>
</g>
<text transform="translate(347.5,168.3) rotate(-90)" font-family="Liberation Sans, sans-serif" font-size="19.5" text-anchor="middle" fill="#111">RMCD</text>
<g font-family="Liberation Sans, sans-serif" fill="#111"><text x="500.3" y="375.5" font-size="18" font-style="italic">&#956;</text><text x="509.8" y="382.5" font-size="11" font-style="italic">0</text><text x="516.8" y="375.7" font-size="19.8" font-style="italic">H</text><text x="537.4" y="375.7" font-size="19.8">(T)</text></g>
<text x="421.5" y="45.9" font-family="Liberation Sans, sans-serif" font-size="14.3" fill="#111">non-collinear antiferromagnetism</text>
<line x1="429.3" y1="69.7" x2="440.8" y2="68.9" stroke="#e81818" stroke-width="2"/><polygon fill="#f01010" points="408.2,68.9 429.5,65.6 429.1,73.8"/><circle cx="429.3" cy="69.7" r="6.5" fill="url(#gcyan)"/><line x1="462.4" y1="70.7" x2="470.7" y2="60.6" stroke="#e81818" stroke-width="2"/><polygon fill="#f01010" points="449.5,86.0 459.3,68.1 465.5,73.3"/><circle cx="462.4" cy="70.7" r="6.5" fill="url(#gcyan)"/><line x1="489.0" y1="69.7" x2="485.1" y2="55.8" stroke="#e81818" stroke-width="2"/><polygon fill="#f01010" points="492.8,86.7 485.0,70.6 493.0,68.8"/><circle cx="489.0" cy="69.7" r="6.5" fill="url(#gcyan)"/><line x1="517.9" y1="70.7" x2="508.3" y2="64.5" stroke="#e81818" stroke-width="2"/><polygon fill="#f01010" points="534.3,77.0 516.4,74.5 519.4,66.9"/><circle cx="517.9" cy="70.7" r="6.5" fill="url(#gcyan)"/><line x1="550.2" y1="70.7" x2="535.8" y2="76.6" stroke="#e81818" stroke-width="2"/><polygon fill="#f01010" points="565.6,61.6 552.3,74.2 548.1,67.2"/><circle cx="550.2" cy="70.7" r="6.5" fill="url(#gcyan)"/><line x1="581.0" y1="69.7" x2="575.9" y2="82.4" stroke="#e81818" stroke-width="2"/><polygon fill="#f01010" points="586.3,52.4 584.9,70.9 577.1,68.5"/><circle cx="581.0" cy="69.7" r="6.5" fill="url(#gcyan)"/><line x1="612.9" y1="69.7" x2="620.6" y2="81.3" stroke="#e81818" stroke-width="2"/><polygon fill="#f01010" points="600.9,55.8 616.0,67.0 609.8,72.4"/><circle cx="612.9" cy="69.7" r="6.5" fill="url(#gcyan)"/><line x1="645.2" y1="70.7" x2="657.2" y2="69.7" stroke="#e81818" stroke-width="2"/><polygon fill="#f01010" points="622.1,69.7 645.4,66.6 645.0,74.8"/><circle cx="645.2" cy="70.7" r="6.5" fill="url(#gcyan)"/>
<text x="417" y="138.2" font-family="Liberation Sans, sans-serif" font-size="18.5" fill="#111">10 K</text>
<path d="M396.4,261.3 C397.6,261.4 401.5,262.1 403.6,262.0 C405.8,261.9 407.2,261.6 409.3,260.9 C411.4,260.2 414.0,259.0 416.4,257.8 C418.8,256.6 421.4,255.1 423.5,253.8 C425.6,252.5 427.3,251.5 429.2,249.9 C431.1,248.3 433.0,246.2 434.9,244.2 C436.8,242.2 438.5,240.1 440.6,237.8 C442.8,235.6 445.4,233.3 447.8,230.7 C450.2,228.1 452.5,225.4 454.9,222.1 C457.3,218.8 459.7,213.8 462.1,210.6 C464.5,207.4 467.2,205.1 469.3,202.8 C471.4,200.6 473.2,198.9 475.0,197.1 C476.8,195.3 478.2,193.4 480.0,192.1 C481.8,190.8 483.9,189.9 485.7,189.2 C487.5,188.5 488.6,188.5 490.6,187.8 C492.6,187.1 495.4,186.0 497.8,185.0 C500.2,184.0 502.5,182.8 504.9,181.8 C507.3,180.8 509.6,179.9 512.0,179.0 C514.4,178.1 516.7,177.5 519.2,176.1 C521.7,174.7 524.6,172.1 527.1,170.6 C529.6,169.1 531.9,168.3 534.3,167.0 C536.7,165.7 539.0,164.2 541.4,162.8 C543.8,161.4 546.1,160.0 548.5,158.8 C550.9,157.6 553.2,156.7 555.6,155.6 C558.0,154.5 560.6,153.7 562.8,152.5 C564.9,151.3 566.6,150.1 568.5,148.5 C570.4,146.9 572.3,144.5 574.2,142.8 C576.1,141.1 577.9,140.4 579.9,138.5 C581.9,136.6 584.1,134.0 586.4,131.5 C588.7,129.0 591.2,126.1 593.6,123.6 C596.0,121.1 598.3,118.9 600.7,116.5 C603.1,114.1 605.4,111.8 607.8,109.4 C610.2,107.0 612.6,104.5 615.0,102.2 C617.4,99.9 619.7,97.8 622.1,95.8 C624.5,93.8 626.8,91.6 629.2,90.1 C631.6,88.6 633.9,87.7 636.3,86.8 C638.7,85.9 641.1,85.3 643.5,84.8 C645.9,84.3 648.2,83.9 650.6,83.7 C653.0,83.5 655.7,83.4 657.7,83.4 C659.7,83.5 661.9,83.9 662.7,84.0" fill="none" stroke="#1c1cc8" stroke-width="2.1" stroke-linejoin="round"/>
<path d="M396.4,262.8 C397.6,262.9 401.5,263.5 403.6,263.5 C405.8,263.5 407.2,263.4 409.3,262.8 C411.4,262.2 414.0,261.0 416.4,259.9 C418.8,258.8 421.1,257.7 423.5,256.3 C425.9,254.9 428.2,253.4 430.6,251.4 C433.0,249.4 435.4,246.7 437.8,244.2 C440.2,241.7 442.5,239.0 444.9,236.4 C447.3,233.8 449.6,231.1 452.0,228.5 C454.4,225.9 456.8,223.6 459.2,220.7 C461.6,217.8 464.0,214.1 466.4,211.3 C468.8,208.6 471.1,206.4 473.5,204.2 C475.9,201.9 478.3,200.1 480.7,197.8 C483.1,195.6 485.9,192.4 487.8,190.7 C489.7,189.0 490.4,188.6 492.1,187.8 C493.8,187.0 495.7,186.8 497.8,186.1 C499.9,185.4 502.5,184.4 504.9,183.5 C507.3,182.6 509.6,181.7 512.0,180.7 C514.4,179.7 517.1,178.4 519.2,177.5 C521.4,176.6 522.9,176.0 524.9,175.0 C526.9,174.0 529.1,172.5 531.4,171.3 C533.7,170.1 536.1,169.1 538.5,167.8 C540.9,166.5 543.3,164.8 545.7,163.5 C548.1,162.2 550.4,161.0 552.8,159.9 C555.2,158.8 557.5,158.2 559.9,157.1 C562.3,156.0 564.9,154.8 567.0,153.5 C569.1,152.2 570.9,150.9 572.8,149.2 C574.7,147.5 576.6,145.4 578.5,143.5 C580.4,141.6 582.4,139.7 584.2,137.8 C586.0,135.9 587.3,134.4 589.3,132.2 C591.3,129.9 594.0,126.8 596.4,124.3 C598.8,121.8 601.1,119.6 603.5,117.2 C605.9,114.8 608.3,112.5 610.7,110.1 C613.1,107.7 615.4,105.3 617.8,103.0 C620.2,100.7 622.5,98.5 624.9,96.5 C627.3,94.5 629.7,92.5 632.1,91.1 C634.5,89.7 636.8,88.9 639.2,88.0 C641.6,87.1 643.9,86.3 646.3,85.8 C648.7,85.3 651.2,85.0 653.4,84.8 C655.5,84.6 657.7,84.5 659.2,84.4 C660.8,84.3 662.1,84.1 662.7,84.0" fill="none" stroke="#e01c24" stroke-width="2.1" stroke-linejoin="round"/>
<line x1="521.6" y1="258.8" x2="549" y2="258.8" stroke="#1c1cc8" stroke-width="2.2"/>
<line x1="521.6" y1="291.2" x2="549.6" y2="291.2" stroke="#e01c24" stroke-width="2.2"/>
<g font-family="Liberation Sans, sans-serif" font-size="18" font-style="italic" fill="#111">
<text x="566" y="266.3">+H</text><text x="619" y="266.3">-H</text>
<text x="565" y="297.6">+H</text><text x="618" y="297.6">-H</text>
</g>
<g stroke="#444" stroke-width="1.2"><line x1="598" y1="259.5" x2="615.5" y2="259.5"/><line x1="596" y1="291" x2="614" y2="291"/></g>
<polygon points="593.5,259.5 600,256.5 599,259.5 600,262.5" fill="#222"/>
<polygon points="591.5,291 598,288 597,291 598,294" fill="#222"/>
</svg>
</body></html>
